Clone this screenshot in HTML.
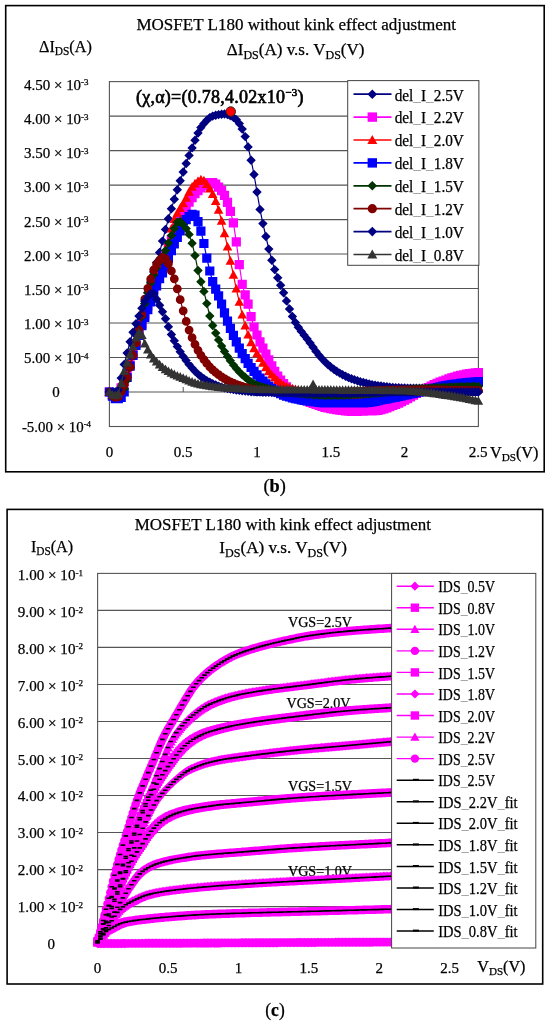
<!DOCTYPE html>
<html><head><meta charset="utf-8"><title>MOSFET L180 kink effect</title>
<style>html,body{margin:0;padding:0;background:#fff;}svg{display:block;}text{font-family:"Liberation Serif", "DejaVu Serif", serif;stroke:#000;stroke-width:0.25px;}</style>
</head><body>
<svg width="550" height="1025" viewBox="0 0 550 1025">
<rect width="550" height="1025" fill="#fff"/>
<rect x="5.7" y="5.6" width="538.5" height="466.2" fill="none" stroke="#000" stroke-width="1.6"/>
<line x1="109.4" x2="478.4" y1="392" y2="392" stroke="#555" stroke-width="1.1"/>
<line x1="109.4" x2="478.4" y1="357.5" y2="357.5" stroke="#555" stroke-width="1.1"/>
<line x1="109.4" x2="478.4" y1="323" y2="323" stroke="#555" stroke-width="1.1"/>
<line x1="109.4" x2="478.4" y1="288.5" y2="288.5" stroke="#555" stroke-width="1.1"/>
<line x1="109.4" x2="478.4" y1="254" y2="254" stroke="#555" stroke-width="1.1"/>
<line x1="109.4" x2="478.4" y1="219.6" y2="219.6" stroke="#555" stroke-width="1.1"/>
<line x1="109.4" x2="478.4" y1="185.1" y2="185.1" stroke="#555" stroke-width="1.1"/>
<line x1="109.4" x2="478.4" y1="150.6" y2="150.6" stroke="#555" stroke-width="1.1"/>
<line x1="109.4" x2="478.4" y1="116.1" y2="116.1" stroke="#555" stroke-width="1.1"/>
<line x1="183.2" x2="183.2" y1="387" y2="392" stroke="#555" stroke-width="1"/>
<line x1="257" x2="257" y1="387" y2="392" stroke="#555" stroke-width="1"/>
<line x1="330.8" x2="330.8" y1="387" y2="392" stroke="#555" stroke-width="1"/>
<line x1="404.6" x2="404.6" y1="387" y2="392" stroke="#555" stroke-width="1"/>
<line x1="478.4" x2="478.4" y1="387" y2="392" stroke="#555" stroke-width="1"/>
<rect x="109.4" y="81.6" width="369" height="344.9" fill="none" stroke="#555" stroke-width="1.1"/>
<g>
<polyline points="109.4,392 112.4,395 115.3,395.4 118.3,391.9 121.2,385.1 124.2,377 127.1,366.7 130.1,355.8 133,345.5 136,335.1 138.9,324.6 141.9,314 144.8,303.4 147.8,292.6 150.7,281.9 153.7,271.9 156.6,262.5 159.6,252.5 162.5,241.1 165.5,229.4 168.4,218.8 171.4,208.8 174.3,199.2 177.3,189.8 180.2,180.7 183.2,172 186.2,163.5 189.1,155.4 192.1,147.9 195,140.2 198,133.1 200.9,127.5 203.9,123.6 206.8,120.2 209.8,117.6 212.7,116.1 215.7,115.3 218.6,114.6 221.6,114.2 224.5,114 227.5,114.5 230.4,115.7 233.4,117.4 236.3,119.6 239.3,123.6 242.2,129.1 245.2,136.6 248.1,146.9 251.1,160.2 254,174.5 257,192 260,209.4 262.9,223.6 265.9,236.5 268.8,249.1 271.8,260.3 274.7,269.6 277.7,277.7 280.6,285.2 283.6,292.8 286.5,300.9 289.5,309 292.4,316.4 295.4,322.4 298.3,327.2 301.3,331.4 304.2,335.2 307.2,339 310.1,343 313.1,347.3 316,351.4 319,355.3 321.9,358.6 324.9,361.7 327.8,364.5 330.8,367 333.8,369.2 336.7,371.2 339.7,373.1 342.6,374.8 345.6,376.3 348.5,377.6 351.5,378.8 354.4,379.8 357.4,380.8 360.3,381.7 363.3,382.5 366.2,383.3 369.2,384 372.1,384.6 375.1,385.1 378,385.6 381,386 383.9,386.4 386.9,386.8 389.8,387.1 392.8,387.4 395.7,387.6 398.7,387.8 401.6,387.9 404.6,388 407.6,388.1 410.5,388.1 413.5,388.2 416.4,388.2 419.4,388.3 422.3,388.3 425.3,388.4 428.2,388.4 431.2,388.5 434.1,388.6 437.1,388.6 440,388.7 443,388.8 445.9,388.9 448.9,389.1 451.8,389.2 454.8,389.3 457.7,389.5 460.7,389.6 463.6,389.8 466.6,389.9 469.5,390.1 472.5,390.3 475.4,390.4 478.4,390.6" fill="none" stroke="#000080" stroke-width="1.2"/>
<path d="M109.4 387.3l4.7 4.7l-4.7 4.7l-4.7 -4.7zM112.4 390.3l4.7 4.7l-4.7 4.7l-4.7 -4.7zM115.3 390.7l4.7 4.7l-4.7 4.7l-4.7 -4.7zM118.3 387.2l4.7 4.7l-4.7 4.7l-4.7 -4.7zM121.2 380.4l4.7 4.7l-4.7 4.7l-4.7 -4.7zM124.2 372.3l4.7 4.7l-4.7 4.7l-4.7 -4.7zM127.1 362l4.7 4.7l-4.7 4.7l-4.7 -4.7zM130.1 351.1l4.7 4.7l-4.7 4.7l-4.7 -4.7zM133 340.8l4.7 4.7l-4.7 4.7l-4.7 -4.7zM136 330.4l4.7 4.7l-4.7 4.7l-4.7 -4.7zM138.9 319.9l4.7 4.7l-4.7 4.7l-4.7 -4.7zM141.9 309.3l4.7 4.7l-4.7 4.7l-4.7 -4.7zM144.8 298.7l4.7 4.7l-4.7 4.7l-4.7 -4.7zM147.8 287.9l4.7 4.7l-4.7 4.7l-4.7 -4.7zM150.7 277.2l4.7 4.7l-4.7 4.7l-4.7 -4.7zM153.7 267.2l4.7 4.7l-4.7 4.7l-4.7 -4.7zM156.6 257.8l4.7 4.7l-4.7 4.7l-4.7 -4.7zM159.6 247.8l4.7 4.7l-4.7 4.7l-4.7 -4.7zM162.5 236.4l4.7 4.7l-4.7 4.7l-4.7 -4.7zM165.5 224.7l4.7 4.7l-4.7 4.7l-4.7 -4.7zM168.4 214.1l4.7 4.7l-4.7 4.7l-4.7 -4.7zM171.4 204.1l4.7 4.7l-4.7 4.7l-4.7 -4.7zM174.3 194.5l4.7 4.7l-4.7 4.7l-4.7 -4.7zM177.3 185.1l4.7 4.7l-4.7 4.7l-4.7 -4.7zM180.2 176l4.7 4.7l-4.7 4.7l-4.7 -4.7zM183.2 167.3l4.7 4.7l-4.7 4.7l-4.7 -4.7zM186.2 158.8l4.7 4.7l-4.7 4.7l-4.7 -4.7zM189.1 150.7l4.7 4.7l-4.7 4.7l-4.7 -4.7zM192.1 143.2l4.7 4.7l-4.7 4.7l-4.7 -4.7zM195 135.5l4.7 4.7l-4.7 4.7l-4.7 -4.7zM198 128.4l4.7 4.7l-4.7 4.7l-4.7 -4.7zM200.9 122.8l4.7 4.7l-4.7 4.7l-4.7 -4.7zM203.9 118.9l4.7 4.7l-4.7 4.7l-4.7 -4.7zM206.8 115.5l4.7 4.7l-4.7 4.7l-4.7 -4.7zM209.8 112.9l4.7 4.7l-4.7 4.7l-4.7 -4.7zM212.7 111.4l4.7 4.7l-4.7 4.7l-4.7 -4.7zM215.7 110.6l4.7 4.7l-4.7 4.7l-4.7 -4.7zM218.6 109.9l4.7 4.7l-4.7 4.7l-4.7 -4.7zM221.6 109.5l4.7 4.7l-4.7 4.7l-4.7 -4.7zM224.5 109.3l4.7 4.7l-4.7 4.7l-4.7 -4.7zM227.5 109.8l4.7 4.7l-4.7 4.7l-4.7 -4.7zM230.4 111l4.7 4.7l-4.7 4.7l-4.7 -4.7zM233.4 112.7l4.7 4.7l-4.7 4.7l-4.7 -4.7zM236.3 114.9l4.7 4.7l-4.7 4.7l-4.7 -4.7zM239.3 118.9l4.7 4.7l-4.7 4.7l-4.7 -4.7zM242.2 124.4l4.7 4.7l-4.7 4.7l-4.7 -4.7zM245.2 131.9l4.7 4.7l-4.7 4.7l-4.7 -4.7zM248.1 142.2l4.7 4.7l-4.7 4.7l-4.7 -4.7zM251.1 155.5l4.7 4.7l-4.7 4.7l-4.7 -4.7zM254 169.8l4.7 4.7l-4.7 4.7l-4.7 -4.7zM257 187.3l4.7 4.7l-4.7 4.7l-4.7 -4.7zM260 204.7l4.7 4.7l-4.7 4.7l-4.7 -4.7zM262.9 218.9l4.7 4.7l-4.7 4.7l-4.7 -4.7zM265.9 231.8l4.7 4.7l-4.7 4.7l-4.7 -4.7zM268.8 244.4l4.7 4.7l-4.7 4.7l-4.7 -4.7zM271.8 255.6l4.7 4.7l-4.7 4.7l-4.7 -4.7zM274.7 264.9l4.7 4.7l-4.7 4.7l-4.7 -4.7zM277.7 273l4.7 4.7l-4.7 4.7l-4.7 -4.7zM280.6 280.5l4.7 4.7l-4.7 4.7l-4.7 -4.7zM283.6 288.1l4.7 4.7l-4.7 4.7l-4.7 -4.7zM286.5 296.2l4.7 4.7l-4.7 4.7l-4.7 -4.7zM289.5 304.3l4.7 4.7l-4.7 4.7l-4.7 -4.7zM292.4 311.7l4.7 4.7l-4.7 4.7l-4.7 -4.7zM295.4 317.7l4.7 4.7l-4.7 4.7l-4.7 -4.7zM298.3 322.5l4.7 4.7l-4.7 4.7l-4.7 -4.7zM301.3 326.7l4.7 4.7l-4.7 4.7l-4.7 -4.7zM304.2 330.5l4.7 4.7l-4.7 4.7l-4.7 -4.7zM307.2 334.3l4.7 4.7l-4.7 4.7l-4.7 -4.7zM310.1 338.3l4.7 4.7l-4.7 4.7l-4.7 -4.7zM313.1 342.6l4.7 4.7l-4.7 4.7l-4.7 -4.7zM316 346.7l4.7 4.7l-4.7 4.7l-4.7 -4.7zM319 350.6l4.7 4.7l-4.7 4.7l-4.7 -4.7zM321.9 353.9l4.7 4.7l-4.7 4.7l-4.7 -4.7zM324.9 357l4.7 4.7l-4.7 4.7l-4.7 -4.7zM327.8 359.8l4.7 4.7l-4.7 4.7l-4.7 -4.7zM330.8 362.3l4.7 4.7l-4.7 4.7l-4.7 -4.7zM333.8 364.5l4.7 4.7l-4.7 4.7l-4.7 -4.7zM336.7 366.5l4.7 4.7l-4.7 4.7l-4.7 -4.7zM339.7 368.4l4.7 4.7l-4.7 4.7l-4.7 -4.7zM342.6 370.1l4.7 4.7l-4.7 4.7l-4.7 -4.7zM345.6 371.6l4.7 4.7l-4.7 4.7l-4.7 -4.7zM348.5 372.9l4.7 4.7l-4.7 4.7l-4.7 -4.7zM351.5 374.1l4.7 4.7l-4.7 4.7l-4.7 -4.7zM354.4 375.1l4.7 4.7l-4.7 4.7l-4.7 -4.7zM357.4 376.1l4.7 4.7l-4.7 4.7l-4.7 -4.7zM360.3 377l4.7 4.7l-4.7 4.7l-4.7 -4.7zM363.3 377.8l4.7 4.7l-4.7 4.7l-4.7 -4.7zM366.2 378.6l4.7 4.7l-4.7 4.7l-4.7 -4.7zM369.2 379.3l4.7 4.7l-4.7 4.7l-4.7 -4.7zM372.1 379.9l4.7 4.7l-4.7 4.7l-4.7 -4.7zM375.1 380.4l4.7 4.7l-4.7 4.7l-4.7 -4.7zM378 380.9l4.7 4.7l-4.7 4.7l-4.7 -4.7zM381 381.3l4.7 4.7l-4.7 4.7l-4.7 -4.7zM383.9 381.7l4.7 4.7l-4.7 4.7l-4.7 -4.7zM386.9 382.1l4.7 4.7l-4.7 4.7l-4.7 -4.7zM389.8 382.4l4.7 4.7l-4.7 4.7l-4.7 -4.7zM392.8 382.7l4.7 4.7l-4.7 4.7l-4.7 -4.7zM395.7 382.9l4.7 4.7l-4.7 4.7l-4.7 -4.7zM398.7 383.1l4.7 4.7l-4.7 4.7l-4.7 -4.7zM401.6 383.2l4.7 4.7l-4.7 4.7l-4.7 -4.7zM404.6 383.3l4.7 4.7l-4.7 4.7l-4.7 -4.7zM407.6 383.4l4.7 4.7l-4.7 4.7l-4.7 -4.7zM410.5 383.4l4.7 4.7l-4.7 4.7l-4.7 -4.7zM413.5 383.5l4.7 4.7l-4.7 4.7l-4.7 -4.7zM416.4 383.5l4.7 4.7l-4.7 4.7l-4.7 -4.7zM419.4 383.6l4.7 4.7l-4.7 4.7l-4.7 -4.7zM422.3 383.6l4.7 4.7l-4.7 4.7l-4.7 -4.7zM425.3 383.7l4.7 4.7l-4.7 4.7l-4.7 -4.7zM428.2 383.7l4.7 4.7l-4.7 4.7l-4.7 -4.7zM431.2 383.8l4.7 4.7l-4.7 4.7l-4.7 -4.7zM434.1 383.9l4.7 4.7l-4.7 4.7l-4.7 -4.7zM437.1 383.9l4.7 4.7l-4.7 4.7l-4.7 -4.7zM440 384l4.7 4.7l-4.7 4.7l-4.7 -4.7zM443 384.1l4.7 4.7l-4.7 4.7l-4.7 -4.7zM445.9 384.2l4.7 4.7l-4.7 4.7l-4.7 -4.7zM448.9 384.4l4.7 4.7l-4.7 4.7l-4.7 -4.7zM451.8 384.5l4.7 4.7l-4.7 4.7l-4.7 -4.7zM454.8 384.6l4.7 4.7l-4.7 4.7l-4.7 -4.7zM457.7 384.8l4.7 4.7l-4.7 4.7l-4.7 -4.7zM460.7 384.9l4.7 4.7l-4.7 4.7l-4.7 -4.7zM463.6 385.1l4.7 4.7l-4.7 4.7l-4.7 -4.7zM466.6 385.2l4.7 4.7l-4.7 4.7l-4.7 -4.7zM469.5 385.4l4.7 4.7l-4.7 4.7l-4.7 -4.7zM472.5 385.6l4.7 4.7l-4.7 4.7l-4.7 -4.7zM475.4 385.7l4.7 4.7l-4.7 4.7l-4.7 -4.7zM478.4 385.9l4.7 4.7l-4.7 4.7l-4.7 -4.7z" fill="#000080"/>
<polyline points="109.4,392 112.4,394.8 115.3,395.4 118.3,393.2 121.2,387.9 124.2,381.7 127.1,374.2 130.1,364.8 133,354.2 136,343.4 138.9,333.4 141.9,324.1 144.8,315 147.8,306 150.7,297.2 153.7,288.5 156.6,279.9 159.6,271.4 162.5,263 165.5,254.9 168.4,247.1 171.4,239.6 174.3,232.2 177.3,225.1 180.2,218.5 183.2,212.7 186.2,207.3 189.1,202.2 192.1,197.6 195,193.7 198,190.6 200.9,188 203.9,185.5 206.8,183.6 209.8,182.5 212.7,182.5 215.7,184.2 218.6,187.1 221.6,190.6 224.5,195.3 227.5,202.3 230.4,211.3 233.4,222.9 236.3,241.8 239.3,264.7 242.2,284.4 245.2,294.8 248.1,304.1 251.1,316.7 254,327 257,335 260,341.9 262.9,348.1 265.9,354 268.8,359.9 271.8,365.8 274.7,371.3 277.7,376.1 280.6,380.1 283.6,383.7 286.5,386.9 289.5,389.8 292.4,392.3 295.4,394.4 298.3,396.4 301.3,398.1 304.2,399.7 307.2,401 310.1,402.3 313.1,403.4 316,404.5 319,405.5 321.9,406.4 324.9,407.3 327.8,408 330.8,408.6 333.8,409.1 336.7,409.6 339.7,410.1 342.6,410.5 345.6,410.9 348.5,411.2 351.5,411.3 354.4,411.3 357.4,411.3 360.3,411.2 363.3,411.1 366.2,411 369.2,410.9 372.1,410.8 375.1,410.6 378,410.3 381,409.7 383.9,408.8 386.9,407.8 389.8,406.7 392.8,405.5 395.7,404.3 398.7,403.1 401.6,401.7 404.6,400.2 407.6,398.6 410.5,396.9 413.5,395.2 416.4,393.5 419.4,392 422.3,390.5 425.3,389 428.2,387.6 431.2,386.1 434.1,384.7 437.1,383.4 440,382.2 443,381.1 445.9,380 448.9,378.9 451.8,377.9 454.8,377 457.7,376.1 460.7,375.4 463.6,374.8 466.6,374.2 469.5,373.7 472.5,373.3 475.4,372.9 478.4,372.7" fill="none" stroke="#FF00FF" stroke-width="1.2"/>
<path d="M104.8 387.4h9.2v9.2h-9.2zM107.8 390.2h9.2v9.2h-9.2zM110.7 390.8h9.2v9.2h-9.2zM113.7 388.6h9.2v9.2h-9.2zM116.6 383.3h9.2v9.2h-9.2zM119.6 377.1h9.2v9.2h-9.2zM122.5 369.6h9.2v9.2h-9.2zM125.5 360.2h9.2v9.2h-9.2zM128.4 349.6h9.2v9.2h-9.2zM131.4 338.8h9.2v9.2h-9.2zM134.3 328.8h9.2v9.2h-9.2zM137.3 319.5h9.2v9.2h-9.2zM140.2 310.4h9.2v9.2h-9.2zM143.2 301.4h9.2v9.2h-9.2zM146.1 292.6h9.2v9.2h-9.2zM149.1 283.9h9.2v9.2h-9.2zM152 275.3h9.2v9.2h-9.2zM155 266.8h9.2v9.2h-9.2zM157.9 258.4h9.2v9.2h-9.2zM160.9 250.3h9.2v9.2h-9.2zM163.8 242.5h9.2v9.2h-9.2zM166.8 235h9.2v9.2h-9.2zM169.7 227.6h9.2v9.2h-9.2zM172.7 220.5h9.2v9.2h-9.2zM175.6 213.9h9.2v9.2h-9.2zM178.6 208.1h9.2v9.2h-9.2zM181.6 202.7h9.2v9.2h-9.2zM184.5 197.6h9.2v9.2h-9.2zM187.5 193h9.2v9.2h-9.2zM190.4 189.1h9.2v9.2h-9.2zM193.4 186h9.2v9.2h-9.2zM196.3 183.4h9.2v9.2h-9.2zM199.3 180.9h9.2v9.2h-9.2zM202.2 179h9.2v9.2h-9.2zM205.2 177.9h9.2v9.2h-9.2zM208.1 177.9h9.2v9.2h-9.2zM211.1 179.6h9.2v9.2h-9.2zM214 182.5h9.2v9.2h-9.2zM217 186h9.2v9.2h-9.2zM219.9 190.7h9.2v9.2h-9.2zM222.9 197.7h9.2v9.2h-9.2zM225.8 206.7h9.2v9.2h-9.2zM228.8 218.3h9.2v9.2h-9.2zM231.7 237.2h9.2v9.2h-9.2zM234.7 260.1h9.2v9.2h-9.2zM237.6 279.8h9.2v9.2h-9.2zM240.6 290.2h9.2v9.2h-9.2zM243.5 299.5h9.2v9.2h-9.2zM246.5 312.1h9.2v9.2h-9.2zM249.4 322.4h9.2v9.2h-9.2zM252.4 330.4h9.2v9.2h-9.2zM255.4 337.3h9.2v9.2h-9.2zM258.3 343.5h9.2v9.2h-9.2zM261.3 349.4h9.2v9.2h-9.2zM264.2 355.3h9.2v9.2h-9.2zM267.2 361.2h9.2v9.2h-9.2zM270.1 366.7h9.2v9.2h-9.2zM273.1 371.5h9.2v9.2h-9.2zM276 375.5h9.2v9.2h-9.2zM279 379.1h9.2v9.2h-9.2zM281.9 382.3h9.2v9.2h-9.2zM284.9 385.2h9.2v9.2h-9.2zM287.8 387.7h9.2v9.2h-9.2zM290.8 389.8h9.2v9.2h-9.2zM293.7 391.8h9.2v9.2h-9.2zM296.7 393.5h9.2v9.2h-9.2zM299.6 395.1h9.2v9.2h-9.2zM302.6 396.4h9.2v9.2h-9.2zM305.5 397.7h9.2v9.2h-9.2zM308.5 398.8h9.2v9.2h-9.2zM311.4 399.9h9.2v9.2h-9.2zM314.4 400.9h9.2v9.2h-9.2zM317.3 401.8h9.2v9.2h-9.2zM320.3 402.7h9.2v9.2h-9.2zM323.2 403.4h9.2v9.2h-9.2zM326.2 404h9.2v9.2h-9.2zM329.2 404.5h9.2v9.2h-9.2zM332.1 405h9.2v9.2h-9.2zM335.1 405.5h9.2v9.2h-9.2zM338 405.9h9.2v9.2h-9.2zM341 406.3h9.2v9.2h-9.2zM343.9 406.6h9.2v9.2h-9.2zM346.9 406.7h9.2v9.2h-9.2zM349.8 406.7h9.2v9.2h-9.2zM352.8 406.7h9.2v9.2h-9.2zM355.7 406.6h9.2v9.2h-9.2zM358.7 406.5h9.2v9.2h-9.2zM361.6 406.4h9.2v9.2h-9.2zM364.6 406.3h9.2v9.2h-9.2zM367.5 406.2h9.2v9.2h-9.2zM370.5 406h9.2v9.2h-9.2zM373.4 405.7h9.2v9.2h-9.2zM376.4 405.1h9.2v9.2h-9.2zM379.3 404.2h9.2v9.2h-9.2zM382.3 403.2h9.2v9.2h-9.2zM385.2 402.1h9.2v9.2h-9.2zM388.2 400.9h9.2v9.2h-9.2zM391.1 399.7h9.2v9.2h-9.2zM394.1 398.5h9.2v9.2h-9.2zM397 397.1h9.2v9.2h-9.2zM400 395.6h9.2v9.2h-9.2zM403 394h9.2v9.2h-9.2zM405.9 392.3h9.2v9.2h-9.2zM408.9 390.6h9.2v9.2h-9.2zM411.8 388.9h9.2v9.2h-9.2zM414.8 387.4h9.2v9.2h-9.2zM417.7 385.9h9.2v9.2h-9.2zM420.7 384.4h9.2v9.2h-9.2zM423.6 383h9.2v9.2h-9.2zM426.6 381.5h9.2v9.2h-9.2zM429.5 380.1h9.2v9.2h-9.2zM432.5 378.8h9.2v9.2h-9.2zM435.4 377.6h9.2v9.2h-9.2zM438.4 376.5h9.2v9.2h-9.2zM441.3 375.4h9.2v9.2h-9.2zM444.3 374.3h9.2v9.2h-9.2zM447.2 373.3h9.2v9.2h-9.2zM450.2 372.4h9.2v9.2h-9.2zM453.1 371.5h9.2v9.2h-9.2zM456.1 370.8h9.2v9.2h-9.2zM459 370.2h9.2v9.2h-9.2zM462 369.6h9.2v9.2h-9.2zM464.9 369.1h9.2v9.2h-9.2zM467.9 368.7h9.2v9.2h-9.2zM470.8 368.3h9.2v9.2h-9.2zM473.8 368.1h9.2v9.2h-9.2z" fill="#FF00FF"/>
<polyline points="109.4,392 112.4,394.8 115.3,395.4 118.3,393.2 121.2,388 124.2,381.7 127.1,373.9 130.1,363.8 133,352.4 136,340.7 138.9,329.9 141.9,319.8 144.8,309.7 147.8,299.8 150.7,290.3 153.7,281.6 156.6,274.2 159.6,267.7 162.5,261.1 165.5,253.5 168.4,242.8 171.4,228.6 174.3,219 177.3,213 180.2,208.1 183.2,203.4 186.2,197.9 189.1,191.9 192.1,186.8 195,183.6 198,181 200.9,179.6 203.9,180.5 206.8,184 209.8,188.5 212.7,194 215.7,201.3 218.6,209.9 221.6,220.9 224.5,233.4 227.5,246.7 230.4,260.8 233.4,274.8 236.3,288.8 239.3,302 242.2,314.7 245.2,325.5 248.1,334.7 251.1,342.3 254,348.4 257,353.5 260,358.2 262.9,362.9 265.9,367.3 268.8,371.4 271.8,374.8 274.7,377.7 277.7,380.5 280.6,383 283.6,385 286.5,386.5 289.5,387.6 292.4,388.5 295.4,389.4 298.3,390.1 301.3,390.8 304.2,391.3 307.2,391.8 310.1,392.2 313.1,392.6 316,393 319,393.4 321.9,393.8 324.9,394.1 327.8,394.5 330.8,394.7 333.8,395 336.7,395.2 339.7,395.3 342.6,395.4 345.6,395.4 348.5,395.4 351.5,395.4 354.4,395.4 357.4,395.3 360.3,395.2 363.3,395.2 366.2,395.1 369.2,395 372.1,394.9 375.1,394.7 378,394.6 381,394.5 383.9,394.3 386.9,394.2 389.8,394.1 392.8,393.9 395.7,393.7 398.7,393.4 401.6,393.2 404.6,392.8 407.6,392.5 410.5,392.2 413.5,391.8 416.4,391.5 419.4,391.2 422.3,390.8 425.3,390.6 428.2,390.3 431.2,390.1 434.1,389.9 437.1,389.8 440,389.7 443,389.5 445.9,389.4 448.9,389.3 451.8,389.1 454.8,389 457.7,388.9 460.7,388.8 463.6,388.8 466.6,388.7 469.5,388.6 472.5,388.6 475.4,388.6 478.4,388.6" fill="none" stroke="#FF0000" stroke-width="1.2"/>
<path d="M109.4 387.2L114.2 395.8H104.6zM112.4 390L117.2 398.6H107.6zM115.3 390.6L120.1 399.3H110.5zM118.3 388.4L123.1 397.1H113.5zM121.2 383.2L126 391.8H116.4zM124.2 376.9L129 385.5H119.4zM127.1 369.1L131.9 377.8H122.3zM130.1 359L134.9 367.6H125.3zM133 347.6L137.8 356.2H128.2zM136 335.9L140.8 344.5H131.2zM138.9 325.1L143.7 333.8H134.1zM141.9 315L146.7 323.7H137.1zM144.8 304.9L149.6 313.5H140zM147.8 295L152.6 303.6H143zM150.7 285.5L155.5 294.2H145.9zM153.7 276.8L158.5 285.5H148.9zM156.6 269.4L161.4 278H151.8zM159.6 262.9L164.4 271.6H154.8zM162.5 256.3L167.3 265H157.7zM165.5 248.7L170.3 257.3H160.7zM168.4 238L173.2 246.7H163.6zM171.4 223.8L176.2 232.5H166.6zM174.3 214.2L179.1 222.9H169.5zM177.3 208.2L182.1 216.8H172.5zM180.2 203.3L185 212H175.4zM183.2 198.6L188 207.3H178.4zM186.2 193.1L191 201.8H181.4zM189.1 187.1L193.9 195.8H184.3zM192.1 182L196.9 190.7H187.3zM195 178.8L199.8 187.5H190.2zM198 176.2L202.8 184.9H193.2zM200.9 174.8L205.7 183.5H196.1zM203.9 175.7L208.7 184.4H199.1zM206.8 179.2L211.6 187.9H202zM209.8 183.7L214.6 192.4H205zM212.7 189.2L217.5 197.9H207.9zM215.7 196.5L220.5 205.1H210.9zM218.6 205.1L223.4 213.7H213.8zM221.6 216.1L226.4 224.8H216.8zM224.5 228.6L229.3 237.2H219.7zM227.5 241.9L232.3 250.5H222.7zM230.4 256L235.2 264.7H225.6zM233.4 270L238.2 278.7H228.6zM236.3 284L241.1 292.6H231.5zM239.3 297.2L244.1 305.8H234.5zM242.2 309.9L247 318.5H237.4zM245.2 320.7L250 329.4H240.4zM248.1 329.9L252.9 338.6H243.3zM251.1 337.5L255.9 346.2H246.3zM254 343.6L258.8 352.2H249.2zM257 348.7L261.8 357.3H252.2zM260 353.4L264.8 362.1H255.2zM262.9 358.1L267.7 366.7H258.1zM265.9 362.5L270.7 371.2H261.1zM268.8 366.6L273.6 375.2H264zM271.8 370L276.6 378.6H267zM274.7 372.9L279.5 381.6H269.9zM277.7 375.7L282.5 384.3H272.9zM280.6 378.2L285.4 386.8H275.8zM283.6 380.2L288.4 388.8H278.8zM286.5 381.7L291.3 390.3H281.7zM289.5 382.8L294.3 391.4H284.7zM292.4 383.7L297.2 392.4H287.6zM295.4 384.6L300.2 393.2H290.6zM298.3 385.3L303.1 394H293.5zM301.3 386L306.1 394.6H296.5zM304.2 386.5L309 395.1H299.4zM307.2 387L312 395.6H302.4zM310.1 387.4L314.9 396H305.3zM313.1 387.8L317.9 396.5H308.3zM316 388.2L320.8 396.9H311.2zM319 388.6L323.8 397.3H314.2zM321.9 389L326.7 397.6H317.1zM324.9 389.3L329.7 398H320.1zM327.8 389.7L332.6 398.3H323zM330.8 389.9L335.6 398.6H326zM333.8 390.2L338.6 398.8H329zM336.7 390.4L341.5 399H331.9zM339.7 390.5L344.5 399.2H334.9zM342.6 390.6L347.4 399.3H337.8zM345.6 390.6L350.4 399.3H340.8zM348.5 390.6L353.3 399.3H343.7zM351.5 390.6L356.3 399.3H346.7zM354.4 390.6L359.2 399.2H349.6zM357.4 390.5L362.2 399.2H352.6zM360.3 390.4L365.1 399.1H355.5zM363.3 390.4L368.1 399H358.5zM366.2 390.3L371 398.9H361.4zM369.2 390.2L374 398.8H364.4zM372.1 390.1L376.9 398.7H367.3zM375.1 389.9L379.9 398.6H370.3zM378 389.8L382.8 398.4H373.2zM381 389.7L385.8 398.3H376.2zM383.9 389.5L388.7 398.2H379.1zM386.9 389.4L391.7 398H382.1zM389.8 389.3L394.6 397.9H385zM392.8 389.1L397.6 397.7H388zM395.7 388.9L400.5 397.5H390.9zM398.7 388.6L403.5 397.3H393.9zM401.6 388.4L406.4 397H396.8zM404.6 388L409.4 396.7H399.8zM407.6 387.7L412.4 396.4H402.8zM410.5 387.4L415.3 396H405.7zM413.5 387L418.3 395.7H408.7zM416.4 386.7L421.2 395.3H411.6zM419.4 386.4L424.2 395H414.6zM422.3 386L427.1 394.7H417.5zM425.3 385.8L430.1 394.4H420.5zM428.2 385.5L433 394.1H423.4zM431.2 385.3L436 393.9H426.4zM434.1 385.1L438.9 393.8H429.3zM437.1 385L441.9 393.6H432.3zM440 384.9L444.8 393.5H435.2zM443 384.7L447.8 393.4H438.2zM445.9 384.6L450.7 393.2H441.1zM448.9 384.5L453.7 393.1H444.1zM451.8 384.3L456.6 393H447zM454.8 384.2L459.6 392.9H450zM457.7 384.1L462.5 392.8H452.9zM460.7 384L465.5 392.7H455.9zM463.6 384L468.4 392.6H458.8zM466.6 383.9L471.4 392.5H461.8zM469.5 383.8L474.3 392.5H464.7zM472.5 383.8L477.3 392.4H467.7zM475.4 383.8L480.2 392.4H470.6zM478.4 383.8L483.2 392.4H473.6z" fill="#FF0000"/>
<polyline points="109.4,392 112.4,396.2 115.3,398.6 118.3,398.7 121.2,397.3 124.2,392 127.1,377.5 130.1,366.1 133,355.4 136,345.4 138.9,335.5 141.9,325.7 144.8,317.3 147.8,309.7 150.7,301.9 153.7,294.1 156.6,286 159.6,278.6 162.5,272.8 165.5,266.4 168.4,258.4 171.4,250.6 174.3,243.8 177.3,237.4 180.2,230.8 183.2,224.2 186.2,219.6 189.1,216.5 192.1,214.4 195,215 198,221.7 200.9,231.2 203.9,243.5 206.8,258.2 209.8,271 212.7,281.6 215.7,289.1 218.6,295.9 221.6,304 224.5,312.8 227.5,321.1 230.4,328.4 233.4,335.4 236.3,341.9 239.3,348.1 242.2,353.7 245.2,358.7 248.1,363.3 251.1,367.5 254,371.3 257,374.8 260,378 262.9,381 265.9,383.9 268.8,386.4 271.8,388.6 274.7,390.4 277.7,392.2 280.6,393.7 283.6,395.1 286.5,396.1 289.5,397 292.4,397.8 295.4,398.6 298.3,399.2 301.3,399.8 304.2,400.3 307.2,400.8 310.1,401.2 313.1,401.6 316,401.9 319,402.3 321.9,402.6 324.9,402.8 327.8,403 330.8,403 333.8,403 336.7,403 339.7,403 342.6,403 345.6,403 348.5,403 351.5,403 354.4,403 357.4,403 360.3,403 363.3,403 366.2,402.7 369.2,402.3 372.1,401.9 375.1,401.3 378,400.7 381,400 383.9,399.4 386.9,398.8 389.8,398.2 392.8,397.7 395.7,397.1 398.7,396.5 401.6,395.9 404.6,395.2 407.6,394.6 410.5,394 413.5,393.3 416.4,392.7 419.4,392 422.3,391.3 425.3,390.6 428.2,389.8 431.2,389.1 434.1,388.3 437.1,387.6 440,386.9 443,386.2 445.9,385.6 448.9,385.1 451.8,384.6 454.8,384.2 457.7,383.8 460.7,383.4 463.6,383 466.6,382.7 469.5,382.4 472.5,382.1 475.4,381.8 478.4,381.7" fill="none" stroke="#0000FF" stroke-width="1.2"/>
<path d="M104.8 387.4h9.2v9.2h-9.2zM107.8 391.6h9.2v9.2h-9.2zM110.7 394h9.2v9.2h-9.2zM113.7 394.1h9.2v9.2h-9.2zM116.6 392.7h9.2v9.2h-9.2zM119.6 387.4h9.2v9.2h-9.2zM122.5 372.9h9.2v9.2h-9.2zM125.5 361.5h9.2v9.2h-9.2zM128.4 350.8h9.2v9.2h-9.2zM131.4 340.8h9.2v9.2h-9.2zM134.3 330.9h9.2v9.2h-9.2zM137.3 321.1h9.2v9.2h-9.2zM140.2 312.7h9.2v9.2h-9.2zM143.2 305.1h9.2v9.2h-9.2zM146.1 297.3h9.2v9.2h-9.2zM149.1 289.5h9.2v9.2h-9.2zM152 281.4h9.2v9.2h-9.2zM155 274h9.2v9.2h-9.2zM157.9 268.2h9.2v9.2h-9.2zM160.9 261.8h9.2v9.2h-9.2zM163.8 253.8h9.2v9.2h-9.2zM166.8 246h9.2v9.2h-9.2zM169.7 239.2h9.2v9.2h-9.2zM172.7 232.8h9.2v9.2h-9.2zM175.6 226.2h9.2v9.2h-9.2zM178.6 219.6h9.2v9.2h-9.2zM181.6 215h9.2v9.2h-9.2zM184.5 211.9h9.2v9.2h-9.2zM187.5 209.8h9.2v9.2h-9.2zM190.4 210.4h9.2v9.2h-9.2zM193.4 217.1h9.2v9.2h-9.2zM196.3 226.6h9.2v9.2h-9.2zM199.3 238.9h9.2v9.2h-9.2zM202.2 253.6h9.2v9.2h-9.2zM205.2 266.4h9.2v9.2h-9.2zM208.1 277h9.2v9.2h-9.2zM211.1 284.5h9.2v9.2h-9.2zM214 291.3h9.2v9.2h-9.2zM217 299.4h9.2v9.2h-9.2zM219.9 308.2h9.2v9.2h-9.2zM222.9 316.5h9.2v9.2h-9.2zM225.8 323.8h9.2v9.2h-9.2zM228.8 330.8h9.2v9.2h-9.2zM231.7 337.3h9.2v9.2h-9.2zM234.7 343.5h9.2v9.2h-9.2zM237.6 349.1h9.2v9.2h-9.2zM240.6 354.1h9.2v9.2h-9.2zM243.5 358.7h9.2v9.2h-9.2zM246.5 362.9h9.2v9.2h-9.2zM249.4 366.7h9.2v9.2h-9.2zM252.4 370.2h9.2v9.2h-9.2zM255.4 373.4h9.2v9.2h-9.2zM258.3 376.4h9.2v9.2h-9.2zM261.3 379.3h9.2v9.2h-9.2zM264.2 381.8h9.2v9.2h-9.2zM267.2 384h9.2v9.2h-9.2zM270.1 385.8h9.2v9.2h-9.2zM273.1 387.6h9.2v9.2h-9.2zM276 389.1h9.2v9.2h-9.2zM279 390.5h9.2v9.2h-9.2zM281.9 391.5h9.2v9.2h-9.2zM284.9 392.4h9.2v9.2h-9.2zM287.8 393.2h9.2v9.2h-9.2zM290.8 394h9.2v9.2h-9.2zM293.7 394.6h9.2v9.2h-9.2zM296.7 395.2h9.2v9.2h-9.2zM299.6 395.7h9.2v9.2h-9.2zM302.6 396.2h9.2v9.2h-9.2zM305.5 396.6h9.2v9.2h-9.2zM308.5 397h9.2v9.2h-9.2zM311.4 397.3h9.2v9.2h-9.2zM314.4 397.7h9.2v9.2h-9.2zM317.3 398h9.2v9.2h-9.2zM320.3 398.2h9.2v9.2h-9.2zM323.2 398.4h9.2v9.2h-9.2zM326.2 398.4h9.2v9.2h-9.2zM329.2 398.4h9.2v9.2h-9.2zM332.1 398.4h9.2v9.2h-9.2zM335.1 398.4h9.2v9.2h-9.2zM338 398.4h9.2v9.2h-9.2zM341 398.4h9.2v9.2h-9.2zM343.9 398.4h9.2v9.2h-9.2zM346.9 398.4h9.2v9.2h-9.2zM349.8 398.4h9.2v9.2h-9.2zM352.8 398.4h9.2v9.2h-9.2zM355.7 398.4h9.2v9.2h-9.2zM358.7 398.4h9.2v9.2h-9.2zM361.6 398.1h9.2v9.2h-9.2zM364.6 397.7h9.2v9.2h-9.2zM367.5 397.3h9.2v9.2h-9.2zM370.5 396.7h9.2v9.2h-9.2zM373.4 396.1h9.2v9.2h-9.2zM376.4 395.4h9.2v9.2h-9.2zM379.3 394.8h9.2v9.2h-9.2zM382.3 394.2h9.2v9.2h-9.2zM385.2 393.6h9.2v9.2h-9.2zM388.2 393.1h9.2v9.2h-9.2zM391.1 392.5h9.2v9.2h-9.2zM394.1 391.9h9.2v9.2h-9.2zM397 391.3h9.2v9.2h-9.2zM400 390.6h9.2v9.2h-9.2zM403 390h9.2v9.2h-9.2zM405.9 389.4h9.2v9.2h-9.2zM408.9 388.7h9.2v9.2h-9.2zM411.8 388.1h9.2v9.2h-9.2zM414.8 387.4h9.2v9.2h-9.2zM417.7 386.7h9.2v9.2h-9.2zM420.7 386h9.2v9.2h-9.2zM423.6 385.2h9.2v9.2h-9.2zM426.6 384.5h9.2v9.2h-9.2zM429.5 383.7h9.2v9.2h-9.2zM432.5 383h9.2v9.2h-9.2zM435.4 382.3h9.2v9.2h-9.2zM438.4 381.6h9.2v9.2h-9.2zM441.3 381h9.2v9.2h-9.2zM444.3 380.5h9.2v9.2h-9.2zM447.2 380h9.2v9.2h-9.2zM450.2 379.6h9.2v9.2h-9.2zM453.1 379.2h9.2v9.2h-9.2zM456.1 378.8h9.2v9.2h-9.2zM459 378.4h9.2v9.2h-9.2zM462 378.1h9.2v9.2h-9.2zM464.9 377.8h9.2v9.2h-9.2zM467.9 377.5h9.2v9.2h-9.2zM470.8 377.2h9.2v9.2h-9.2zM473.8 377.1h9.2v9.2h-9.2z" fill="#0000FF"/>
<polyline points="109.4,392 112.4,394.5 115.3,395.4 118.3,395.1 121.2,392.6 124.2,388.6 127.1,380.1 130.1,367.2 133,355 136,342.6 138.9,329.9 141.9,316.7 144.8,303.8 147.8,292.9 150.7,283.1 153.7,274.7 156.6,268 159.6,262.3 162.5,256.7 165.5,250.6 168.4,243.1 171.4,235.4 174.3,228.5 177.3,222.1 180.2,221.5 183.2,224.6 186.2,228.6 189.1,234.4 192.1,243.2 195,255.6 198,270.5 200.9,281.8 203.9,291.4 206.8,303.6 209.8,316 212.7,325.5 215.7,333.1 218.6,339.9 221.6,346 224.5,351.5 227.5,356.4 230.4,360.8 233.4,364.9 236.3,368.6 239.3,371.9 242.2,374.8 245.2,377.3 248.1,379.8 251.1,381.9 254,383.7 257,385.1 260,386.2 262.9,387.1 265.9,388 268.8,388.8 271.8,389.5 274.7,390.1 277.7,390.7 280.6,391.2 283.6,391.6 286.5,392 289.5,392.4 292.4,392.7 295.4,393 298.3,393.4 301.3,393.7 304.2,394 307.2,394.3 310.1,394.5 313.1,394.7 316,395 319,395.1 321.9,395.3 324.9,395.4 327.8,395.4 330.8,395.4 333.8,395.4 336.7,395.4 339.7,395.3 342.6,395.2 345.6,395.1 348.5,395 351.5,394.9 354.4,394.7 357.4,394.5 360.3,394.3 363.3,394.2 366.2,394 369.2,393.8 372.1,393.6 375.1,393.4 378,393.2 381,392.9 383.9,392.6 386.9,392.2 389.8,391.9 392.8,391.5 395.7,391.1 398.7,390.7 401.6,390.3 404.6,389.9 407.6,389.6 410.5,389.3 413.5,389 416.4,388.7 419.4,388.6 422.3,388.4 425.3,388.2 428.2,388.1 431.2,387.9 434.1,387.8 437.1,387.6 440,387.5 443,387.4 445.9,387.2 448.9,387.1 451.8,387 454.8,386.9 457.7,386.8 460.7,386.7 463.6,386.7 466.6,386.6 469.5,386.5 472.5,386.5 475.4,386.5 478.4,386.5" fill="none" stroke="#003300" stroke-width="1.2"/>
<path d="M109.4 387.3l4.7 4.7l-4.7 4.7l-4.7 -4.7zM112.4 389.8l4.7 4.7l-4.7 4.7l-4.7 -4.7zM115.3 390.7l4.7 4.7l-4.7 4.7l-4.7 -4.7zM118.3 390.4l4.7 4.7l-4.7 4.7l-4.7 -4.7zM121.2 387.9l4.7 4.7l-4.7 4.7l-4.7 -4.7zM124.2 383.9l4.7 4.7l-4.7 4.7l-4.7 -4.7zM127.1 375.4l4.7 4.7l-4.7 4.7l-4.7 -4.7zM130.1 362.5l4.7 4.7l-4.7 4.7l-4.7 -4.7zM133 350.3l4.7 4.7l-4.7 4.7l-4.7 -4.7zM136 337.9l4.7 4.7l-4.7 4.7l-4.7 -4.7zM138.9 325.2l4.7 4.7l-4.7 4.7l-4.7 -4.7zM141.9 312l4.7 4.7l-4.7 4.7l-4.7 -4.7zM144.8 299.1l4.7 4.7l-4.7 4.7l-4.7 -4.7zM147.8 288.2l4.7 4.7l-4.7 4.7l-4.7 -4.7zM150.7 278.4l4.7 4.7l-4.7 4.7l-4.7 -4.7zM153.7 270l4.7 4.7l-4.7 4.7l-4.7 -4.7zM156.6 263.3l4.7 4.7l-4.7 4.7l-4.7 -4.7zM159.6 257.6l4.7 4.7l-4.7 4.7l-4.7 -4.7zM162.5 252l4.7 4.7l-4.7 4.7l-4.7 -4.7zM165.5 245.9l4.7 4.7l-4.7 4.7l-4.7 -4.7zM168.4 238.4l4.7 4.7l-4.7 4.7l-4.7 -4.7zM171.4 230.7l4.7 4.7l-4.7 4.7l-4.7 -4.7zM174.3 223.8l4.7 4.7l-4.7 4.7l-4.7 -4.7zM177.3 217.4l4.7 4.7l-4.7 4.7l-4.7 -4.7zM180.2 216.8l4.7 4.7l-4.7 4.7l-4.7 -4.7zM183.2 219.9l4.7 4.7l-4.7 4.7l-4.7 -4.7zM186.2 223.9l4.7 4.7l-4.7 4.7l-4.7 -4.7zM189.1 229.7l4.7 4.7l-4.7 4.7l-4.7 -4.7zM192.1 238.5l4.7 4.7l-4.7 4.7l-4.7 -4.7zM195 250.9l4.7 4.7l-4.7 4.7l-4.7 -4.7zM198 265.8l4.7 4.7l-4.7 4.7l-4.7 -4.7zM200.9 277.1l4.7 4.7l-4.7 4.7l-4.7 -4.7zM203.9 286.7l4.7 4.7l-4.7 4.7l-4.7 -4.7zM206.8 298.9l4.7 4.7l-4.7 4.7l-4.7 -4.7zM209.8 311.3l4.7 4.7l-4.7 4.7l-4.7 -4.7zM212.7 320.8l4.7 4.7l-4.7 4.7l-4.7 -4.7zM215.7 328.4l4.7 4.7l-4.7 4.7l-4.7 -4.7zM218.6 335.2l4.7 4.7l-4.7 4.7l-4.7 -4.7zM221.6 341.3l4.7 4.7l-4.7 4.7l-4.7 -4.7zM224.5 346.8l4.7 4.7l-4.7 4.7l-4.7 -4.7zM227.5 351.7l4.7 4.7l-4.7 4.7l-4.7 -4.7zM230.4 356.1l4.7 4.7l-4.7 4.7l-4.7 -4.7zM233.4 360.2l4.7 4.7l-4.7 4.7l-4.7 -4.7zM236.3 363.9l4.7 4.7l-4.7 4.7l-4.7 -4.7zM239.3 367.2l4.7 4.7l-4.7 4.7l-4.7 -4.7zM242.2 370.1l4.7 4.7l-4.7 4.7l-4.7 -4.7zM245.2 372.6l4.7 4.7l-4.7 4.7l-4.7 -4.7zM248.1 375.1l4.7 4.7l-4.7 4.7l-4.7 -4.7zM251.1 377.2l4.7 4.7l-4.7 4.7l-4.7 -4.7zM254 379l4.7 4.7l-4.7 4.7l-4.7 -4.7zM257 380.4l4.7 4.7l-4.7 4.7l-4.7 -4.7zM260 381.5l4.7 4.7l-4.7 4.7l-4.7 -4.7zM262.9 382.4l4.7 4.7l-4.7 4.7l-4.7 -4.7zM265.9 383.3l4.7 4.7l-4.7 4.7l-4.7 -4.7zM268.8 384.1l4.7 4.7l-4.7 4.7l-4.7 -4.7zM271.8 384.8l4.7 4.7l-4.7 4.7l-4.7 -4.7zM274.7 385.4l4.7 4.7l-4.7 4.7l-4.7 -4.7zM277.7 386l4.7 4.7l-4.7 4.7l-4.7 -4.7zM280.6 386.5l4.7 4.7l-4.7 4.7l-4.7 -4.7zM283.6 386.9l4.7 4.7l-4.7 4.7l-4.7 -4.7zM286.5 387.3l4.7 4.7l-4.7 4.7l-4.7 -4.7zM289.5 387.7l4.7 4.7l-4.7 4.7l-4.7 -4.7zM292.4 388l4.7 4.7l-4.7 4.7l-4.7 -4.7zM295.4 388.3l4.7 4.7l-4.7 4.7l-4.7 -4.7zM298.3 388.7l4.7 4.7l-4.7 4.7l-4.7 -4.7zM301.3 389l4.7 4.7l-4.7 4.7l-4.7 -4.7zM304.2 389.3l4.7 4.7l-4.7 4.7l-4.7 -4.7zM307.2 389.6l4.7 4.7l-4.7 4.7l-4.7 -4.7zM310.1 389.8l4.7 4.7l-4.7 4.7l-4.7 -4.7zM313.1 390l4.7 4.7l-4.7 4.7l-4.7 -4.7zM316 390.3l4.7 4.7l-4.7 4.7l-4.7 -4.7zM319 390.4l4.7 4.7l-4.7 4.7l-4.7 -4.7zM321.9 390.6l4.7 4.7l-4.7 4.7l-4.7 -4.7zM324.9 390.7l4.7 4.7l-4.7 4.7l-4.7 -4.7zM327.8 390.7l4.7 4.7l-4.7 4.7l-4.7 -4.7zM330.8 390.7l4.7 4.7l-4.7 4.7l-4.7 -4.7zM333.8 390.7l4.7 4.7l-4.7 4.7l-4.7 -4.7zM336.7 390.7l4.7 4.7l-4.7 4.7l-4.7 -4.7zM339.7 390.6l4.7 4.7l-4.7 4.7l-4.7 -4.7zM342.6 390.5l4.7 4.7l-4.7 4.7l-4.7 -4.7zM345.6 390.4l4.7 4.7l-4.7 4.7l-4.7 -4.7zM348.5 390.3l4.7 4.7l-4.7 4.7l-4.7 -4.7zM351.5 390.2l4.7 4.7l-4.7 4.7l-4.7 -4.7zM354.4 390l4.7 4.7l-4.7 4.7l-4.7 -4.7zM357.4 389.8l4.7 4.7l-4.7 4.7l-4.7 -4.7zM360.3 389.6l4.7 4.7l-4.7 4.7l-4.7 -4.7zM363.3 389.5l4.7 4.7l-4.7 4.7l-4.7 -4.7zM366.2 389.3l4.7 4.7l-4.7 4.7l-4.7 -4.7zM369.2 389.1l4.7 4.7l-4.7 4.7l-4.7 -4.7zM372.1 388.9l4.7 4.7l-4.7 4.7l-4.7 -4.7zM375.1 388.7l4.7 4.7l-4.7 4.7l-4.7 -4.7zM378 388.5l4.7 4.7l-4.7 4.7l-4.7 -4.7zM381 388.2l4.7 4.7l-4.7 4.7l-4.7 -4.7zM383.9 387.9l4.7 4.7l-4.7 4.7l-4.7 -4.7zM386.9 387.5l4.7 4.7l-4.7 4.7l-4.7 -4.7zM389.8 387.2l4.7 4.7l-4.7 4.7l-4.7 -4.7zM392.8 386.8l4.7 4.7l-4.7 4.7l-4.7 -4.7zM395.7 386.4l4.7 4.7l-4.7 4.7l-4.7 -4.7zM398.7 386l4.7 4.7l-4.7 4.7l-4.7 -4.7zM401.6 385.6l4.7 4.7l-4.7 4.7l-4.7 -4.7zM404.6 385.2l4.7 4.7l-4.7 4.7l-4.7 -4.7zM407.6 384.9l4.7 4.7l-4.7 4.7l-4.7 -4.7zM410.5 384.6l4.7 4.7l-4.7 4.7l-4.7 -4.7zM413.5 384.3l4.7 4.7l-4.7 4.7l-4.7 -4.7zM416.4 384l4.7 4.7l-4.7 4.7l-4.7 -4.7zM419.4 383.9l4.7 4.7l-4.7 4.7l-4.7 -4.7zM422.3 383.7l4.7 4.7l-4.7 4.7l-4.7 -4.7zM425.3 383.5l4.7 4.7l-4.7 4.7l-4.7 -4.7zM428.2 383.4l4.7 4.7l-4.7 4.7l-4.7 -4.7zM431.2 383.2l4.7 4.7l-4.7 4.7l-4.7 -4.7zM434.1 383.1l4.7 4.7l-4.7 4.7l-4.7 -4.7zM437.1 382.9l4.7 4.7l-4.7 4.7l-4.7 -4.7zM440 382.8l4.7 4.7l-4.7 4.7l-4.7 -4.7zM443 382.7l4.7 4.7l-4.7 4.7l-4.7 -4.7zM445.9 382.5l4.7 4.7l-4.7 4.7l-4.7 -4.7zM448.9 382.4l4.7 4.7l-4.7 4.7l-4.7 -4.7zM451.8 382.3l4.7 4.7l-4.7 4.7l-4.7 -4.7zM454.8 382.2l4.7 4.7l-4.7 4.7l-4.7 -4.7zM457.7 382.1l4.7 4.7l-4.7 4.7l-4.7 -4.7zM460.7 382l4.7 4.7l-4.7 4.7l-4.7 -4.7zM463.6 382l4.7 4.7l-4.7 4.7l-4.7 -4.7zM466.6 381.9l4.7 4.7l-4.7 4.7l-4.7 -4.7zM469.5 381.8l4.7 4.7l-4.7 4.7l-4.7 -4.7zM472.5 381.8l4.7 4.7l-4.7 4.7l-4.7 -4.7zM475.4 381.8l4.7 4.7l-4.7 4.7l-4.7 -4.7zM478.4 381.8l4.7 4.7l-4.7 4.7l-4.7 -4.7z" fill="#003300"/>
<polyline points="109.4,392 112.4,396 115.3,397.4 118.3,396.8 121.2,391.8 124.2,385.1 127.1,377.2 130.1,367.2 133,355.5 136,342.9 138.9,329.9 141.9,314.7 144.8,299.2 147.8,288.4 150.7,279.2 153.7,269.8 156.6,264.3 159.6,260.1 162.5,257.7 165.5,258.6 168.4,263.7 171.4,271 174.3,278.8 177.3,288.8 180.2,299.7 183.2,310.8 186.2,321.4 189.1,330.1 192.1,337.7 195,344.4 198,350.3 200.9,355.3 203.9,359.6 206.8,363.5 209.8,367 212.7,369.9 215.7,372.5 218.6,374.7 221.6,376.8 224.5,378.6 227.5,380.3 230.4,381.8 233.4,383.2 236.3,384.4 239.3,385.5 242.2,386.5 245.2,387.4 248.1,388.2 251.1,388.9 254,389.5 257,389.9 260,390.3 262.9,390.6 265.9,390.9 268.8,391.1 271.8,391.4 274.7,391.6 277.7,391.8 280.6,391.9 283.6,392 286.5,392 289.5,392 292.4,392 295.4,392 298.3,392 301.3,392 304.2,392 307.2,392 310.1,392 313.1,392 316,392 319,392 321.9,392 324.9,392 327.8,392 330.8,392 333.8,392 336.7,392 339.7,391.9 342.6,391.9 345.6,391.8 348.5,391.7 351.5,391.6 354.4,391.5 357.4,391.4 360.3,391.3 363.3,391.2 366.2,391 369.2,390.9 372.1,390.8 375.1,390.7 378,390.5 381,390.4 383.9,390.3 386.9,390.2 389.8,390.1 392.8,390.1 395.7,390 398.7,390 401.6,389.9 404.6,389.9 407.6,389.9 410.5,389.9 413.5,389.9 416.4,389.9 419.4,389.9 422.3,389.9 425.3,389.9 428.2,390 431.2,390 434.1,390 437.1,390 440,390 443,390 445.9,390.1 448.9,390.1 451.8,390.1 454.8,390.1 457.7,390.2 460.7,390.2 463.6,390.3 466.6,390.3 469.5,390.4 472.5,390.5 475.4,390.5 478.4,390.6" fill="none" stroke="#800000" stroke-width="1.2"/>
<path d="M105 392a4.4 4.4 0 1 0 8.8 0a4.4 4.4 0 1 0 -8.8 0M108 396a4.4 4.4 0 1 0 8.8 0a4.4 4.4 0 1 0 -8.8 0M110.9 397.4a4.4 4.4 0 1 0 8.8 0a4.4 4.4 0 1 0 -8.8 0M113.9 396.8a4.4 4.4 0 1 0 8.8 0a4.4 4.4 0 1 0 -8.8 0M116.8 391.8a4.4 4.4 0 1 0 8.8 0a4.4 4.4 0 1 0 -8.8 0M119.8 385.1a4.4 4.4 0 1 0 8.8 0a4.4 4.4 0 1 0 -8.8 0M122.7 377.2a4.4 4.4 0 1 0 8.8 0a4.4 4.4 0 1 0 -8.8 0M125.7 367.2a4.4 4.4 0 1 0 8.8 0a4.4 4.4 0 1 0 -8.8 0M128.6 355.5a4.4 4.4 0 1 0 8.8 0a4.4 4.4 0 1 0 -8.8 0M131.6 342.9a4.4 4.4 0 1 0 8.8 0a4.4 4.4 0 1 0 -8.8 0M134.5 329.9a4.4 4.4 0 1 0 8.8 0a4.4 4.4 0 1 0 -8.8 0M137.5 314.7a4.4 4.4 0 1 0 8.8 0a4.4 4.4 0 1 0 -8.8 0M140.4 299.2a4.4 4.4 0 1 0 8.8 0a4.4 4.4 0 1 0 -8.8 0M143.4 288.4a4.4 4.4 0 1 0 8.8 0a4.4 4.4 0 1 0 -8.8 0M146.3 279.2a4.4 4.4 0 1 0 8.8 0a4.4 4.4 0 1 0 -8.8 0M149.3 269.8a4.4 4.4 0 1 0 8.8 0a4.4 4.4 0 1 0 -8.8 0M152.2 264.3a4.4 4.4 0 1 0 8.8 0a4.4 4.4 0 1 0 -8.8 0M155.2 260.1a4.4 4.4 0 1 0 8.8 0a4.4 4.4 0 1 0 -8.8 0M158.1 257.7a4.4 4.4 0 1 0 8.8 0a4.4 4.4 0 1 0 -8.8 0M161.1 258.6a4.4 4.4 0 1 0 8.8 0a4.4 4.4 0 1 0 -8.8 0M164 263.7a4.4 4.4 0 1 0 8.8 0a4.4 4.4 0 1 0 -8.8 0M167 271a4.4 4.4 0 1 0 8.8 0a4.4 4.4 0 1 0 -8.8 0M169.9 278.8a4.4 4.4 0 1 0 8.8 0a4.4 4.4 0 1 0 -8.8 0M172.9 288.8a4.4 4.4 0 1 0 8.8 0a4.4 4.4 0 1 0 -8.8 0M175.8 299.7a4.4 4.4 0 1 0 8.8 0a4.4 4.4 0 1 0 -8.8 0M178.8 310.8a4.4 4.4 0 1 0 8.8 0a4.4 4.4 0 1 0 -8.8 0M181.8 321.4a4.4 4.4 0 1 0 8.8 0a4.4 4.4 0 1 0 -8.8 0M184.7 330.1a4.4 4.4 0 1 0 8.8 0a4.4 4.4 0 1 0 -8.8 0M187.7 337.7a4.4 4.4 0 1 0 8.8 0a4.4 4.4 0 1 0 -8.8 0M190.6 344.4a4.4 4.4 0 1 0 8.8 0a4.4 4.4 0 1 0 -8.8 0M193.6 350.3a4.4 4.4 0 1 0 8.8 0a4.4 4.4 0 1 0 -8.8 0M196.5 355.3a4.4 4.4 0 1 0 8.8 0a4.4 4.4 0 1 0 -8.8 0M199.5 359.6a4.4 4.4 0 1 0 8.8 0a4.4 4.4 0 1 0 -8.8 0M202.4 363.5a4.4 4.4 0 1 0 8.8 0a4.4 4.4 0 1 0 -8.8 0M205.4 367a4.4 4.4 0 1 0 8.8 0a4.4 4.4 0 1 0 -8.8 0M208.3 369.9a4.4 4.4 0 1 0 8.8 0a4.4 4.4 0 1 0 -8.8 0M211.3 372.5a4.4 4.4 0 1 0 8.8 0a4.4 4.4 0 1 0 -8.8 0M214.2 374.7a4.4 4.4 0 1 0 8.8 0a4.4 4.4 0 1 0 -8.8 0M217.2 376.8a4.4 4.4 0 1 0 8.8 0a4.4 4.4 0 1 0 -8.8 0M220.1 378.6a4.4 4.4 0 1 0 8.8 0a4.4 4.4 0 1 0 -8.8 0M223.1 380.3a4.4 4.4 0 1 0 8.8 0a4.4 4.4 0 1 0 -8.8 0M226 381.8a4.4 4.4 0 1 0 8.8 0a4.4 4.4 0 1 0 -8.8 0M229 383.2a4.4 4.4 0 1 0 8.8 0a4.4 4.4 0 1 0 -8.8 0M231.9 384.4a4.4 4.4 0 1 0 8.8 0a4.4 4.4 0 1 0 -8.8 0M234.9 385.5a4.4 4.4 0 1 0 8.8 0a4.4 4.4 0 1 0 -8.8 0M237.8 386.5a4.4 4.4 0 1 0 8.8 0a4.4 4.4 0 1 0 -8.8 0M240.8 387.4a4.4 4.4 0 1 0 8.8 0a4.4 4.4 0 1 0 -8.8 0M243.7 388.2a4.4 4.4 0 1 0 8.8 0a4.4 4.4 0 1 0 -8.8 0M246.7 388.9a4.4 4.4 0 1 0 8.8 0a4.4 4.4 0 1 0 -8.8 0M249.6 389.5a4.4 4.4 0 1 0 8.8 0a4.4 4.4 0 1 0 -8.8 0M252.6 389.9a4.4 4.4 0 1 0 8.8 0a4.4 4.4 0 1 0 -8.8 0M255.6 390.3a4.4 4.4 0 1 0 8.8 0a4.4 4.4 0 1 0 -8.8 0M258.5 390.6a4.4 4.4 0 1 0 8.8 0a4.4 4.4 0 1 0 -8.8 0M261.5 390.9a4.4 4.4 0 1 0 8.8 0a4.4 4.4 0 1 0 -8.8 0M264.4 391.1a4.4 4.4 0 1 0 8.8 0a4.4 4.4 0 1 0 -8.8 0M267.4 391.4a4.4 4.4 0 1 0 8.8 0a4.4 4.4 0 1 0 -8.8 0M270.3 391.6a4.4 4.4 0 1 0 8.8 0a4.4 4.4 0 1 0 -8.8 0M273.3 391.8a4.4 4.4 0 1 0 8.8 0a4.4 4.4 0 1 0 -8.8 0M276.2 391.9a4.4 4.4 0 1 0 8.8 0a4.4 4.4 0 1 0 -8.8 0M279.2 392a4.4 4.4 0 1 0 8.8 0a4.4 4.4 0 1 0 -8.8 0M282.1 392a4.4 4.4 0 1 0 8.8 0a4.4 4.4 0 1 0 -8.8 0M285.1 392a4.4 4.4 0 1 0 8.8 0a4.4 4.4 0 1 0 -8.8 0M288 392a4.4 4.4 0 1 0 8.8 0a4.4 4.4 0 1 0 -8.8 0M291 392a4.4 4.4 0 1 0 8.8 0a4.4 4.4 0 1 0 -8.8 0M293.9 392a4.4 4.4 0 1 0 8.8 0a4.4 4.4 0 1 0 -8.8 0M296.9 392a4.4 4.4 0 1 0 8.8 0a4.4 4.4 0 1 0 -8.8 0M299.8 392a4.4 4.4 0 1 0 8.8 0a4.4 4.4 0 1 0 -8.8 0M302.8 392a4.4 4.4 0 1 0 8.8 0a4.4 4.4 0 1 0 -8.8 0M305.7 392a4.4 4.4 0 1 0 8.8 0a4.4 4.4 0 1 0 -8.8 0M308.7 392a4.4 4.4 0 1 0 8.8 0a4.4 4.4 0 1 0 -8.8 0M311.6 392a4.4 4.4 0 1 0 8.8 0a4.4 4.4 0 1 0 -8.8 0M314.6 392a4.4 4.4 0 1 0 8.8 0a4.4 4.4 0 1 0 -8.8 0M317.5 392a4.4 4.4 0 1 0 8.8 0a4.4 4.4 0 1 0 -8.8 0M320.5 392a4.4 4.4 0 1 0 8.8 0a4.4 4.4 0 1 0 -8.8 0M323.4 392a4.4 4.4 0 1 0 8.8 0a4.4 4.4 0 1 0 -8.8 0M326.4 392a4.4 4.4 0 1 0 8.8 0a4.4 4.4 0 1 0 -8.8 0M329.4 392a4.4 4.4 0 1 0 8.8 0a4.4 4.4 0 1 0 -8.8 0M332.3 392a4.4 4.4 0 1 0 8.8 0a4.4 4.4 0 1 0 -8.8 0M335.3 391.9a4.4 4.4 0 1 0 8.8 0a4.4 4.4 0 1 0 -8.8 0M338.2 391.9a4.4 4.4 0 1 0 8.8 0a4.4 4.4 0 1 0 -8.8 0M341.2 391.8a4.4 4.4 0 1 0 8.8 0a4.4 4.4 0 1 0 -8.8 0M344.1 391.7a4.4 4.4 0 1 0 8.8 0a4.4 4.4 0 1 0 -8.8 0M347.1 391.6a4.4 4.4 0 1 0 8.8 0a4.4 4.4 0 1 0 -8.8 0M350 391.5a4.4 4.4 0 1 0 8.8 0a4.4 4.4 0 1 0 -8.8 0M353 391.4a4.4 4.4 0 1 0 8.8 0a4.4 4.4 0 1 0 -8.8 0M355.9 391.3a4.4 4.4 0 1 0 8.8 0a4.4 4.4 0 1 0 -8.8 0M358.9 391.2a4.4 4.4 0 1 0 8.8 0a4.4 4.4 0 1 0 -8.8 0M361.8 391a4.4 4.4 0 1 0 8.8 0a4.4 4.4 0 1 0 -8.8 0M364.8 390.9a4.4 4.4 0 1 0 8.8 0a4.4 4.4 0 1 0 -8.8 0M367.7 390.8a4.4 4.4 0 1 0 8.8 0a4.4 4.4 0 1 0 -8.8 0M370.7 390.7a4.4 4.4 0 1 0 8.8 0a4.4 4.4 0 1 0 -8.8 0M373.6 390.5a4.4 4.4 0 1 0 8.8 0a4.4 4.4 0 1 0 -8.8 0M376.6 390.4a4.4 4.4 0 1 0 8.8 0a4.4 4.4 0 1 0 -8.8 0M379.5 390.3a4.4 4.4 0 1 0 8.8 0a4.4 4.4 0 1 0 -8.8 0M382.5 390.2a4.4 4.4 0 1 0 8.8 0a4.4 4.4 0 1 0 -8.8 0M385.4 390.1a4.4 4.4 0 1 0 8.8 0a4.4 4.4 0 1 0 -8.8 0M388.4 390.1a4.4 4.4 0 1 0 8.8 0a4.4 4.4 0 1 0 -8.8 0M391.3 390a4.4 4.4 0 1 0 8.8 0a4.4 4.4 0 1 0 -8.8 0M394.3 390a4.4 4.4 0 1 0 8.8 0a4.4 4.4 0 1 0 -8.8 0M397.2 389.9a4.4 4.4 0 1 0 8.8 0a4.4 4.4 0 1 0 -8.8 0M400.2 389.9a4.4 4.4 0 1 0 8.8 0a4.4 4.4 0 1 0 -8.8 0M403.2 389.9a4.4 4.4 0 1 0 8.8 0a4.4 4.4 0 1 0 -8.8 0M406.1 389.9a4.4 4.4 0 1 0 8.8 0a4.4 4.4 0 1 0 -8.8 0M409.1 389.9a4.4 4.4 0 1 0 8.8 0a4.4 4.4 0 1 0 -8.8 0M412 389.9a4.4 4.4 0 1 0 8.8 0a4.4 4.4 0 1 0 -8.8 0M415 389.9a4.4 4.4 0 1 0 8.8 0a4.4 4.4 0 1 0 -8.8 0M417.9 389.9a4.4 4.4 0 1 0 8.8 0a4.4 4.4 0 1 0 -8.8 0M420.9 389.9a4.4 4.4 0 1 0 8.8 0a4.4 4.4 0 1 0 -8.8 0M423.8 390a4.4 4.4 0 1 0 8.8 0a4.4 4.4 0 1 0 -8.8 0M426.8 390a4.4 4.4 0 1 0 8.8 0a4.4 4.4 0 1 0 -8.8 0M429.7 390a4.4 4.4 0 1 0 8.8 0a4.4 4.4 0 1 0 -8.8 0M432.7 390a4.4 4.4 0 1 0 8.8 0a4.4 4.4 0 1 0 -8.8 0M435.6 390a4.4 4.4 0 1 0 8.8 0a4.4 4.4 0 1 0 -8.8 0M438.6 390a4.4 4.4 0 1 0 8.8 0a4.4 4.4 0 1 0 -8.8 0M441.5 390.1a4.4 4.4 0 1 0 8.8 0a4.4 4.4 0 1 0 -8.8 0M444.5 390.1a4.4 4.4 0 1 0 8.8 0a4.4 4.4 0 1 0 -8.8 0M447.4 390.1a4.4 4.4 0 1 0 8.8 0a4.4 4.4 0 1 0 -8.8 0M450.4 390.1a4.4 4.4 0 1 0 8.8 0a4.4 4.4 0 1 0 -8.8 0M453.3 390.2a4.4 4.4 0 1 0 8.8 0a4.4 4.4 0 1 0 -8.8 0M456.3 390.2a4.4 4.4 0 1 0 8.8 0a4.4 4.4 0 1 0 -8.8 0M459.2 390.3a4.4 4.4 0 1 0 8.8 0a4.4 4.4 0 1 0 -8.8 0M462.2 390.3a4.4 4.4 0 1 0 8.8 0a4.4 4.4 0 1 0 -8.8 0M465.1 390.4a4.4 4.4 0 1 0 8.8 0a4.4 4.4 0 1 0 -8.8 0M468.1 390.5a4.4 4.4 0 1 0 8.8 0a4.4 4.4 0 1 0 -8.8 0M471 390.5a4.4 4.4 0 1 0 8.8 0a4.4 4.4 0 1 0 -8.8 0M474 390.6a4.4 4.4 0 1 0 8.8 0a4.4 4.4 0 1 0 -8.8 0" fill="#800000"/>
<polyline points="109.4,392 112.4,392 115.3,392 118.3,390 121.2,378.1 124.2,364.4 127.1,353 130.1,341.8 133,332.2 136,323.8 138.9,316.1 141.9,308.3 144.8,301.3 147.8,296.9 150.7,293.8 153.7,293.6 156.6,299.2 159.6,305.3 162.5,311.7 165.5,318.8 168.4,326.8 171.4,334.5 174.3,340.8 177.3,346.5 180.2,351.7 183.2,356.4 186.2,360.6 189.1,364.5 192.1,368.1 195,371.3 198,374.1 200.9,376.5 203.9,378.6 206.8,380.6 209.8,382.3 212.7,383.7 215.7,385 218.6,386.1 221.6,387.1 224.5,387.9 227.5,388.6 230.4,389.1 233.4,389.6 236.3,390 239.3,390.4 242.2,390.8 245.2,391.1 248.1,391.4 251.1,391.7 254,391.9 257,392 260,392.1 262.9,392.2 265.9,392.3 268.8,392.4 271.8,392.5 274.7,392.6 277.7,392.6 280.6,392.7 283.6,392.8 286.5,392.9 289.5,392.9 292.4,393 295.4,393 298.3,393.1 301.3,393.1 304.2,393.2 307.2,393.2 310.1,393.3 313.1,393.3 316,393.3 319,393.3 321.9,393.4 324.9,393.4 327.8,393.4 330.8,393.4 333.8,393.4 336.7,393.4 339.7,393.3 342.6,393.3 345.6,393.2 348.5,393.2 351.5,393.1 354.4,393 357.4,393 360.3,392.9 363.3,392.8 366.2,392.7 369.2,392.6 372.1,392.6 375.1,392.5 378,392.4 381,392.3 383.9,392.3 386.9,392.2 389.8,392.1 392.8,392.1 395.7,392.1 398.7,392 401.6,392 404.6,392 407.6,392 410.5,392 413.5,392 416.4,392 419.4,392 422.3,392 425.3,392 428.2,392 431.2,392 434.1,392 437.1,392 440,392 443,392 445.9,392 448.9,392 451.8,392 454.8,392 457.7,392 460.7,392 463.6,392 466.6,392 469.5,392 472.5,392 475.4,392 478.4,392" fill="none" stroke="#000080" stroke-width="1.2"/>
<path d="M109.4 387.3l4.7 4.7l-4.7 4.7l-4.7 -4.7zM112.4 387.3l4.7 4.7l-4.7 4.7l-4.7 -4.7zM115.3 387.3l4.7 4.7l-4.7 4.7l-4.7 -4.7zM118.3 385.3l4.7 4.7l-4.7 4.7l-4.7 -4.7zM121.2 373.4l4.7 4.7l-4.7 4.7l-4.7 -4.7zM124.2 359.7l4.7 4.7l-4.7 4.7l-4.7 -4.7zM127.1 348.3l4.7 4.7l-4.7 4.7l-4.7 -4.7zM130.1 337.1l4.7 4.7l-4.7 4.7l-4.7 -4.7zM133 327.5l4.7 4.7l-4.7 4.7l-4.7 -4.7zM136 319.1l4.7 4.7l-4.7 4.7l-4.7 -4.7zM138.9 311.4l4.7 4.7l-4.7 4.7l-4.7 -4.7zM141.9 303.6l4.7 4.7l-4.7 4.7l-4.7 -4.7zM144.8 296.6l4.7 4.7l-4.7 4.7l-4.7 -4.7zM147.8 292.2l4.7 4.7l-4.7 4.7l-4.7 -4.7zM150.7 289.1l4.7 4.7l-4.7 4.7l-4.7 -4.7zM153.7 288.9l4.7 4.7l-4.7 4.7l-4.7 -4.7zM156.6 294.5l4.7 4.7l-4.7 4.7l-4.7 -4.7zM159.6 300.6l4.7 4.7l-4.7 4.7l-4.7 -4.7zM162.5 307l4.7 4.7l-4.7 4.7l-4.7 -4.7zM165.5 314.1l4.7 4.7l-4.7 4.7l-4.7 -4.7zM168.4 322.1l4.7 4.7l-4.7 4.7l-4.7 -4.7zM171.4 329.8l4.7 4.7l-4.7 4.7l-4.7 -4.7zM174.3 336.1l4.7 4.7l-4.7 4.7l-4.7 -4.7zM177.3 341.8l4.7 4.7l-4.7 4.7l-4.7 -4.7zM180.2 347l4.7 4.7l-4.7 4.7l-4.7 -4.7zM183.2 351.7l4.7 4.7l-4.7 4.7l-4.7 -4.7zM186.2 355.9l4.7 4.7l-4.7 4.7l-4.7 -4.7zM189.1 359.8l4.7 4.7l-4.7 4.7l-4.7 -4.7zM192.1 363.4l4.7 4.7l-4.7 4.7l-4.7 -4.7zM195 366.6l4.7 4.7l-4.7 4.7l-4.7 -4.7zM198 369.4l4.7 4.7l-4.7 4.7l-4.7 -4.7zM200.9 371.8l4.7 4.7l-4.7 4.7l-4.7 -4.7zM203.9 373.9l4.7 4.7l-4.7 4.7l-4.7 -4.7zM206.8 375.9l4.7 4.7l-4.7 4.7l-4.7 -4.7zM209.8 377.6l4.7 4.7l-4.7 4.7l-4.7 -4.7zM212.7 379l4.7 4.7l-4.7 4.7l-4.7 -4.7zM215.7 380.3l4.7 4.7l-4.7 4.7l-4.7 -4.7zM218.6 381.4l4.7 4.7l-4.7 4.7l-4.7 -4.7zM221.6 382.4l4.7 4.7l-4.7 4.7l-4.7 -4.7zM224.5 383.2l4.7 4.7l-4.7 4.7l-4.7 -4.7zM227.5 383.9l4.7 4.7l-4.7 4.7l-4.7 -4.7zM230.4 384.4l4.7 4.7l-4.7 4.7l-4.7 -4.7zM233.4 384.9l4.7 4.7l-4.7 4.7l-4.7 -4.7zM236.3 385.3l4.7 4.7l-4.7 4.7l-4.7 -4.7zM239.3 385.7l4.7 4.7l-4.7 4.7l-4.7 -4.7zM242.2 386.1l4.7 4.7l-4.7 4.7l-4.7 -4.7zM245.2 386.4l4.7 4.7l-4.7 4.7l-4.7 -4.7zM248.1 386.7l4.7 4.7l-4.7 4.7l-4.7 -4.7zM251.1 387l4.7 4.7l-4.7 4.7l-4.7 -4.7zM254 387.2l4.7 4.7l-4.7 4.7l-4.7 -4.7zM257 387.3l4.7 4.7l-4.7 4.7l-4.7 -4.7zM260 387.4l4.7 4.7l-4.7 4.7l-4.7 -4.7zM262.9 387.5l4.7 4.7l-4.7 4.7l-4.7 -4.7zM265.9 387.6l4.7 4.7l-4.7 4.7l-4.7 -4.7zM268.8 387.7l4.7 4.7l-4.7 4.7l-4.7 -4.7zM271.8 387.8l4.7 4.7l-4.7 4.7l-4.7 -4.7zM274.7 387.9l4.7 4.7l-4.7 4.7l-4.7 -4.7zM277.7 387.9l4.7 4.7l-4.7 4.7l-4.7 -4.7zM280.6 388l4.7 4.7l-4.7 4.7l-4.7 -4.7zM283.6 388.1l4.7 4.7l-4.7 4.7l-4.7 -4.7zM286.5 388.2l4.7 4.7l-4.7 4.7l-4.7 -4.7zM289.5 388.2l4.7 4.7l-4.7 4.7l-4.7 -4.7zM292.4 388.3l4.7 4.7l-4.7 4.7l-4.7 -4.7zM295.4 388.3l4.7 4.7l-4.7 4.7l-4.7 -4.7zM298.3 388.4l4.7 4.7l-4.7 4.7l-4.7 -4.7zM301.3 388.4l4.7 4.7l-4.7 4.7l-4.7 -4.7zM304.2 388.5l4.7 4.7l-4.7 4.7l-4.7 -4.7zM307.2 388.5l4.7 4.7l-4.7 4.7l-4.7 -4.7zM310.1 388.6l4.7 4.7l-4.7 4.7l-4.7 -4.7zM313.1 388.6l4.7 4.7l-4.7 4.7l-4.7 -4.7zM316 388.6l4.7 4.7l-4.7 4.7l-4.7 -4.7zM319 388.6l4.7 4.7l-4.7 4.7l-4.7 -4.7zM321.9 388.7l4.7 4.7l-4.7 4.7l-4.7 -4.7zM324.9 388.7l4.7 4.7l-4.7 4.7l-4.7 -4.7zM327.8 388.7l4.7 4.7l-4.7 4.7l-4.7 -4.7zM330.8 388.7l4.7 4.7l-4.7 4.7l-4.7 -4.7zM333.8 388.7l4.7 4.7l-4.7 4.7l-4.7 -4.7zM336.7 388.7l4.7 4.7l-4.7 4.7l-4.7 -4.7zM339.7 388.6l4.7 4.7l-4.7 4.7l-4.7 -4.7zM342.6 388.6l4.7 4.7l-4.7 4.7l-4.7 -4.7zM345.6 388.5l4.7 4.7l-4.7 4.7l-4.7 -4.7zM348.5 388.5l4.7 4.7l-4.7 4.7l-4.7 -4.7zM351.5 388.4l4.7 4.7l-4.7 4.7l-4.7 -4.7zM354.4 388.3l4.7 4.7l-4.7 4.7l-4.7 -4.7zM357.4 388.3l4.7 4.7l-4.7 4.7l-4.7 -4.7zM360.3 388.2l4.7 4.7l-4.7 4.7l-4.7 -4.7zM363.3 388.1l4.7 4.7l-4.7 4.7l-4.7 -4.7zM366.2 388l4.7 4.7l-4.7 4.7l-4.7 -4.7zM369.2 387.9l4.7 4.7l-4.7 4.7l-4.7 -4.7zM372.1 387.9l4.7 4.7l-4.7 4.7l-4.7 -4.7zM375.1 387.8l4.7 4.7l-4.7 4.7l-4.7 -4.7zM378 387.7l4.7 4.7l-4.7 4.7l-4.7 -4.7zM381 387.6l4.7 4.7l-4.7 4.7l-4.7 -4.7zM383.9 387.6l4.7 4.7l-4.7 4.7l-4.7 -4.7zM386.9 387.5l4.7 4.7l-4.7 4.7l-4.7 -4.7zM389.8 387.4l4.7 4.7l-4.7 4.7l-4.7 -4.7zM392.8 387.4l4.7 4.7l-4.7 4.7l-4.7 -4.7zM395.7 387.4l4.7 4.7l-4.7 4.7l-4.7 -4.7zM398.7 387.3l4.7 4.7l-4.7 4.7l-4.7 -4.7zM401.6 387.3l4.7 4.7l-4.7 4.7l-4.7 -4.7zM404.6 387.3l4.7 4.7l-4.7 4.7l-4.7 -4.7zM407.6 387.3l4.7 4.7l-4.7 4.7l-4.7 -4.7zM410.5 387.3l4.7 4.7l-4.7 4.7l-4.7 -4.7zM413.5 387.3l4.7 4.7l-4.7 4.7l-4.7 -4.7zM416.4 387.3l4.7 4.7l-4.7 4.7l-4.7 -4.7zM419.4 387.3l4.7 4.7l-4.7 4.7l-4.7 -4.7zM422.3 387.3l4.7 4.7l-4.7 4.7l-4.7 -4.7zM425.3 387.3l4.7 4.7l-4.7 4.7l-4.7 -4.7zM428.2 387.3l4.7 4.7l-4.7 4.7l-4.7 -4.7zM431.2 387.3l4.7 4.7l-4.7 4.7l-4.7 -4.7zM434.1 387.3l4.7 4.7l-4.7 4.7l-4.7 -4.7zM437.1 387.3l4.7 4.7l-4.7 4.7l-4.7 -4.7zM440 387.3l4.7 4.7l-4.7 4.7l-4.7 -4.7zM443 387.3l4.7 4.7l-4.7 4.7l-4.7 -4.7zM445.9 387.3l4.7 4.7l-4.7 4.7l-4.7 -4.7zM448.9 387.3l4.7 4.7l-4.7 4.7l-4.7 -4.7zM451.8 387.3l4.7 4.7l-4.7 4.7l-4.7 -4.7zM454.8 387.3l4.7 4.7l-4.7 4.7l-4.7 -4.7zM457.7 387.3l4.7 4.7l-4.7 4.7l-4.7 -4.7zM460.7 387.3l4.7 4.7l-4.7 4.7l-4.7 -4.7zM463.6 387.3l4.7 4.7l-4.7 4.7l-4.7 -4.7zM466.6 387.3l4.7 4.7l-4.7 4.7l-4.7 -4.7zM469.5 387.3l4.7 4.7l-4.7 4.7l-4.7 -4.7zM472.5 387.3l4.7 4.7l-4.7 4.7l-4.7 -4.7zM475.4 387.3l4.7 4.7l-4.7 4.7l-4.7 -4.7zM478.4 387.3l4.7 4.7l-4.7 4.7l-4.7 -4.7z" fill="#000080"/>
<polyline points="109.4,392 112.4,394.7 115.3,395.4 118.3,393.7 121.2,383 124.2,371.3 127.1,362.6 130.1,354.4 133,346.5 136,337.7 138.9,332.3 141.9,335 144.8,343.6 147.8,349.8 150.7,354.6 153.7,358.6 156.6,361.8 159.6,364.6 162.5,367.2 165.5,369.4 168.4,371.3 171.4,372.9 174.3,374.4 177.3,375.7 180.2,376.9 183.2,378.1 186.2,379.4 189.1,380.7 192.1,381.9 195,382.9 198,383.7 200.9,384.3 203.9,384.9 206.8,385.4 209.8,385.9 212.7,386.3 215.7,386.7 218.6,387.1 221.6,387.4 224.5,387.6 227.5,387.9 230.4,388.1 233.4,388.3 236.3,388.4 239.3,388.6 242.2,388.7 245.2,388.9 248.1,389 251.1,389.1 254,389.2 257,389.2 260,389.3 262.9,389.3 265.9,389.4 268.8,389.4 271.8,389.5 274.7,389.5 277.7,389.5 280.6,389.5 283.6,389.6 286.5,389.6 289.5,389.6 292.4,389.6 295.4,389.7 298.3,389.7 301.3,389.7 304.2,389.7 307.2,389.8 310.1,389.8 313.1,389.8 316,389.8 319,389.8 321.9,389.9 324.9,389.9 327.8,389.9 330.8,389.9 333.8,390 336.7,390 339.7,390 342.6,390 345.6,390 348.5,390.1 351.5,390.1 354.4,390.1 357.4,390.1 360.3,390.1 363.3,390.2 366.2,390.2 369.2,390.2 372.1,390.2 375.1,390.2 378,390.3 381,390.3 383.9,390.3 386.9,390.4 389.8,390.4 392.8,390.4 395.7,390.5 398.7,390.5 401.6,390.6 404.6,390.6 407.6,390.7 410.5,390.8 413.5,391 416.4,391.3 419.4,391.5 422.3,391.8 425.3,392.2 428.2,392.5 431.2,392.9 434.1,393.3 437.1,393.8 440,394.2 443,394.6 445.9,395 448.9,395.4 451.8,395.9 454.8,396.3 457.7,396.8 460.7,397.4 463.6,397.9 466.6,398.5 469.5,399.1 472.5,399.7 475.4,400.3 478.4,401" fill="none" stroke="#333333" stroke-width="1.2"/>
<path d="M109.4 387.2L114.2 395.8H104.6zM112.4 389.9L117.2 398.5H107.6zM115.3 390.6L120.1 399.3H110.5zM118.3 388.9L123.1 397.5H113.5zM121.2 378.2L126 386.9H116.4zM124.2 366.5L129 375.1H119.4zM127.1 357.8L131.9 366.4H122.3zM130.1 349.6L134.9 358.3H125.3zM133 341.7L137.8 350.3H128.2zM136 332.9L140.8 341.6H131.2zM138.9 327.5L143.7 336.1H134.1zM141.9 330.2L146.7 338.9H137.1zM144.8 338.8L149.6 347.5H140zM147.8 345L152.6 353.6H143zM150.7 349.8L155.5 358.4H145.9zM153.7 353.8L158.5 362.4H148.9zM156.6 357L161.4 365.6H151.8zM159.6 359.8L164.4 368.5H154.8zM162.5 362.4L167.3 371H157.7zM165.5 364.6L170.3 373.2H160.7zM168.4 366.5L173.2 375.1H163.6zM171.4 368.1L176.2 376.8H166.6zM174.3 369.6L179.1 378.2H169.5zM177.3 370.9L182.1 379.5H172.5zM180.2 372.1L185 380.7H175.4zM183.2 373.3L188 382H178.4zM186.2 374.6L191 383.3H181.4zM189.1 375.9L193.9 384.6H184.3zM192.1 377.1L196.9 385.8H187.3zM195 378.1L199.8 386.8H190.2zM198 378.9L202.8 387.6H193.2zM200.9 379.5L205.7 388.2H196.1zM203.9 380.1L208.7 388.7H199.1zM206.8 380.6L211.6 389.3H202zM209.8 381.1L214.6 389.7H205zM212.7 381.5L217.5 390.2H207.9zM215.7 381.9L220.5 390.6H210.9zM218.6 382.3L223.4 390.9H213.8zM221.6 382.6L226.4 391.2H216.8zM224.5 382.8L229.3 391.5H219.7zM227.5 383.1L232.3 391.7H222.7zM230.4 383.3L235.2 391.9H225.6zM233.4 383.5L238.2 392.1H228.6zM236.3 383.6L241.1 392.3H231.5zM239.3 383.8L244.1 392.4H234.5zM242.2 383.9L247 392.6H237.4zM245.2 384.1L250 392.7H240.4zM248.1 384.2L252.9 392.8H243.3zM251.1 384.3L255.9 392.9H246.3zM254 384.4L258.8 393H249.2zM257 384.4L261.8 393.1H252.2zM260 384.5L264.8 393.1H255.2zM262.9 384.5L267.7 393.2H258.1zM265.9 384.6L270.7 393.2H261.1zM268.8 384.6L273.6 393.3H264zM271.8 384.7L276.6 393.3H267zM274.7 384.7L279.5 393.3H269.9zM277.7 384.7L282.5 393.4H272.9zM280.6 384.7L285.4 393.4H275.8zM283.6 384.8L288.4 393.4H278.8zM286.5 384.8L291.3 393.4H281.7zM289.5 384.8L294.3 393.5H284.7zM292.4 384.8L297.2 393.5H287.6zM295.4 384.9L300.2 393.5H290.6zM298.3 384.9L303.1 393.5H293.5zM301.3 384.9L306.1 393.6H296.5zM304.2 384.9L309 393.6H299.4zM307.2 385L312 393.6H302.4zM310.1 385L314.9 393.6H305.3zM313.1 385L317.9 393.6H308.3zM316 385L320.8 393.7H311.2zM319 385L323.8 393.7H314.2zM321.9 385.1L326.7 393.7H317.1zM324.9 385.1L329.7 393.7H320.1zM327.8 385.1L332.6 393.7H323zM330.8 385.1L335.6 393.8H326zM333.8 385.2L338.6 393.8H329zM336.7 385.2L341.5 393.8H331.9zM339.7 385.2L344.5 393.8H334.9zM342.6 385.2L347.4 393.9H337.8zM345.6 385.2L350.4 393.9H340.8zM348.5 385.3L353.3 393.9H343.7zM351.5 385.3L356.3 393.9H346.7zM354.4 385.3L359.2 393.9H349.6zM357.4 385.3L362.2 394H352.6zM360.3 385.3L365.1 394H355.5zM363.3 385.4L368.1 394H358.5zM366.2 385.4L371 394H361.4zM369.2 385.4L374 394H364.4zM372.1 385.4L376.9 394.1H367.3zM375.1 385.4L379.9 394.1H370.3zM378 385.5L382.8 394.1H373.2zM381 385.5L385.8 394.1H376.2zM383.9 385.5L388.7 394.2H379.1zM386.9 385.6L391.7 394.2H382.1zM389.8 385.6L394.6 394.2H385zM392.8 385.6L397.6 394.3H388zM395.7 385.7L400.5 394.3H390.9zM398.7 385.7L403.5 394.4H393.9zM401.6 385.8L406.4 394.4H396.8zM404.6 385.8L409.4 394.5H399.8zM407.6 385.9L412.4 394.5H402.8zM410.5 386L415.3 394.7H405.7zM413.5 386.2L418.3 394.9H408.7zM416.4 386.5L421.2 395.1H411.6zM419.4 386.7L424.2 395.4H414.6zM422.3 387L427.1 395.7H417.5zM425.3 387.4L430.1 396H420.5zM428.2 387.7L433 396.4H423.4zM431.2 388.1L436 396.8H426.4zM434.1 388.5L438.9 397.2H429.3zM437.1 389L441.9 397.6H432.3zM440 389.4L444.8 398H435.2zM443 389.8L447.8 398.4H438.2zM445.9 390.2L450.7 398.9H441.1zM448.9 390.6L453.7 399.3H444.1zM451.8 391.1L456.6 399.7H447zM454.8 391.5L459.6 400.2H450zM457.7 392L462.5 400.7H452.9zM460.7 392.6L465.5 401.2H455.9zM463.6 393.1L468.4 401.8H458.8zM466.6 393.7L471.4 402.3H461.8zM469.5 394.3L474.3 402.9H464.7zM472.5 394.9L477.3 403.5H467.7zM475.4 395.5L480.2 404.2H470.6zM478.4 396.2L483.2 404.8H473.6z" fill="#333333"/>
<path d="M313.1 379.6L317.9 388.3H308.3z" fill="#333333"/>
</g>
<circle cx="230.7" cy="111.6" r="4.8" fill="#FF0000" stroke="#222" stroke-width="1"/>
<rect x="347.7" y="80.6" width="131.2" height="184.7" fill="#fff" stroke="#444" stroke-width="1"/>
<line x1="353.5" x2="391.5" y1="94.2" y2="94.2" stroke="#000080" stroke-width="1.7"/>
<path d="M372.3 89.4l4.8 4.8l-4.8 4.8l-4.8 -4.8z" fill="#000080"/>
<text x="394.7" y="100.5" font-size="16" textLength="69.2" lengthAdjust="spacingAndGlyphs" fill="#000">del<tspan fill="#999" stroke="none">_</tspan>I<tspan fill="#999" stroke="none">_</tspan>2.5V</text>
<line x1="353.5" x2="391.5" y1="117.1" y2="117.1" stroke="#FF00FF" stroke-width="1.7"/>
<path d="M367.6 112.4h9.4v9.4h-9.4z" fill="#FF00FF"/>
<text x="394.7" y="123.4" font-size="16" textLength="69.2" lengthAdjust="spacingAndGlyphs" fill="#000">del<tspan fill="#999" stroke="none">_</tspan>I<tspan fill="#999" stroke="none">_</tspan>2.2V</text>
<line x1="353.5" x2="391.5" y1="140" y2="140" stroke="#FF0000" stroke-width="1.7"/>
<path d="M372.3 135L377.3 144H367.3z" fill="#FF0000"/>
<text x="394.7" y="146.3" font-size="16" textLength="69.2" lengthAdjust="spacingAndGlyphs" fill="#000">del<tspan fill="#999" stroke="none">_</tspan>I<tspan fill="#999" stroke="none">_</tspan>2.0V</text>
<line x1="353.5" x2="391.5" y1="162.9" y2="162.9" stroke="#0000FF" stroke-width="1.7"/>
<path d="M367.6 158.2h9.4v9.4h-9.4z" fill="#0000FF"/>
<text x="394.7" y="169.2" font-size="16" textLength="69.2" lengthAdjust="spacingAndGlyphs" fill="#000">del<tspan fill="#999" stroke="none">_</tspan>I<tspan fill="#999" stroke="none">_</tspan>1.8V</text>
<line x1="353.5" x2="391.5" y1="185.8" y2="185.8" stroke="#003300" stroke-width="1.7"/>
<path d="M372.3 181l4.8 4.8l-4.8 4.8l-4.8 -4.8z" fill="#003300"/>
<text x="394.7" y="192.1" font-size="16" textLength="69.2" lengthAdjust="spacingAndGlyphs" fill="#000">del<tspan fill="#999" stroke="none">_</tspan>I<tspan fill="#999" stroke="none">_</tspan>1.5V</text>
<line x1="353.5" x2="391.5" y1="208.7" y2="208.7" stroke="#800000" stroke-width="1.7"/>
<path d="M367.7 208.7a4.6 4.6 0 1 0 9.2 0a4.6 4.6 0 1 0 -9.2 0" fill="#800000"/>
<text x="394.7" y="215" font-size="16" textLength="69.2" lengthAdjust="spacingAndGlyphs" fill="#000">del<tspan fill="#999" stroke="none">_</tspan>I<tspan fill="#999" stroke="none">_</tspan>1.2V</text>
<line x1="353.5" x2="391.5" y1="231.6" y2="231.6" stroke="#000080" stroke-width="1.7"/>
<path d="M372.3 226.8l4.8 4.8l-4.8 4.8l-4.8 -4.8z" fill="#000080"/>
<text x="394.7" y="237.9" font-size="16" textLength="69.2" lengthAdjust="spacingAndGlyphs" fill="#000">del<tspan fill="#999" stroke="none">_</tspan>I<tspan fill="#999" stroke="none">_</tspan>1.0V</text>
<line x1="353.5" x2="391.5" y1="254.5" y2="254.5" stroke="#333333" stroke-width="1.7"/>
<path d="M372.3 249.5L377.3 258.5H367.3z" fill="#333333"/>
<text x="394.7" y="260.8" font-size="16" textLength="69.2" lengthAdjust="spacingAndGlyphs" fill="#000">del<tspan fill="#999" stroke="none">_</tspan>I<tspan fill="#999" stroke="none">_</tspan>0.8V</text>
<rect x="7.1" y="509.4" width="535.6" height="474.6" fill="none" stroke="#000" stroke-width="1.6"/>
<line x1="97.6" x2="449.6" y1="906.6" y2="906.6" stroke="#555" stroke-width="1.1"/>
<line x1="97.6" x2="449.6" y1="869.6" y2="869.6" stroke="#555" stroke-width="1.1"/>
<line x1="97.6" x2="449.6" y1="832.5" y2="832.5" stroke="#555" stroke-width="1.1"/>
<line x1="97.6" x2="449.6" y1="795.5" y2="795.5" stroke="#555" stroke-width="1.1"/>
<line x1="97.6" x2="449.6" y1="758.5" y2="758.5" stroke="#555" stroke-width="1.1"/>
<line x1="97.6" x2="449.6" y1="721.5" y2="721.5" stroke="#555" stroke-width="1.1"/>
<line x1="97.6" x2="449.6" y1="684.5" y2="684.5" stroke="#555" stroke-width="1.1"/>
<line x1="97.6" x2="449.6" y1="647.4" y2="647.4" stroke="#555" stroke-width="1.1"/>
<line x1="97.6" x2="449.6" y1="610.4" y2="610.4" stroke="#555" stroke-width="1.1"/>
<rect x="97.6" y="573.4" width="352" height="370.2" fill="none" stroke="#555" stroke-width="1.1"/>
<text x="288" y="627" font-size="15" textLength="64" lengthAdjust="spacingAndGlyphs" fill="#000">VGS=2.5V</text>
<text x="286.5" y="708.2" font-size="15" textLength="64" lengthAdjust="spacingAndGlyphs" fill="#000">VGS=2.0V</text>
<text x="288" y="791.4" font-size="15" textLength="64" lengthAdjust="spacingAndGlyphs" fill="#000">VGS=1.5V</text>
<text x="288" y="876.4" font-size="15" textLength="64" lengthAdjust="spacingAndGlyphs" fill="#000">VGS=1.0V</text>
<polyline points="97.6,943.6 99,943.6 100.4,943.6 101.8,943.6 103.2,943.6 104.6,943.6 106,943.6 107.5,943.5 108.9,943.5 110.3,943.5 111.7,943.5 113.1,943.5 114.5,943.5 115.9,943.5 117.3,943.5 118.7,943.5 120.1,943.5 121.5,943.5 122.9,943.5 124.4,943.5 125.8,943.5 127.2,943.4 128.6,943.4 130,943.4 131.4,943.4 132.8,943.4 134.2,943.4 135.6,943.4 137,943.4 138.4,943.4 139.8,943.4 141.2,943.4 142.7,943.4 144.1,943.4 145.5,943.3 146.9,943.3 148.3,943.3 149.7,943.3 151.1,943.3 152.5,943.3 153.9,943.3 155.3,943.3 156.7,943.3 158.1,943.3 159.6,943.3 161,943.3 162.4,943.3 163.8,943.3 165.2,943.2 166.6,943.2 168,943.2 169.4,943.2 170.8,943.2 172.2,943.2 173.6,943.2 175,943.2 176.4,943.2 177.9,943.2 179.3,943.2 180.7,943.2 182.1,943.2 183.5,943.1 184.9,943.1 186.3,943.1 187.7,943.1 189.1,943.1 190.5,943.1 191.9,943.1 193.3,943.1 194.8,943.1 196.2,943.1 197.6,943.1 199,943.1 200.4,943.1 201.8,943.1 203.2,943 204.6,943 206,943 207.4,943 208.8,943 210.2,943 211.6,943 213.1,943 214.5,943 215.9,943 217.3,943 218.7,943 220.1,943 221.5,942.9 222.9,942.9 224.3,942.9 225.7,942.9 227.1,942.9 228.5,942.9 230,942.9 231.4,942.9 232.8,942.9 234.2,942.9 235.6,942.9 237,942.9 238.4,942.9 239.8,942.9 241.2,942.8 242.6,942.8 244,942.8 245.4,942.8 246.8,942.8 248.3,942.8 249.7,942.8 251.1,942.8 252.5,942.8 253.9,942.8 255.3,942.8 256.7,942.8 258.1,942.8 259.5,942.7 260.9,942.7 262.3,942.7 263.7,942.7 265.2,942.7 266.6,942.7 268,942.7 269.4,942.7 270.8,942.7 272.2,942.7 273.6,942.7 275,942.7 276.4,942.7 277.8,942.7 279.2,942.6 280.6,942.6 282,942.6 283.5,942.6 284.9,942.6 286.3,942.6 287.7,942.6 289.1,942.6 290.5,942.6 291.9,942.6 293.3,942.6 294.7,942.6 296.1,942.6 297.5,942.5 298.9,942.5 300.4,942.5 301.8,942.5 303.2,942.5 304.6,942.5 306,942.5 307.4,942.5 308.8,942.5 310.2,942.5 311.6,942.5 313,942.5 314.4,942.5 315.8,942.5 317.2,942.4 318.7,942.4 320.1,942.4 321.5,942.4 322.9,942.4 324.3,942.4 325.7,942.4 327.1,942.4 328.5,942.4 329.9,942.4 331.3,942.4 332.7,942.4 334.1,942.4 335.6,942.3 337,942.3 338.4,942.3 339.8,942.3 341.2,942.3 342.6,942.3 344,942.3 345.4,942.3 346.8,942.3 348.2,942.3 349.6,942.3 351,942.3 352.4,942.3 353.9,942.3 355.3,942.2 356.7,942.2 358.1,942.2 359.5,942.2 360.9,942.2 362.3,942.2 363.7,942.2 365.1,942.2 366.5,942.2 367.9,942.2 369.3,942.2 370.8,942.2 372.2,942.2 373.6,942.1 375,942.1 376.4,942.1 377.8,942.1 379.2,942.1 380.6,942.1 382,942.1 383.4,942.1 384.8,942.1 386.2,942.1 387.6,942.1 389.1,942.1 390.5,942.1 391.9,942.1 393.3,942 394.7,942 396.1,942 397.5,942 398.9,942 400.3,942 401.7,942 403.1,942 404.5,942 406,942 407.4,942 408.8,942 410.2,942 411.6,941.9 413,941.9 414.4,941.9 415.8,941.9 417.2,941.9 418.6,941.9 420,941.9 421.4,941.9 422.8,941.9 424.3,941.9 425.7,941.9 427.1,941.9 428.5,941.9 429.9,941.9 431.3,941.8 432.7,941.8 434.1,941.8 435.5,941.8 436.9,941.8 438.3,941.8 439.7,941.8 441.2,941.8 442.6,941.8 444,941.8 445.4,941.8 446.8,941.8 448.2,941.8 449.6,941.8" fill="none" stroke="#FF00FF" stroke-width="1.2"/>
<path d="M97.6 938.9l4.7 4.7l-4.7 4.7l-4.7 -4.7zM99 938.9l4.7 4.7l-4.7 4.7l-4.7 -4.7zM100.4 938.9l4.7 4.7l-4.7 4.7l-4.7 -4.7zM101.8 938.9l4.7 4.7l-4.7 4.7l-4.7 -4.7zM103.2 938.9l4.7 4.7l-4.7 4.7l-4.7 -4.7zM104.6 938.9l4.7 4.7l-4.7 4.7l-4.7 -4.7zM106 938.9l4.7 4.7l-4.7 4.7l-4.7 -4.7zM107.5 938.8l4.7 4.7l-4.7 4.7l-4.7 -4.7zM108.9 938.8l4.7 4.7l-4.7 4.7l-4.7 -4.7zM110.3 938.8l4.7 4.7l-4.7 4.7l-4.7 -4.7zM111.7 938.8l4.7 4.7l-4.7 4.7l-4.7 -4.7zM113.1 938.8l4.7 4.7l-4.7 4.7l-4.7 -4.7zM114.5 938.8l4.7 4.7l-4.7 4.7l-4.7 -4.7zM115.9 938.8l4.7 4.7l-4.7 4.7l-4.7 -4.7zM117.3 938.8l4.7 4.7l-4.7 4.7l-4.7 -4.7zM118.7 938.8l4.7 4.7l-4.7 4.7l-4.7 -4.7zM120.1 938.8l4.7 4.7l-4.7 4.7l-4.7 -4.7zM121.5 938.8l4.7 4.7l-4.7 4.7l-4.7 -4.7zM122.9 938.8l4.7 4.7l-4.7 4.7l-4.7 -4.7zM124.4 938.8l4.7 4.7l-4.7 4.7l-4.7 -4.7zM125.8 938.8l4.7 4.7l-4.7 4.7l-4.7 -4.7zM127.2 938.7l4.7 4.7l-4.7 4.7l-4.7 -4.7zM128.6 938.7l4.7 4.7l-4.7 4.7l-4.7 -4.7zM130 938.7l4.7 4.7l-4.7 4.7l-4.7 -4.7zM131.4 938.7l4.7 4.7l-4.7 4.7l-4.7 -4.7zM132.8 938.7l4.7 4.7l-4.7 4.7l-4.7 -4.7zM134.2 938.7l4.7 4.7l-4.7 4.7l-4.7 -4.7zM135.6 938.7l4.7 4.7l-4.7 4.7l-4.7 -4.7zM137 938.7l4.7 4.7l-4.7 4.7l-4.7 -4.7zM138.4 938.7l4.7 4.7l-4.7 4.7l-4.7 -4.7zM139.8 938.7l4.7 4.7l-4.7 4.7l-4.7 -4.7zM141.2 938.7l4.7 4.7l-4.7 4.7l-4.7 -4.7zM142.7 938.7l4.7 4.7l-4.7 4.7l-4.7 -4.7zM144.1 938.7l4.7 4.7l-4.7 4.7l-4.7 -4.7zM145.5 938.6l4.7 4.7l-4.7 4.7l-4.7 -4.7zM146.9 938.6l4.7 4.7l-4.7 4.7l-4.7 -4.7zM148.3 938.6l4.7 4.7l-4.7 4.7l-4.7 -4.7zM149.7 938.6l4.7 4.7l-4.7 4.7l-4.7 -4.7zM151.1 938.6l4.7 4.7l-4.7 4.7l-4.7 -4.7zM152.5 938.6l4.7 4.7l-4.7 4.7l-4.7 -4.7zM153.9 938.6l4.7 4.7l-4.7 4.7l-4.7 -4.7zM155.3 938.6l4.7 4.7l-4.7 4.7l-4.7 -4.7zM156.7 938.6l4.7 4.7l-4.7 4.7l-4.7 -4.7zM158.1 938.6l4.7 4.7l-4.7 4.7l-4.7 -4.7zM159.6 938.6l4.7 4.7l-4.7 4.7l-4.7 -4.7zM161 938.6l4.7 4.7l-4.7 4.7l-4.7 -4.7zM162.4 938.6l4.7 4.7l-4.7 4.7l-4.7 -4.7zM163.8 938.6l4.7 4.7l-4.7 4.7l-4.7 -4.7zM165.2 938.5l4.7 4.7l-4.7 4.7l-4.7 -4.7zM166.6 938.5l4.7 4.7l-4.7 4.7l-4.7 -4.7zM168 938.5l4.7 4.7l-4.7 4.7l-4.7 -4.7zM169.4 938.5l4.7 4.7l-4.7 4.7l-4.7 -4.7zM170.8 938.5l4.7 4.7l-4.7 4.7l-4.7 -4.7zM172.2 938.5l4.7 4.7l-4.7 4.7l-4.7 -4.7zM173.6 938.5l4.7 4.7l-4.7 4.7l-4.7 -4.7zM175 938.5l4.7 4.7l-4.7 4.7l-4.7 -4.7zM176.4 938.5l4.7 4.7l-4.7 4.7l-4.7 -4.7zM177.9 938.5l4.7 4.7l-4.7 4.7l-4.7 -4.7zM179.3 938.5l4.7 4.7l-4.7 4.7l-4.7 -4.7zM180.7 938.5l4.7 4.7l-4.7 4.7l-4.7 -4.7zM182.1 938.5l4.7 4.7l-4.7 4.7l-4.7 -4.7zM183.5 938.4l4.7 4.7l-4.7 4.7l-4.7 -4.7zM184.9 938.4l4.7 4.7l-4.7 4.7l-4.7 -4.7zM186.3 938.4l4.7 4.7l-4.7 4.7l-4.7 -4.7zM187.7 938.4l4.7 4.7l-4.7 4.7l-4.7 -4.7zM189.1 938.4l4.7 4.7l-4.7 4.7l-4.7 -4.7zM190.5 938.4l4.7 4.7l-4.7 4.7l-4.7 -4.7zM191.9 938.4l4.7 4.7l-4.7 4.7l-4.7 -4.7zM193.3 938.4l4.7 4.7l-4.7 4.7l-4.7 -4.7zM194.8 938.4l4.7 4.7l-4.7 4.7l-4.7 -4.7zM196.2 938.4l4.7 4.7l-4.7 4.7l-4.7 -4.7zM197.6 938.4l4.7 4.7l-4.7 4.7l-4.7 -4.7zM199 938.4l4.7 4.7l-4.7 4.7l-4.7 -4.7zM200.4 938.4l4.7 4.7l-4.7 4.7l-4.7 -4.7zM201.8 938.4l4.7 4.7l-4.7 4.7l-4.7 -4.7zM203.2 938.3l4.7 4.7l-4.7 4.7l-4.7 -4.7zM204.6 938.3l4.7 4.7l-4.7 4.7l-4.7 -4.7zM206 938.3l4.7 4.7l-4.7 4.7l-4.7 -4.7zM207.4 938.3l4.7 4.7l-4.7 4.7l-4.7 -4.7zM208.8 938.3l4.7 4.7l-4.7 4.7l-4.7 -4.7zM210.2 938.3l4.7 4.7l-4.7 4.7l-4.7 -4.7zM211.6 938.3l4.7 4.7l-4.7 4.7l-4.7 -4.7zM213.1 938.3l4.7 4.7l-4.7 4.7l-4.7 -4.7zM214.5 938.3l4.7 4.7l-4.7 4.7l-4.7 -4.7zM215.9 938.3l4.7 4.7l-4.7 4.7l-4.7 -4.7zM217.3 938.3l4.7 4.7l-4.7 4.7l-4.7 -4.7zM218.7 938.3l4.7 4.7l-4.7 4.7l-4.7 -4.7zM220.1 938.3l4.7 4.7l-4.7 4.7l-4.7 -4.7zM221.5 938.2l4.7 4.7l-4.7 4.7l-4.7 -4.7zM222.9 938.2l4.7 4.7l-4.7 4.7l-4.7 -4.7zM224.3 938.2l4.7 4.7l-4.7 4.7l-4.7 -4.7zM225.7 938.2l4.7 4.7l-4.7 4.7l-4.7 -4.7zM227.1 938.2l4.7 4.7l-4.7 4.7l-4.7 -4.7zM228.5 938.2l4.7 4.7l-4.7 4.7l-4.7 -4.7zM230 938.2l4.7 4.7l-4.7 4.7l-4.7 -4.7zM231.4 938.2l4.7 4.7l-4.7 4.7l-4.7 -4.7zM232.8 938.2l4.7 4.7l-4.7 4.7l-4.7 -4.7zM234.2 938.2l4.7 4.7l-4.7 4.7l-4.7 -4.7zM235.6 938.2l4.7 4.7l-4.7 4.7l-4.7 -4.7zM237 938.2l4.7 4.7l-4.7 4.7l-4.7 -4.7zM238.4 938.2l4.7 4.7l-4.7 4.7l-4.7 -4.7zM239.8 938.2l4.7 4.7l-4.7 4.7l-4.7 -4.7zM241.2 938.1l4.7 4.7l-4.7 4.7l-4.7 -4.7zM242.6 938.1l4.7 4.7l-4.7 4.7l-4.7 -4.7zM244 938.1l4.7 4.7l-4.7 4.7l-4.7 -4.7zM245.4 938.1l4.7 4.7l-4.7 4.7l-4.7 -4.7zM246.8 938.1l4.7 4.7l-4.7 4.7l-4.7 -4.7zM248.3 938.1l4.7 4.7l-4.7 4.7l-4.7 -4.7zM249.7 938.1l4.7 4.7l-4.7 4.7l-4.7 -4.7zM251.1 938.1l4.7 4.7l-4.7 4.7l-4.7 -4.7zM252.5 938.1l4.7 4.7l-4.7 4.7l-4.7 -4.7zM253.9 938.1l4.7 4.7l-4.7 4.7l-4.7 -4.7zM255.3 938.1l4.7 4.7l-4.7 4.7l-4.7 -4.7zM256.7 938.1l4.7 4.7l-4.7 4.7l-4.7 -4.7zM258.1 938.1l4.7 4.7l-4.7 4.7l-4.7 -4.7zM259.5 938l4.7 4.7l-4.7 4.7l-4.7 -4.7zM260.9 938l4.7 4.7l-4.7 4.7l-4.7 -4.7zM262.3 938l4.7 4.7l-4.7 4.7l-4.7 -4.7zM263.7 938l4.7 4.7l-4.7 4.7l-4.7 -4.7zM265.2 938l4.7 4.7l-4.7 4.7l-4.7 -4.7zM266.6 938l4.7 4.7l-4.7 4.7l-4.7 -4.7zM268 938l4.7 4.7l-4.7 4.7l-4.7 -4.7zM269.4 938l4.7 4.7l-4.7 4.7l-4.7 -4.7zM270.8 938l4.7 4.7l-4.7 4.7l-4.7 -4.7zM272.2 938l4.7 4.7l-4.7 4.7l-4.7 -4.7zM273.6 938l4.7 4.7l-4.7 4.7l-4.7 -4.7zM275 938l4.7 4.7l-4.7 4.7l-4.7 -4.7zM276.4 938l4.7 4.7l-4.7 4.7l-4.7 -4.7zM277.8 938l4.7 4.7l-4.7 4.7l-4.7 -4.7zM279.2 937.9l4.7 4.7l-4.7 4.7l-4.7 -4.7zM280.6 937.9l4.7 4.7l-4.7 4.7l-4.7 -4.7zM282 937.9l4.7 4.7l-4.7 4.7l-4.7 -4.7zM283.5 937.9l4.7 4.7l-4.7 4.7l-4.7 -4.7zM284.9 937.9l4.7 4.7l-4.7 4.7l-4.7 -4.7zM286.3 937.9l4.7 4.7l-4.7 4.7l-4.7 -4.7zM287.7 937.9l4.7 4.7l-4.7 4.7l-4.7 -4.7zM289.1 937.9l4.7 4.7l-4.7 4.7l-4.7 -4.7zM290.5 937.9l4.7 4.7l-4.7 4.7l-4.7 -4.7zM291.9 937.9l4.7 4.7l-4.7 4.7l-4.7 -4.7zM293.3 937.9l4.7 4.7l-4.7 4.7l-4.7 -4.7zM294.7 937.9l4.7 4.7l-4.7 4.7l-4.7 -4.7zM296.1 937.9l4.7 4.7l-4.7 4.7l-4.7 -4.7zM297.5 937.8l4.7 4.7l-4.7 4.7l-4.7 -4.7zM298.9 937.8l4.7 4.7l-4.7 4.7l-4.7 -4.7zM300.4 937.8l4.7 4.7l-4.7 4.7l-4.7 -4.7zM301.8 937.8l4.7 4.7l-4.7 4.7l-4.7 -4.7zM303.2 937.8l4.7 4.7l-4.7 4.7l-4.7 -4.7zM304.6 937.8l4.7 4.7l-4.7 4.7l-4.7 -4.7zM306 937.8l4.7 4.7l-4.7 4.7l-4.7 -4.7zM307.4 937.8l4.7 4.7l-4.7 4.7l-4.7 -4.7zM308.8 937.8l4.7 4.7l-4.7 4.7l-4.7 -4.7zM310.2 937.8l4.7 4.7l-4.7 4.7l-4.7 -4.7zM311.6 937.8l4.7 4.7l-4.7 4.7l-4.7 -4.7zM313 937.8l4.7 4.7l-4.7 4.7l-4.7 -4.7zM314.4 937.8l4.7 4.7l-4.7 4.7l-4.7 -4.7zM315.8 937.8l4.7 4.7l-4.7 4.7l-4.7 -4.7zM317.2 937.7l4.7 4.7l-4.7 4.7l-4.7 -4.7zM318.7 937.7l4.7 4.7l-4.7 4.7l-4.7 -4.7zM320.1 937.7l4.7 4.7l-4.7 4.7l-4.7 -4.7zM321.5 937.7l4.7 4.7l-4.7 4.7l-4.7 -4.7zM322.9 937.7l4.7 4.7l-4.7 4.7l-4.7 -4.7zM324.3 937.7l4.7 4.7l-4.7 4.7l-4.7 -4.7zM325.7 937.7l4.7 4.7l-4.7 4.7l-4.7 -4.7zM327.1 937.7l4.7 4.7l-4.7 4.7l-4.7 -4.7zM328.5 937.7l4.7 4.7l-4.7 4.7l-4.7 -4.7zM329.9 937.7l4.7 4.7l-4.7 4.7l-4.7 -4.7zM331.3 937.7l4.7 4.7l-4.7 4.7l-4.7 -4.7zM332.7 937.7l4.7 4.7l-4.7 4.7l-4.7 -4.7zM334.1 937.7l4.7 4.7l-4.7 4.7l-4.7 -4.7zM335.6 937.6l4.7 4.7l-4.7 4.7l-4.7 -4.7zM337 937.6l4.7 4.7l-4.7 4.7l-4.7 -4.7zM338.4 937.6l4.7 4.7l-4.7 4.7l-4.7 -4.7zM339.8 937.6l4.7 4.7l-4.7 4.7l-4.7 -4.7zM341.2 937.6l4.7 4.7l-4.7 4.7l-4.7 -4.7zM342.6 937.6l4.7 4.7l-4.7 4.7l-4.7 -4.7zM344 937.6l4.7 4.7l-4.7 4.7l-4.7 -4.7zM345.4 937.6l4.7 4.7l-4.7 4.7l-4.7 -4.7zM346.8 937.6l4.7 4.7l-4.7 4.7l-4.7 -4.7zM348.2 937.6l4.7 4.7l-4.7 4.7l-4.7 -4.7zM349.6 937.6l4.7 4.7l-4.7 4.7l-4.7 -4.7zM351 937.6l4.7 4.7l-4.7 4.7l-4.7 -4.7zM352.4 937.6l4.7 4.7l-4.7 4.7l-4.7 -4.7zM353.9 937.6l4.7 4.7l-4.7 4.7l-4.7 -4.7zM355.3 937.5l4.7 4.7l-4.7 4.7l-4.7 -4.7zM356.7 937.5l4.7 4.7l-4.7 4.7l-4.7 -4.7zM358.1 937.5l4.7 4.7l-4.7 4.7l-4.7 -4.7zM359.5 937.5l4.7 4.7l-4.7 4.7l-4.7 -4.7zM360.9 937.5l4.7 4.7l-4.7 4.7l-4.7 -4.7zM362.3 937.5l4.7 4.7l-4.7 4.7l-4.7 -4.7zM363.7 937.5l4.7 4.7l-4.7 4.7l-4.7 -4.7zM365.1 937.5l4.7 4.7l-4.7 4.7l-4.7 -4.7zM366.5 937.5l4.7 4.7l-4.7 4.7l-4.7 -4.7zM367.9 937.5l4.7 4.7l-4.7 4.7l-4.7 -4.7zM369.3 937.5l4.7 4.7l-4.7 4.7l-4.7 -4.7zM370.8 937.5l4.7 4.7l-4.7 4.7l-4.7 -4.7zM372.2 937.5l4.7 4.7l-4.7 4.7l-4.7 -4.7zM373.6 937.4l4.7 4.7l-4.7 4.7l-4.7 -4.7zM375 937.4l4.7 4.7l-4.7 4.7l-4.7 -4.7zM376.4 937.4l4.7 4.7l-4.7 4.7l-4.7 -4.7zM377.8 937.4l4.7 4.7l-4.7 4.7l-4.7 -4.7zM379.2 937.4l4.7 4.7l-4.7 4.7l-4.7 -4.7zM380.6 937.4l4.7 4.7l-4.7 4.7l-4.7 -4.7zM382 937.4l4.7 4.7l-4.7 4.7l-4.7 -4.7zM383.4 937.4l4.7 4.7l-4.7 4.7l-4.7 -4.7zM384.8 937.4l4.7 4.7l-4.7 4.7l-4.7 -4.7zM386.2 937.4l4.7 4.7l-4.7 4.7l-4.7 -4.7zM387.6 937.4l4.7 4.7l-4.7 4.7l-4.7 -4.7zM389.1 937.4l4.7 4.7l-4.7 4.7l-4.7 -4.7zM390.5 937.4l4.7 4.7l-4.7 4.7l-4.7 -4.7zM391.9 937.4l4.7 4.7l-4.7 4.7l-4.7 -4.7zM393.3 937.3l4.7 4.7l-4.7 4.7l-4.7 -4.7zM394.7 937.3l4.7 4.7l-4.7 4.7l-4.7 -4.7zM396.1 937.3l4.7 4.7l-4.7 4.7l-4.7 -4.7zM397.5 937.3l4.7 4.7l-4.7 4.7l-4.7 -4.7zM398.9 937.3l4.7 4.7l-4.7 4.7l-4.7 -4.7zM400.3 937.3l4.7 4.7l-4.7 4.7l-4.7 -4.7zM401.7 937.3l4.7 4.7l-4.7 4.7l-4.7 -4.7zM403.1 937.3l4.7 4.7l-4.7 4.7l-4.7 -4.7zM404.5 937.3l4.7 4.7l-4.7 4.7l-4.7 -4.7zM406 937.3l4.7 4.7l-4.7 4.7l-4.7 -4.7zM407.4 937.3l4.7 4.7l-4.7 4.7l-4.7 -4.7zM408.8 937.3l4.7 4.7l-4.7 4.7l-4.7 -4.7zM410.2 937.3l4.7 4.7l-4.7 4.7l-4.7 -4.7zM411.6 937.2l4.7 4.7l-4.7 4.7l-4.7 -4.7zM413 937.2l4.7 4.7l-4.7 4.7l-4.7 -4.7zM414.4 937.2l4.7 4.7l-4.7 4.7l-4.7 -4.7zM415.8 937.2l4.7 4.7l-4.7 4.7l-4.7 -4.7zM417.2 937.2l4.7 4.7l-4.7 4.7l-4.7 -4.7zM418.6 937.2l4.7 4.7l-4.7 4.7l-4.7 -4.7zM420 937.2l4.7 4.7l-4.7 4.7l-4.7 -4.7zM421.4 937.2l4.7 4.7l-4.7 4.7l-4.7 -4.7zM422.8 937.2l4.7 4.7l-4.7 4.7l-4.7 -4.7zM424.3 937.2l4.7 4.7l-4.7 4.7l-4.7 -4.7zM425.7 937.2l4.7 4.7l-4.7 4.7l-4.7 -4.7zM427.1 937.2l4.7 4.7l-4.7 4.7l-4.7 -4.7zM428.5 937.2l4.7 4.7l-4.7 4.7l-4.7 -4.7zM429.9 937.2l4.7 4.7l-4.7 4.7l-4.7 -4.7zM431.3 937.1l4.7 4.7l-4.7 4.7l-4.7 -4.7zM432.7 937.1l4.7 4.7l-4.7 4.7l-4.7 -4.7zM434.1 937.1l4.7 4.7l-4.7 4.7l-4.7 -4.7zM435.5 937.1l4.7 4.7l-4.7 4.7l-4.7 -4.7zM436.9 937.1l4.7 4.7l-4.7 4.7l-4.7 -4.7zM438.3 937.1l4.7 4.7l-4.7 4.7l-4.7 -4.7zM439.7 937.1l4.7 4.7l-4.7 4.7l-4.7 -4.7zM441.2 937.1l4.7 4.7l-4.7 4.7l-4.7 -4.7zM442.6 937.1l4.7 4.7l-4.7 4.7l-4.7 -4.7zM444 937.1l4.7 4.7l-4.7 4.7l-4.7 -4.7zM445.4 937.1l4.7 4.7l-4.7 4.7l-4.7 -4.7zM446.8 937.1l4.7 4.7l-4.7 4.7l-4.7 -4.7zM448.2 937.1l4.7 4.7l-4.7 4.7l-4.7 -4.7zM449.6 937.1l4.7 4.7l-4.7 4.7l-4.7 -4.7z" fill="#FF00FF"/>
<polyline points="97.6,942.4 99,940.8 100.4,938.7 101.8,936.5 103.2,934.4 104.6,932.7 106,931.4 107.5,930.4 108.9,929.5 110.3,928.7 111.7,928 113.1,927.3 114.5,926.5 115.9,925.7 117.3,925 118.7,924.3 120.1,923.7 121.5,923.2 122.9,922.8 124.4,922.4 125.8,922.1 127.2,921.8 128.6,921.5 130,921.3 131.4,921 132.8,920.8 134.2,920.6 135.6,920.4 137,920.2 138.4,920 139.8,919.8 141.2,919.7 142.7,919.5 144.1,919.3 145.5,919.2 146.9,919 148.3,918.9 149.7,918.7 151.1,918.5 152.5,918.4 153.9,918.3 155.3,918.1 156.7,918 158.1,917.8 159.6,917.7 161,917.6 162.4,917.4 163.8,917.3 165.2,917.2 166.6,917.1 168,917 169.4,916.8 170.8,916.7 172.2,916.6 173.6,916.5 175,916.4 176.4,916.3 177.9,916.2 179.3,916.1 180.7,916 182.1,915.9 183.5,915.8 184.9,915.6 186.3,915.6 187.7,915.5 189.1,915.4 190.5,915.3 191.9,915.2 193.3,915.1 194.8,915 196.2,914.9 197.6,914.9 199,914.8 200.4,914.7 201.8,914.6 203.2,914.6 204.6,914.5 206,914.4 207.4,914.4 208.8,914.3 210.2,914.3 211.6,914.2 213.1,914.1 214.5,914.1 215.9,914 217.3,914 218.7,913.9 220.1,913.9 221.5,913.8 222.9,913.8 224.3,913.7 225.7,913.7 227.1,913.6 228.5,913.6 230,913.5 231.4,913.5 232.8,913.4 234.2,913.4 235.6,913.3 237,913.3 238.4,913.2 239.8,913.2 241.2,913.2 242.6,913.1 244,913.1 245.4,913 246.8,913 248.3,912.9 249.7,912.9 251.1,912.9 252.5,912.8 253.9,912.8 255.3,912.7 256.7,912.7 258.1,912.7 259.5,912.6 260.9,912.6 262.3,912.6 263.7,912.5 265.2,912.5 266.6,912.5 268,912.4 269.4,912.4 270.8,912.3 272.2,912.3 273.6,912.3 275,912.2 276.4,912.2 277.8,912.2 279.2,912.1 280.6,912.1 282,912.1 283.5,912 284.9,912 286.3,912 287.7,911.9 289.1,911.9 290.5,911.9 291.9,911.8 293.3,911.8 294.7,911.8 296.1,911.7 297.5,911.7 298.9,911.6 300.4,911.6 301.8,911.6 303.2,911.5 304.6,911.5 306,911.5 307.4,911.4 308.8,911.4 310.2,911.4 311.6,911.3 313,911.3 314.4,911.2 315.8,911.2 317.2,911.2 318.7,911.1 320.1,911.1 321.5,911.1 322.9,911 324.3,911 325.7,910.9 327.1,910.9 328.5,910.9 329.9,910.8 331.3,910.8 332.7,910.8 334.1,910.7 335.6,910.7 337,910.6 338.4,910.6 339.8,910.6 341.2,910.5 342.6,910.5 344,910.4 345.4,910.4 346.8,910.4 348.2,910.3 349.6,910.3 351,910.3 352.4,910.2 353.9,910.2 355.3,910.1 356.7,910.1 358.1,910.1 359.5,910 360.9,910 362.3,909.9 363.7,909.9 365.1,909.9 366.5,909.8 367.9,909.8 369.3,909.8 370.8,909.7 372.2,909.7 373.6,909.6 375,909.6 376.4,909.6 377.8,909.5 379.2,909.5 380.6,909.4 382,909.4 383.4,909.4 384.8,909.3 386.2,909.3 387.6,909.2 389.1,909.2 390.5,909.2 391.9,909.1 393.3,909.1 394.7,909 396.1,909 397.5,908.9 398.9,908.9 400.3,908.9 401.7,908.8 403.1,908.8 404.5,908.7 406,908.7 407.4,908.6 408.8,908.6 410.2,908.6 411.6,908.5 413,908.5 414.4,908.4 415.8,908.4 417.2,908.3 418.6,908.3 420,908.3 421.4,908.2 422.8,908.2 424.3,908.1 425.7,908.1 427.1,908 428.5,908 429.9,908 431.3,907.9 432.7,907.9 434.1,907.8 435.5,907.8 436.9,907.7 438.3,907.7 439.7,907.6 441.2,907.6 442.6,907.5 444,907.5 445.4,907.5 446.8,907.4 448.2,907.4 449.6,907.3" fill="none" stroke="#FF00FF" stroke-width="1.2"/>
<path d="M93.4 938.2h8.4v8.4h-8.4zM94.8 936.6h8.4v8.4h-8.4zM96.2 934.5h8.4v8.4h-8.4zM97.6 932.3h8.4v8.4h-8.4zM99 930.2h8.4v8.4h-8.4zM100.4 928.5h8.4v8.4h-8.4zM101.8 927.2h8.4v8.4h-8.4zM103.3 926.2h8.4v8.4h-8.4zM104.7 925.3h8.4v8.4h-8.4zM106.1 924.5h8.4v8.4h-8.4zM107.5 923.8h8.4v8.4h-8.4zM108.9 923.1h8.4v8.4h-8.4zM110.3 922.3h8.4v8.4h-8.4zM111.7 921.5h8.4v8.4h-8.4zM113.1 920.8h8.4v8.4h-8.4zM114.5 920.1h8.4v8.4h-8.4zM115.9 919.5h8.4v8.4h-8.4zM117.3 919h8.4v8.4h-8.4zM118.7 918.6h8.4v8.4h-8.4zM120.2 918.2h8.4v8.4h-8.4zM121.6 917.9h8.4v8.4h-8.4zM123 917.6h8.4v8.4h-8.4zM124.4 917.3h8.4v8.4h-8.4zM125.8 917.1h8.4v8.4h-8.4zM127.2 916.8h8.4v8.4h-8.4zM128.6 916.6h8.4v8.4h-8.4zM130 916.4h8.4v8.4h-8.4zM131.4 916.2h8.4v8.4h-8.4zM132.8 916h8.4v8.4h-8.4zM134.2 915.8h8.4v8.4h-8.4zM135.6 915.6h8.4v8.4h-8.4zM137 915.5h8.4v8.4h-8.4zM138.5 915.3h8.4v8.4h-8.4zM139.9 915.1h8.4v8.4h-8.4zM141.3 915h8.4v8.4h-8.4zM142.7 914.8h8.4v8.4h-8.4zM144.1 914.7h8.4v8.4h-8.4zM145.5 914.5h8.4v8.4h-8.4zM146.9 914.3h8.4v8.4h-8.4zM148.3 914.2h8.4v8.4h-8.4zM149.7 914.1h8.4v8.4h-8.4zM151.1 913.9h8.4v8.4h-8.4zM152.5 913.8h8.4v8.4h-8.4zM153.9 913.6h8.4v8.4h-8.4zM155.4 913.5h8.4v8.4h-8.4zM156.8 913.4h8.4v8.4h-8.4zM158.2 913.2h8.4v8.4h-8.4zM159.6 913.1h8.4v8.4h-8.4zM161 913h8.4v8.4h-8.4zM162.4 912.9h8.4v8.4h-8.4zM163.8 912.8h8.4v8.4h-8.4zM165.2 912.6h8.4v8.4h-8.4zM166.6 912.5h8.4v8.4h-8.4zM168 912.4h8.4v8.4h-8.4zM169.4 912.3h8.4v8.4h-8.4zM170.8 912.2h8.4v8.4h-8.4zM172.2 912.1h8.4v8.4h-8.4zM173.7 912h8.4v8.4h-8.4zM175.1 911.9h8.4v8.4h-8.4zM176.5 911.8h8.4v8.4h-8.4zM177.9 911.7h8.4v8.4h-8.4zM179.3 911.6h8.4v8.4h-8.4zM180.7 911.4h8.4v8.4h-8.4zM182.1 911.4h8.4v8.4h-8.4zM183.5 911.3h8.4v8.4h-8.4zM184.9 911.2h8.4v8.4h-8.4zM186.3 911.1h8.4v8.4h-8.4zM187.7 911h8.4v8.4h-8.4zM189.1 910.9h8.4v8.4h-8.4zM190.6 910.8h8.4v8.4h-8.4zM192 910.7h8.4v8.4h-8.4zM193.4 910.7h8.4v8.4h-8.4zM194.8 910.6h8.4v8.4h-8.4zM196.2 910.5h8.4v8.4h-8.4zM197.6 910.4h8.4v8.4h-8.4zM199 910.4h8.4v8.4h-8.4zM200.4 910.3h8.4v8.4h-8.4zM201.8 910.2h8.4v8.4h-8.4zM203.2 910.2h8.4v8.4h-8.4zM204.6 910.1h8.4v8.4h-8.4zM206 910.1h8.4v8.4h-8.4zM207.4 910h8.4v8.4h-8.4zM208.9 909.9h8.4v8.4h-8.4zM210.3 909.9h8.4v8.4h-8.4zM211.7 909.8h8.4v8.4h-8.4zM213.1 909.8h8.4v8.4h-8.4zM214.5 909.7h8.4v8.4h-8.4zM215.9 909.7h8.4v8.4h-8.4zM217.3 909.6h8.4v8.4h-8.4zM218.7 909.6h8.4v8.4h-8.4zM220.1 909.5h8.4v8.4h-8.4zM221.5 909.5h8.4v8.4h-8.4zM222.9 909.4h8.4v8.4h-8.4zM224.3 909.4h8.4v8.4h-8.4zM225.8 909.3h8.4v8.4h-8.4zM227.2 909.3h8.4v8.4h-8.4zM228.6 909.2h8.4v8.4h-8.4zM230 909.2h8.4v8.4h-8.4zM231.4 909.1h8.4v8.4h-8.4zM232.8 909.1h8.4v8.4h-8.4zM234.2 909h8.4v8.4h-8.4zM235.6 909h8.4v8.4h-8.4zM237 909h8.4v8.4h-8.4zM238.4 908.9h8.4v8.4h-8.4zM239.8 908.9h8.4v8.4h-8.4zM241.2 908.8h8.4v8.4h-8.4zM242.6 908.8h8.4v8.4h-8.4zM244.1 908.7h8.4v8.4h-8.4zM245.5 908.7h8.4v8.4h-8.4zM246.9 908.7h8.4v8.4h-8.4zM248.3 908.6h8.4v8.4h-8.4zM249.7 908.6h8.4v8.4h-8.4zM251.1 908.5h8.4v8.4h-8.4zM252.5 908.5h8.4v8.4h-8.4zM253.9 908.5h8.4v8.4h-8.4zM255.3 908.4h8.4v8.4h-8.4zM256.7 908.4h8.4v8.4h-8.4zM258.1 908.4h8.4v8.4h-8.4zM259.5 908.3h8.4v8.4h-8.4zM261 908.3h8.4v8.4h-8.4zM262.4 908.3h8.4v8.4h-8.4zM263.8 908.2h8.4v8.4h-8.4zM265.2 908.2h8.4v8.4h-8.4zM266.6 908.1h8.4v8.4h-8.4zM268 908.1h8.4v8.4h-8.4zM269.4 908.1h8.4v8.4h-8.4zM270.8 908h8.4v8.4h-8.4zM272.2 908h8.4v8.4h-8.4zM273.6 908h8.4v8.4h-8.4zM275 907.9h8.4v8.4h-8.4zM276.4 907.9h8.4v8.4h-8.4zM277.8 907.9h8.4v8.4h-8.4zM279.3 907.8h8.4v8.4h-8.4zM280.7 907.8h8.4v8.4h-8.4zM282.1 907.8h8.4v8.4h-8.4zM283.5 907.7h8.4v8.4h-8.4zM284.9 907.7h8.4v8.4h-8.4zM286.3 907.7h8.4v8.4h-8.4zM287.7 907.6h8.4v8.4h-8.4zM289.1 907.6h8.4v8.4h-8.4zM290.5 907.6h8.4v8.4h-8.4zM291.9 907.5h8.4v8.4h-8.4zM293.3 907.5h8.4v8.4h-8.4zM294.7 907.4h8.4v8.4h-8.4zM296.2 907.4h8.4v8.4h-8.4zM297.6 907.4h8.4v8.4h-8.4zM299 907.3h8.4v8.4h-8.4zM300.4 907.3h8.4v8.4h-8.4zM301.8 907.3h8.4v8.4h-8.4zM303.2 907.2h8.4v8.4h-8.4zM304.6 907.2h8.4v8.4h-8.4zM306 907.2h8.4v8.4h-8.4zM307.4 907.1h8.4v8.4h-8.4zM308.8 907.1h8.4v8.4h-8.4zM310.2 907h8.4v8.4h-8.4zM311.6 907h8.4v8.4h-8.4zM313 907h8.4v8.4h-8.4zM314.5 906.9h8.4v8.4h-8.4zM315.9 906.9h8.4v8.4h-8.4zM317.3 906.9h8.4v8.4h-8.4zM318.7 906.8h8.4v8.4h-8.4zM320.1 906.8h8.4v8.4h-8.4zM321.5 906.7h8.4v8.4h-8.4zM322.9 906.7h8.4v8.4h-8.4zM324.3 906.7h8.4v8.4h-8.4zM325.7 906.6h8.4v8.4h-8.4zM327.1 906.6h8.4v8.4h-8.4zM328.5 906.6h8.4v8.4h-8.4zM329.9 906.5h8.4v8.4h-8.4zM331.4 906.5h8.4v8.4h-8.4zM332.8 906.4h8.4v8.4h-8.4zM334.2 906.4h8.4v8.4h-8.4zM335.6 906.4h8.4v8.4h-8.4zM337 906.3h8.4v8.4h-8.4zM338.4 906.3h8.4v8.4h-8.4zM339.8 906.2h8.4v8.4h-8.4zM341.2 906.2h8.4v8.4h-8.4zM342.6 906.2h8.4v8.4h-8.4zM344 906.1h8.4v8.4h-8.4zM345.4 906.1h8.4v8.4h-8.4zM346.8 906.1h8.4v8.4h-8.4zM348.2 906h8.4v8.4h-8.4zM349.7 906h8.4v8.4h-8.4zM351.1 905.9h8.4v8.4h-8.4zM352.5 905.9h8.4v8.4h-8.4zM353.9 905.9h8.4v8.4h-8.4zM355.3 905.8h8.4v8.4h-8.4zM356.7 905.8h8.4v8.4h-8.4zM358.1 905.7h8.4v8.4h-8.4zM359.5 905.7h8.4v8.4h-8.4zM360.9 905.7h8.4v8.4h-8.4zM362.3 905.6h8.4v8.4h-8.4zM363.7 905.6h8.4v8.4h-8.4zM365.1 905.6h8.4v8.4h-8.4zM366.6 905.5h8.4v8.4h-8.4zM368 905.5h8.4v8.4h-8.4zM369.4 905.4h8.4v8.4h-8.4zM370.8 905.4h8.4v8.4h-8.4zM372.2 905.4h8.4v8.4h-8.4zM373.6 905.3h8.4v8.4h-8.4zM375 905.3h8.4v8.4h-8.4zM376.4 905.2h8.4v8.4h-8.4zM377.8 905.2h8.4v8.4h-8.4zM379.2 905.2h8.4v8.4h-8.4zM380.6 905.1h8.4v8.4h-8.4zM382 905.1h8.4v8.4h-8.4zM383.4 905h8.4v8.4h-8.4zM384.9 905h8.4v8.4h-8.4zM386.3 905h8.4v8.4h-8.4zM387.7 904.9h8.4v8.4h-8.4zM389.1 904.9h8.4v8.4h-8.4zM390.5 904.8h8.4v8.4h-8.4zM391.9 904.8h8.4v8.4h-8.4zM393.3 904.7h8.4v8.4h-8.4zM394.7 904.7h8.4v8.4h-8.4zM396.1 904.7h8.4v8.4h-8.4zM397.5 904.6h8.4v8.4h-8.4zM398.9 904.6h8.4v8.4h-8.4zM400.3 904.5h8.4v8.4h-8.4zM401.8 904.5h8.4v8.4h-8.4zM403.2 904.4h8.4v8.4h-8.4zM404.6 904.4h8.4v8.4h-8.4zM406 904.4h8.4v8.4h-8.4zM407.4 904.3h8.4v8.4h-8.4zM408.8 904.3h8.4v8.4h-8.4zM410.2 904.2h8.4v8.4h-8.4zM411.6 904.2h8.4v8.4h-8.4zM413 904.1h8.4v8.4h-8.4zM414.4 904.1h8.4v8.4h-8.4zM415.8 904.1h8.4v8.4h-8.4zM417.2 904h8.4v8.4h-8.4zM418.6 904h8.4v8.4h-8.4zM420.1 903.9h8.4v8.4h-8.4zM421.5 903.9h8.4v8.4h-8.4zM422.9 903.8h8.4v8.4h-8.4zM424.3 903.8h8.4v8.4h-8.4zM425.7 903.8h8.4v8.4h-8.4zM427.1 903.7h8.4v8.4h-8.4zM428.5 903.7h8.4v8.4h-8.4zM429.9 903.6h8.4v8.4h-8.4zM431.3 903.6h8.4v8.4h-8.4zM432.7 903.5h8.4v8.4h-8.4zM434.1 903.5h8.4v8.4h-8.4zM435.5 903.4h8.4v8.4h-8.4zM437 903.4h8.4v8.4h-8.4zM438.4 903.3h8.4v8.4h-8.4zM439.8 903.3h8.4v8.4h-8.4zM441.2 903.3h8.4v8.4h-8.4zM442.6 903.2h8.4v8.4h-8.4zM444 903.2h8.4v8.4h-8.4zM445.4 903.1h8.4v8.4h-8.4z" fill="#FF00FF"/>
<polyline points="97.6,942.6 99,941.1 100.4,939.2 101.8,937 103.2,934.7 104.6,932.5 106,930.2 107.5,927.9 108.9,925.5 110.3,923.2 111.7,920.8 113.1,918.4 114.5,916.2 115.9,914.2 117.3,912.4 118.7,910.9 120.1,909.4 121.5,908.1 122.9,906.9 124.4,905.8 125.8,904.8 127.2,903.9 128.6,903.1 130,902.3 131.4,901.6 132.8,901 134.2,900.3 135.6,899.6 137,898.9 138.4,898.2 139.8,897.6 141.2,896.9 142.7,896.4 144.1,895.9 145.5,895.4 146.9,895 148.3,894.6 149.7,894.2 151.1,893.9 152.5,893.6 153.9,893.2 155.3,892.9 156.7,892.7 158.1,892.4 159.6,892.2 161,891.9 162.4,891.7 163.8,891.5 165.2,891.3 166.6,891.1 168,890.9 169.4,890.7 170.8,890.5 172.2,890.3 173.6,890.2 175,890 176.4,889.8 177.9,889.7 179.3,889.5 180.7,889.3 182.1,889.2 183.5,889 184.9,888.9 186.3,888.7 187.7,888.5 189.1,888.4 190.5,888.2 191.9,888.1 193.3,888 194.8,887.8 196.2,887.7 197.6,887.5 199,887.4 200.4,887.3 201.8,887.2 203.2,887.1 204.6,886.9 206,886.8 207.4,886.7 208.8,886.6 210.2,886.5 211.6,886.4 213.1,886.3 214.5,886.1 215.9,886 217.3,885.9 218.7,885.8 220.1,885.7 221.5,885.6 222.9,885.5 224.3,885.4 225.7,885.3 227.1,885.2 228.5,885.1 230,885 231.4,884.9 232.8,884.8 234.2,884.7 235.6,884.7 237,884.6 238.4,884.5 239.8,884.4 241.2,884.3 242.6,884.2 244,884.1 245.4,884 246.8,883.9 248.3,883.8 249.7,883.8 251.1,883.7 252.5,883.6 253.9,883.5 255.3,883.4 256.7,883.3 258.1,883.3 259.5,883.2 260.9,883.1 262.3,883 263.7,882.9 265.2,882.9 266.6,882.8 268,882.7 269.4,882.6 270.8,882.5 272.2,882.5 273.6,882.4 275,882.3 276.4,882.2 277.8,882.1 279.2,882.1 280.6,882 282,881.9 283.5,881.8 284.9,881.8 286.3,881.7 287.7,881.6 289.1,881.5 290.5,881.5 291.9,881.4 293.3,881.3 294.7,881.2 296.1,881.2 297.5,881.1 298.9,881 300.4,880.9 301.8,880.8 303.2,880.8 304.6,880.7 306,880.6 307.4,880.5 308.8,880.5 310.2,880.4 311.6,880.3 313,880.2 314.4,880.2 315.8,880.1 317.2,880 318.7,879.9 320.1,879.9 321.5,879.8 322.9,879.7 324.3,879.6 325.7,879.6 327.1,879.5 328.5,879.4 329.9,879.3 331.3,879.3 332.7,879.2 334.1,879.1 335.6,879 337,879 338.4,878.9 339.8,878.8 341.2,878.7 342.6,878.7 344,878.6 345.4,878.5 346.8,878.4 348.2,878.4 349.6,878.3 351,878.2 352.4,878.1 353.9,878.1 355.3,878 356.7,877.9 358.1,877.8 359.5,877.8 360.9,877.7 362.3,877.6 363.7,877.6 365.1,877.5 366.5,877.4 367.9,877.3 369.3,877.3 370.8,877.2 372.2,877.1 373.6,877.1 375,877 376.4,876.9 377.8,876.8 379.2,876.8 380.6,876.7 382,876.6 383.4,876.5 384.8,876.5 386.2,876.4 387.6,876.3 389.1,876.3 390.5,876.2 391.9,876.1 393.3,876 394.7,876 396.1,875.9 397.5,875.8 398.9,875.8 400.3,875.7 401.7,875.6 403.1,875.5 404.5,875.5 406,875.4 407.4,875.3 408.8,875.3 410.2,875.2 411.6,875.1 413,875.1 414.4,875 415.8,874.9 417.2,874.8 418.6,874.8 420,874.7 421.4,874.6 422.8,874.6 424.3,874.5 425.7,874.4 427.1,874.4 428.5,874.3 429.9,874.2 431.3,874.2 432.7,874.1 434.1,874 435.5,873.9 436.9,873.9 438.3,873.8 439.7,873.7 441.2,873.7 442.6,873.6 444,873.5 445.4,873.5 446.8,873.4 448.2,873.3 449.6,873.3" fill="none" stroke="#FF00FF" stroke-width="1.2"/>
<path d="M97.6 937.7L102.5 946.5H92.7zM99 936.2L103.9 945H94.1zM100.4 934.3L105.3 943.1H95.5zM101.8 932.1L106.7 940.9H96.9zM103.2 929.8L108.1 938.7H98.3zM104.6 927.6L109.5 936.4H99.7zM106 925.3L110.9 934.1H101.1zM107.5 923L112.4 931.8H102.6zM108.9 920.6L113.8 929.5H104zM110.3 918.3L115.2 927.1H105.4zM111.7 915.9L116.6 924.7H106.8zM113.1 913.5L118 922.3H108.2zM114.5 911.3L119.4 920.1H109.6zM115.9 909.3L120.8 918.1H111zM117.3 907.5L122.2 916.4H112.4zM118.7 906L123.6 914.8H113.8zM120.1 904.5L125 913.3H115.2zM121.5 903.2L126.4 912H116.6zM122.9 902L127.8 910.8H118zM124.4 900.9L129.3 909.7H119.5zM125.8 899.9L130.7 908.7H120.9zM127.2 899L132.1 907.8H122.3zM128.6 898.2L133.5 907H123.7zM130 897.4L134.9 906.3H125.1zM131.4 896.7L136.3 905.6H126.5zM132.8 896.1L137.7 904.9H127.9zM134.2 895.4L139.1 904.2H129.3zM135.6 894.7L140.5 903.5H130.7zM137 894L141.9 902.8H132.1zM138.4 893.3L143.3 902.1H133.5zM139.8 892.7L144.7 901.5H134.9zM141.2 892L146.1 900.9H136.3zM142.7 891.5L147.6 900.3H137.8zM144.1 891L149 899.8H139.2zM145.5 890.5L150.4 899.3H140.6zM146.9 890.1L151.8 898.9H142zM148.3 889.7L153.2 898.5H143.4zM149.7 889.3L154.6 898.2H144.8zM151.1 889L156 897.8H146.2zM152.5 888.7L157.4 897.5H147.6zM153.9 888.3L158.8 897.2H149zM155.3 888L160.2 896.9H150.4zM156.7 887.8L161.6 896.6H151.8zM158.1 887.5L163 896.3H153.2zM159.6 887.3L164.5 896.1H154.7zM161 887L165.9 895.8H156.1zM162.4 886.8L167.3 895.6H157.5zM163.8 886.6L168.7 895.4H158.9zM165.2 886.4L170.1 895.2H160.3zM166.6 886.2L171.5 895H161.7zM168 886L172.9 894.8H163.1zM169.4 885.8L174.3 894.6H164.5zM170.8 885.6L175.7 894.4H165.9zM172.2 885.4L177.1 894.2H167.3zM173.6 885.3L178.5 894.1H168.7zM175 885.1L179.9 893.9H170.1zM176.4 884.9L181.3 893.7H171.5zM177.9 884.8L182.8 893.6H173zM179.3 884.6L184.2 893.4H174.4zM180.7 884.4L185.6 893.3H175.8zM182.1 884.3L187 893.1H177.2zM183.5 884.1L188.4 892.9H178.6zM184.9 884L189.8 892.8H180zM186.3 883.8L191.2 892.6H181.4zM187.7 883.6L192.6 892.5H182.8zM189.1 883.5L194 892.3H184.2zM190.5 883.3L195.4 892.2H185.6zM191.9 883.2L196.8 892H187zM193.3 883.1L198.2 891.9H188.4zM194.8 882.9L199.7 891.7H189.9zM196.2 882.8L201.1 891.6H191.3zM197.6 882.6L202.5 891.5H192.7zM199 882.5L203.9 891.3H194.1zM200.4 882.4L205.3 891.2H195.5zM201.8 882.3L206.7 891.1H196.9zM203.2 882.2L208.1 891H198.3zM204.6 882L209.5 890.9H199.7zM206 881.9L210.9 890.7H201.1zM207.4 881.8L212.3 890.6H202.5zM208.8 881.7L213.7 890.5H203.9zM210.2 881.6L215.1 890.4H205.3zM211.6 881.5L216.5 890.3H206.7zM213.1 881.4L218 890.2H208.2zM214.5 881.2L219.4 890.1H209.6zM215.9 881.1L220.8 890H211zM217.3 881L222.2 889.9H212.4zM218.7 880.9L223.6 889.7H213.8zM220.1 880.8L225 889.6H215.2zM221.5 880.7L226.4 889.5H216.6zM222.9 880.6L227.8 889.4H218zM224.3 880.5L229.2 889.3H219.4zM225.7 880.4L230.6 889.2H220.8zM227.1 880.3L232 889.1H222.2zM228.5 880.2L233.4 889H223.6zM230 880.1L234.9 889H225.1zM231.4 880L236.3 888.9H226.5zM232.8 879.9L237.7 888.8H227.9zM234.2 879.8L239.1 888.7H229.3zM235.6 879.8L240.5 888.6H230.7zM237 879.7L241.9 888.5H232.1zM238.4 879.6L243.3 888.4H233.5zM239.8 879.5L244.7 888.3H234.9zM241.2 879.4L246.1 888.2H236.3zM242.6 879.3L247.5 888.1H237.7zM244 879.2L248.9 888H239.1zM245.4 879.1L250.3 887.9H240.5zM246.8 879L251.7 887.9H241.9zM248.3 878.9L253.2 887.8H243.4zM249.7 878.9L254.6 887.7H244.8zM251.1 878.8L256 887.6H246.2zM252.5 878.7L257.4 887.5H247.6zM253.9 878.6L258.8 887.4H249zM255.3 878.5L260.2 887.3H250.4zM256.7 878.4L261.6 887.3H251.8zM258.1 878.4L263 887.2H253.2zM259.5 878.3L264.4 887.1H254.6zM260.9 878.2L265.8 887H256zM262.3 878.1L267.2 886.9H257.4zM263.7 878L268.6 886.8H258.8zM265.2 878L270.1 886.8H260.3zM266.6 877.9L271.5 886.7H261.7zM268 877.8L272.9 886.6H263.1zM269.4 877.7L274.3 886.5H264.5zM270.8 877.6L275.7 886.5H265.9zM272.2 877.6L277.1 886.4H267.3zM273.6 877.5L278.5 886.3H268.7zM275 877.4L279.9 886.2H270.1zM276.4 877.3L281.3 886.1H271.5zM277.8 877.2L282.7 886.1H272.9zM279.2 877.2L284.1 886H274.3zM280.6 877.1L285.5 885.9H275.7zM282 877L286.9 885.8H277.1zM283.5 876.9L288.4 885.8H278.6zM284.9 876.9L289.8 885.7H280zM286.3 876.8L291.2 885.6H281.4zM287.7 876.7L292.6 885.5H282.8zM289.1 876.6L294 885.5H284.2zM290.5 876.6L295.4 885.4H285.6zM291.9 876.5L296.8 885.3H287zM293.3 876.4L298.2 885.2H288.4zM294.7 876.3L299.6 885.1H289.8zM296.1 876.3L301 885.1H291.2zM297.5 876.2L302.4 885H292.6zM298.9 876.1L303.8 884.9H294zM300.4 876L305.3 884.8H295.5zM301.8 875.9L306.7 884.8H296.9zM303.2 875.9L308.1 884.7H298.3zM304.6 875.8L309.5 884.6H299.7zM306 875.7L310.9 884.5H301.1zM307.4 875.6L312.3 884.5H302.5zM308.8 875.6L313.7 884.4H303.9zM310.2 875.5L315.1 884.3H305.3zM311.6 875.4L316.5 884.2H306.7zM313 875.3L317.9 884.2H308.1zM314.4 875.3L319.3 884.1H309.5zM315.8 875.2L320.7 884H310.9zM317.2 875.1L322.1 883.9H312.3zM318.7 875L323.6 883.8H313.8zM320.1 875L325 883.8H315.2zM321.5 874.9L326.4 883.7H316.6zM322.9 874.8L327.8 883.6H318zM324.3 874.7L329.2 883.5H319.4zM325.7 874.7L330.6 883.5H320.8zM327.1 874.6L332 883.4H322.2zM328.5 874.5L333.4 883.3H323.6zM329.9 874.4L334.8 883.2H325zM331.3 874.4L336.2 883.2H326.4zM332.7 874.3L337.6 883.1H327.8zM334.1 874.2L339 883H329.2zM335.6 874.1L340.5 882.9H330.7zM337 874.1L341.9 882.9H332.1zM338.4 874L343.3 882.8H333.5zM339.8 873.9L344.7 882.7H334.9zM341.2 873.8L346.1 882.7H336.3zM342.6 873.8L347.5 882.6H337.7zM344 873.7L348.9 882.5H339.1zM345.4 873.6L350.3 882.4H340.5zM346.8 873.5L351.7 882.4H341.9zM348.2 873.5L353.1 882.3H343.3zM349.6 873.4L354.5 882.2H344.7zM351 873.3L355.9 882.1H346.1zM352.4 873.2L357.3 882.1H347.5zM353.9 873.2L358.8 882H349zM355.3 873.1L360.2 881.9H350.4zM356.7 873L361.6 881.8H351.8zM358.1 872.9L363 881.8H353.2zM359.5 872.9L364.4 881.7H354.6zM360.9 872.8L365.8 881.6H356zM362.3 872.7L367.2 881.6H357.4zM363.7 872.7L368.6 881.5H358.8zM365.1 872.6L370 881.4H360.2zM366.5 872.5L371.4 881.3H361.6zM367.9 872.4L372.8 881.3H363zM369.3 872.4L374.2 881.2H364.4zM370.8 872.3L375.7 881.1H365.9zM372.2 872.2L377.1 881H367.3zM373.6 872.2L378.5 881H368.7zM375 872.1L379.9 880.9H370.1zM376.4 872L381.3 880.8H371.5zM377.8 871.9L382.7 880.8H372.9zM379.2 871.9L384.1 880.7H374.3zM380.6 871.8L385.5 880.6H375.7zM382 871.7L386.9 880.5H377.1zM383.4 871.6L388.3 880.5H378.5zM384.8 871.6L389.7 880.4H379.9zM386.2 871.5L391.1 880.3H381.3zM387.6 871.4L392.5 880.3H382.7zM389.1 871.4L394 880.2H384.2zM390.5 871.3L395.4 880.1H385.6zM391.9 871.2L396.8 880H387zM393.3 871.1L398.2 880H388.4zM394.7 871.1L399.6 879.9H389.8zM396.1 871L401 879.8H391.2zM397.5 870.9L402.4 879.8H392.6zM398.9 870.9L403.8 879.7H394zM400.3 870.8L405.2 879.6H395.4zM401.7 870.7L406.6 879.5H396.8zM403.1 870.6L408 879.5H398.2zM404.5 870.6L409.4 879.4H399.6zM406 870.5L410.9 879.3H401.1zM407.4 870.4L412.3 879.3H402.5zM408.8 870.4L413.7 879.2H403.9zM410.2 870.3L415.1 879.1H405.3zM411.6 870.2L416.5 879H406.7zM413 870.2L417.9 879H408.1zM414.4 870.1L419.3 878.9H409.5zM415.8 870L420.7 878.8H410.9zM417.2 869.9L422.1 878.8H412.3zM418.6 869.9L423.5 878.7H413.7zM420 869.8L424.9 878.6H415.1zM421.4 869.7L426.3 878.6H416.5zM422.8 869.7L427.7 878.5H417.9zM424.3 869.6L429.2 878.4H419.4zM425.7 869.5L430.6 878.3H420.8zM427.1 869.5L432 878.3H422.2zM428.5 869.4L433.4 878.2H423.6zM429.9 869.3L434.8 878.1H425zM431.3 869.3L436.2 878.1H426.4zM432.7 869.2L437.6 878H427.8zM434.1 869.1L439 877.9H429.2zM435.5 869L440.4 877.9H430.6zM436.9 869L441.8 877.8H432zM438.3 868.9L443.2 877.7H433.4zM439.7 868.8L444.6 877.7H434.8zM441.2 868.8L446.1 877.6H436.3zM442.6 868.7L447.5 877.5H437.7zM444 868.6L448.9 877.5H439.1zM445.4 868.6L450.3 877.4H440.5zM446.8 868.5L451.7 877.3H441.9zM448.2 868.4L453.1 877.3H443.3zM449.6 868.4L454.5 877.2H444.7z" fill="#FF00FF"/>
<polyline points="97.6,942.4 99,940.7 100.4,938.4 101.8,935.9 103.2,933.3 104.6,930.6 106,927.9 107.5,925.1 108.9,922.4 110.3,919.7 111.7,917 113.1,914.5 114.5,912.1 115.9,909.7 117.3,907.3 118.7,905 120.1,902.6 121.5,900.2 122.9,897.9 124.4,895.5 125.8,893.2 127.2,891 128.6,888.8 130,886.7 131.4,884.7 132.8,882.7 134.2,880.8 135.6,878.8 137,877 138.4,875.4 139.8,873.9 141.2,872.6 142.7,871.4 144.1,870.4 145.5,869.4 146.9,868.5 148.3,867.7 149.7,866.9 151.1,866.2 152.5,865.6 153.9,865 155.3,864.4 156.7,863.9 158.1,863.4 159.6,863 161,862.5 162.4,862.1 163.8,861.8 165.2,861.4 166.6,861.1 168,860.7 169.4,860.4 170.8,860.1 172.2,859.8 173.6,859.5 175,859.3 176.4,859 177.9,858.8 179.3,858.5 180.7,858.3 182.1,858 183.5,857.8 184.9,857.6 186.3,857.4 187.7,857.1 189.1,856.9 190.5,856.7 191.9,856.5 193.3,856.3 194.8,856.1 196.2,855.9 197.6,855.8 199,855.6 200.4,855.5 201.8,855.3 203.2,855.2 204.6,855 206,854.9 207.4,854.7 208.8,854.6 210.2,854.5 211.6,854.4 213.1,854.2 214.5,854.1 215.9,854 217.3,853.9 218.7,853.8 220.1,853.7 221.5,853.6 222.9,853.5 224.3,853.3 225.7,853.2 227.1,853.1 228.5,853 230,852.9 231.4,852.8 232.8,852.7 234.2,852.6 235.6,852.5 237,852.4 238.4,852.3 239.8,852.2 241.2,852.1 242.6,851.9 244,851.8 245.4,851.7 246.8,851.6 248.3,851.5 249.7,851.4 251.1,851.3 252.5,851.1 253.9,851 255.3,850.9 256.7,850.8 258.1,850.7 259.5,850.6 260.9,850.5 262.3,850.4 263.7,850.2 265.2,850.1 266.6,850 268,849.9 269.4,849.8 270.8,849.7 272.2,849.6 273.6,849.5 275,849.4 276.4,849.3 277.8,849.1 279.2,849 280.6,848.9 282,848.8 283.5,848.7 284.9,848.6 286.3,848.5 287.7,848.4 289.1,848.3 290.5,848.2 291.9,848.1 293.3,848 294.7,847.9 296.1,847.9 297.5,847.8 298.9,847.7 300.4,847.6 301.8,847.5 303.2,847.4 304.6,847.3 306,847.2 307.4,847.2 308.8,847.1 310.2,847 311.6,846.9 313,846.8 314.4,846.7 315.8,846.7 317.2,846.6 318.7,846.5 320.1,846.4 321.5,846.4 322.9,846.3 324.3,846.2 325.7,846.1 327.1,846 328.5,846 329.9,845.9 331.3,845.8 332.7,845.8 334.1,845.7 335.6,845.6 337,845.5 338.4,845.5 339.8,845.4 341.2,845.3 342.6,845.2 344,845.2 345.4,845.1 346.8,845 348.2,845 349.6,844.9 351,844.8 352.4,844.8 353.9,844.7 355.3,844.6 356.7,844.5 358.1,844.5 359.5,844.4 360.9,844.3 362.3,844.3 363.7,844.2 365.1,844.1 366.5,844.1 367.9,844 369.3,843.9 370.8,843.9 372.2,843.8 373.6,843.7 375,843.6 376.4,843.6 377.8,843.5 379.2,843.4 380.6,843.4 382,843.3 383.4,843.2 384.8,843.2 386.2,843.1 387.6,843 389.1,842.9 390.5,842.9 391.9,842.8 393.3,842.7 394.7,842.7 396.1,842.6 397.5,842.5 398.9,842.4 400.3,842.4 401.7,842.3 403.1,842.2 404.5,842.2 406,842.1 407.4,842 408.8,841.9 410.2,841.9 411.6,841.8 413,841.7 414.4,841.7 415.8,841.6 417.2,841.5 418.6,841.5 420,841.4 421.4,841.3 422.8,841.2 424.3,841.2 425.7,841.1 427.1,841 428.5,841 429.9,840.9 431.3,840.8 432.7,840.8 434.1,840.7 435.5,840.6 436.9,840.6 438.3,840.5 439.7,840.4 441.2,840.4 442.6,840.3 444,840.2 445.4,840.1 446.8,840.1 448.2,840 449.6,840" fill="none" stroke="#FF00FF" stroke-width="1.2"/>
<path d="M93.3 942.4a4.3 4.3 0 1 0 8.6 0a4.3 4.3 0 1 0 -8.6 0M94.7 940.7a4.3 4.3 0 1 0 8.6 0a4.3 4.3 0 1 0 -8.6 0M96.1 938.4a4.3 4.3 0 1 0 8.6 0a4.3 4.3 0 1 0 -8.6 0M97.5 935.9a4.3 4.3 0 1 0 8.6 0a4.3 4.3 0 1 0 -8.6 0M98.9 933.3a4.3 4.3 0 1 0 8.6 0a4.3 4.3 0 1 0 -8.6 0M100.3 930.6a4.3 4.3 0 1 0 8.6 0a4.3 4.3 0 1 0 -8.6 0M101.7 927.9a4.3 4.3 0 1 0 8.6 0a4.3 4.3 0 1 0 -8.6 0M103.2 925.1a4.3 4.3 0 1 0 8.6 0a4.3 4.3 0 1 0 -8.6 0M104.6 922.4a4.3 4.3 0 1 0 8.6 0a4.3 4.3 0 1 0 -8.6 0M106 919.7a4.3 4.3 0 1 0 8.6 0a4.3 4.3 0 1 0 -8.6 0M107.4 917a4.3 4.3 0 1 0 8.6 0a4.3 4.3 0 1 0 -8.6 0M108.8 914.5a4.3 4.3 0 1 0 8.6 0a4.3 4.3 0 1 0 -8.6 0M110.2 912.1a4.3 4.3 0 1 0 8.6 0a4.3 4.3 0 1 0 -8.6 0M111.6 909.7a4.3 4.3 0 1 0 8.6 0a4.3 4.3 0 1 0 -8.6 0M113 907.3a4.3 4.3 0 1 0 8.6 0a4.3 4.3 0 1 0 -8.6 0M114.4 905a4.3 4.3 0 1 0 8.6 0a4.3 4.3 0 1 0 -8.6 0M115.8 902.6a4.3 4.3 0 1 0 8.6 0a4.3 4.3 0 1 0 -8.6 0M117.2 900.2a4.3 4.3 0 1 0 8.6 0a4.3 4.3 0 1 0 -8.6 0M118.6 897.9a4.3 4.3 0 1 0 8.6 0a4.3 4.3 0 1 0 -8.6 0M120.1 895.5a4.3 4.3 0 1 0 8.6 0a4.3 4.3 0 1 0 -8.6 0M121.5 893.2a4.3 4.3 0 1 0 8.6 0a4.3 4.3 0 1 0 -8.6 0M122.9 891a4.3 4.3 0 1 0 8.6 0a4.3 4.3 0 1 0 -8.6 0M124.3 888.8a4.3 4.3 0 1 0 8.6 0a4.3 4.3 0 1 0 -8.6 0M125.7 886.7a4.3 4.3 0 1 0 8.6 0a4.3 4.3 0 1 0 -8.6 0M127.1 884.7a4.3 4.3 0 1 0 8.6 0a4.3 4.3 0 1 0 -8.6 0M128.5 882.7a4.3 4.3 0 1 0 8.6 0a4.3 4.3 0 1 0 -8.6 0M129.9 880.8a4.3 4.3 0 1 0 8.6 0a4.3 4.3 0 1 0 -8.6 0M131.3 878.8a4.3 4.3 0 1 0 8.6 0a4.3 4.3 0 1 0 -8.6 0M132.7 877a4.3 4.3 0 1 0 8.6 0a4.3 4.3 0 1 0 -8.6 0M134.1 875.4a4.3 4.3 0 1 0 8.6 0a4.3 4.3 0 1 0 -8.6 0M135.5 873.9a4.3 4.3 0 1 0 8.6 0a4.3 4.3 0 1 0 -8.6 0M136.9 872.6a4.3 4.3 0 1 0 8.6 0a4.3 4.3 0 1 0 -8.6 0M138.4 871.4a4.3 4.3 0 1 0 8.6 0a4.3 4.3 0 1 0 -8.6 0M139.8 870.4a4.3 4.3 0 1 0 8.6 0a4.3 4.3 0 1 0 -8.6 0M141.2 869.4a4.3 4.3 0 1 0 8.6 0a4.3 4.3 0 1 0 -8.6 0M142.6 868.5a4.3 4.3 0 1 0 8.6 0a4.3 4.3 0 1 0 -8.6 0M144 867.7a4.3 4.3 0 1 0 8.6 0a4.3 4.3 0 1 0 -8.6 0M145.4 866.9a4.3 4.3 0 1 0 8.6 0a4.3 4.3 0 1 0 -8.6 0M146.8 866.2a4.3 4.3 0 1 0 8.6 0a4.3 4.3 0 1 0 -8.6 0M148.2 865.6a4.3 4.3 0 1 0 8.6 0a4.3 4.3 0 1 0 -8.6 0M149.6 865a4.3 4.3 0 1 0 8.6 0a4.3 4.3 0 1 0 -8.6 0M151 864.4a4.3 4.3 0 1 0 8.6 0a4.3 4.3 0 1 0 -8.6 0M152.4 863.9a4.3 4.3 0 1 0 8.6 0a4.3 4.3 0 1 0 -8.6 0M153.8 863.4a4.3 4.3 0 1 0 8.6 0a4.3 4.3 0 1 0 -8.6 0M155.3 863a4.3 4.3 0 1 0 8.6 0a4.3 4.3 0 1 0 -8.6 0M156.7 862.5a4.3 4.3 0 1 0 8.6 0a4.3 4.3 0 1 0 -8.6 0M158.1 862.1a4.3 4.3 0 1 0 8.6 0a4.3 4.3 0 1 0 -8.6 0M159.5 861.8a4.3 4.3 0 1 0 8.6 0a4.3 4.3 0 1 0 -8.6 0M160.9 861.4a4.3 4.3 0 1 0 8.6 0a4.3 4.3 0 1 0 -8.6 0M162.3 861.1a4.3 4.3 0 1 0 8.6 0a4.3 4.3 0 1 0 -8.6 0M163.7 860.7a4.3 4.3 0 1 0 8.6 0a4.3 4.3 0 1 0 -8.6 0M165.1 860.4a4.3 4.3 0 1 0 8.6 0a4.3 4.3 0 1 0 -8.6 0M166.5 860.1a4.3 4.3 0 1 0 8.6 0a4.3 4.3 0 1 0 -8.6 0M167.9 859.8a4.3 4.3 0 1 0 8.6 0a4.3 4.3 0 1 0 -8.6 0M169.3 859.5a4.3 4.3 0 1 0 8.6 0a4.3 4.3 0 1 0 -8.6 0M170.7 859.3a4.3 4.3 0 1 0 8.6 0a4.3 4.3 0 1 0 -8.6 0M172.1 859a4.3 4.3 0 1 0 8.6 0a4.3 4.3 0 1 0 -8.6 0M173.6 858.8a4.3 4.3 0 1 0 8.6 0a4.3 4.3 0 1 0 -8.6 0M175 858.5a4.3 4.3 0 1 0 8.6 0a4.3 4.3 0 1 0 -8.6 0M176.4 858.3a4.3 4.3 0 1 0 8.6 0a4.3 4.3 0 1 0 -8.6 0M177.8 858a4.3 4.3 0 1 0 8.6 0a4.3 4.3 0 1 0 -8.6 0M179.2 857.8a4.3 4.3 0 1 0 8.6 0a4.3 4.3 0 1 0 -8.6 0M180.6 857.6a4.3 4.3 0 1 0 8.6 0a4.3 4.3 0 1 0 -8.6 0M182 857.4a4.3 4.3 0 1 0 8.6 0a4.3 4.3 0 1 0 -8.6 0M183.4 857.1a4.3 4.3 0 1 0 8.6 0a4.3 4.3 0 1 0 -8.6 0M184.8 856.9a4.3 4.3 0 1 0 8.6 0a4.3 4.3 0 1 0 -8.6 0M186.2 856.7a4.3 4.3 0 1 0 8.6 0a4.3 4.3 0 1 0 -8.6 0M187.6 856.5a4.3 4.3 0 1 0 8.6 0a4.3 4.3 0 1 0 -8.6 0M189 856.3a4.3 4.3 0 1 0 8.6 0a4.3 4.3 0 1 0 -8.6 0M190.5 856.1a4.3 4.3 0 1 0 8.6 0a4.3 4.3 0 1 0 -8.6 0M191.9 855.9a4.3 4.3 0 1 0 8.6 0a4.3 4.3 0 1 0 -8.6 0M193.3 855.8a4.3 4.3 0 1 0 8.6 0a4.3 4.3 0 1 0 -8.6 0M194.7 855.6a4.3 4.3 0 1 0 8.6 0a4.3 4.3 0 1 0 -8.6 0M196.1 855.5a4.3 4.3 0 1 0 8.6 0a4.3 4.3 0 1 0 -8.6 0M197.5 855.3a4.3 4.3 0 1 0 8.6 0a4.3 4.3 0 1 0 -8.6 0M198.9 855.2a4.3 4.3 0 1 0 8.6 0a4.3 4.3 0 1 0 -8.6 0M200.3 855a4.3 4.3 0 1 0 8.6 0a4.3 4.3 0 1 0 -8.6 0M201.7 854.9a4.3 4.3 0 1 0 8.6 0a4.3 4.3 0 1 0 -8.6 0M203.1 854.7a4.3 4.3 0 1 0 8.6 0a4.3 4.3 0 1 0 -8.6 0M204.5 854.6a4.3 4.3 0 1 0 8.6 0a4.3 4.3 0 1 0 -8.6 0M205.9 854.5a4.3 4.3 0 1 0 8.6 0a4.3 4.3 0 1 0 -8.6 0M207.3 854.4a4.3 4.3 0 1 0 8.6 0a4.3 4.3 0 1 0 -8.6 0M208.8 854.2a4.3 4.3 0 1 0 8.6 0a4.3 4.3 0 1 0 -8.6 0M210.2 854.1a4.3 4.3 0 1 0 8.6 0a4.3 4.3 0 1 0 -8.6 0M211.6 854a4.3 4.3 0 1 0 8.6 0a4.3 4.3 0 1 0 -8.6 0M213 853.9a4.3 4.3 0 1 0 8.6 0a4.3 4.3 0 1 0 -8.6 0M214.4 853.8a4.3 4.3 0 1 0 8.6 0a4.3 4.3 0 1 0 -8.6 0M215.8 853.7a4.3 4.3 0 1 0 8.6 0a4.3 4.3 0 1 0 -8.6 0M217.2 853.6a4.3 4.3 0 1 0 8.6 0a4.3 4.3 0 1 0 -8.6 0M218.6 853.5a4.3 4.3 0 1 0 8.6 0a4.3 4.3 0 1 0 -8.6 0M220 853.3a4.3 4.3 0 1 0 8.6 0a4.3 4.3 0 1 0 -8.6 0M221.4 853.2a4.3 4.3 0 1 0 8.6 0a4.3 4.3 0 1 0 -8.6 0M222.8 853.1a4.3 4.3 0 1 0 8.6 0a4.3 4.3 0 1 0 -8.6 0M224.2 853a4.3 4.3 0 1 0 8.6 0a4.3 4.3 0 1 0 -8.6 0M225.7 852.9a4.3 4.3 0 1 0 8.6 0a4.3 4.3 0 1 0 -8.6 0M227.1 852.8a4.3 4.3 0 1 0 8.6 0a4.3 4.3 0 1 0 -8.6 0M228.5 852.7a4.3 4.3 0 1 0 8.6 0a4.3 4.3 0 1 0 -8.6 0M229.9 852.6a4.3 4.3 0 1 0 8.6 0a4.3 4.3 0 1 0 -8.6 0M231.3 852.5a4.3 4.3 0 1 0 8.6 0a4.3 4.3 0 1 0 -8.6 0M232.7 852.4a4.3 4.3 0 1 0 8.6 0a4.3 4.3 0 1 0 -8.6 0M234.1 852.3a4.3 4.3 0 1 0 8.6 0a4.3 4.3 0 1 0 -8.6 0M235.5 852.2a4.3 4.3 0 1 0 8.6 0a4.3 4.3 0 1 0 -8.6 0M236.9 852.1a4.3 4.3 0 1 0 8.6 0a4.3 4.3 0 1 0 -8.6 0M238.3 851.9a4.3 4.3 0 1 0 8.6 0a4.3 4.3 0 1 0 -8.6 0M239.7 851.8a4.3 4.3 0 1 0 8.6 0a4.3 4.3 0 1 0 -8.6 0M241.1 851.7a4.3 4.3 0 1 0 8.6 0a4.3 4.3 0 1 0 -8.6 0M242.5 851.6a4.3 4.3 0 1 0 8.6 0a4.3 4.3 0 1 0 -8.6 0M244 851.5a4.3 4.3 0 1 0 8.6 0a4.3 4.3 0 1 0 -8.6 0M245.4 851.4a4.3 4.3 0 1 0 8.6 0a4.3 4.3 0 1 0 -8.6 0M246.8 851.3a4.3 4.3 0 1 0 8.6 0a4.3 4.3 0 1 0 -8.6 0M248.2 851.1a4.3 4.3 0 1 0 8.6 0a4.3 4.3 0 1 0 -8.6 0M249.6 851a4.3 4.3 0 1 0 8.6 0a4.3 4.3 0 1 0 -8.6 0M251 850.9a4.3 4.3 0 1 0 8.6 0a4.3 4.3 0 1 0 -8.6 0M252.4 850.8a4.3 4.3 0 1 0 8.6 0a4.3 4.3 0 1 0 -8.6 0M253.8 850.7a4.3 4.3 0 1 0 8.6 0a4.3 4.3 0 1 0 -8.6 0M255.2 850.6a4.3 4.3 0 1 0 8.6 0a4.3 4.3 0 1 0 -8.6 0M256.6 850.5a4.3 4.3 0 1 0 8.6 0a4.3 4.3 0 1 0 -8.6 0M258 850.4a4.3 4.3 0 1 0 8.6 0a4.3 4.3 0 1 0 -8.6 0M259.4 850.2a4.3 4.3 0 1 0 8.6 0a4.3 4.3 0 1 0 -8.6 0M260.9 850.1a4.3 4.3 0 1 0 8.6 0a4.3 4.3 0 1 0 -8.6 0M262.3 850a4.3 4.3 0 1 0 8.6 0a4.3 4.3 0 1 0 -8.6 0M263.7 849.9a4.3 4.3 0 1 0 8.6 0a4.3 4.3 0 1 0 -8.6 0M265.1 849.8a4.3 4.3 0 1 0 8.6 0a4.3 4.3 0 1 0 -8.6 0M266.5 849.7a4.3 4.3 0 1 0 8.6 0a4.3 4.3 0 1 0 -8.6 0M267.9 849.6a4.3 4.3 0 1 0 8.6 0a4.3 4.3 0 1 0 -8.6 0M269.3 849.5a4.3 4.3 0 1 0 8.6 0a4.3 4.3 0 1 0 -8.6 0M270.7 849.4a4.3 4.3 0 1 0 8.6 0a4.3 4.3 0 1 0 -8.6 0M272.1 849.3a4.3 4.3 0 1 0 8.6 0a4.3 4.3 0 1 0 -8.6 0M273.5 849.1a4.3 4.3 0 1 0 8.6 0a4.3 4.3 0 1 0 -8.6 0M274.9 849a4.3 4.3 0 1 0 8.6 0a4.3 4.3 0 1 0 -8.6 0M276.3 848.9a4.3 4.3 0 1 0 8.6 0a4.3 4.3 0 1 0 -8.6 0M277.7 848.8a4.3 4.3 0 1 0 8.6 0a4.3 4.3 0 1 0 -8.6 0M279.2 848.7a4.3 4.3 0 1 0 8.6 0a4.3 4.3 0 1 0 -8.6 0M280.6 848.6a4.3 4.3 0 1 0 8.6 0a4.3 4.3 0 1 0 -8.6 0M282 848.5a4.3 4.3 0 1 0 8.6 0a4.3 4.3 0 1 0 -8.6 0M283.4 848.4a4.3 4.3 0 1 0 8.6 0a4.3 4.3 0 1 0 -8.6 0M284.8 848.3a4.3 4.3 0 1 0 8.6 0a4.3 4.3 0 1 0 -8.6 0M286.2 848.2a4.3 4.3 0 1 0 8.6 0a4.3 4.3 0 1 0 -8.6 0M287.6 848.1a4.3 4.3 0 1 0 8.6 0a4.3 4.3 0 1 0 -8.6 0M289 848a4.3 4.3 0 1 0 8.6 0a4.3 4.3 0 1 0 -8.6 0M290.4 847.9a4.3 4.3 0 1 0 8.6 0a4.3 4.3 0 1 0 -8.6 0M291.8 847.9a4.3 4.3 0 1 0 8.6 0a4.3 4.3 0 1 0 -8.6 0M293.2 847.8a4.3 4.3 0 1 0 8.6 0a4.3 4.3 0 1 0 -8.6 0M294.6 847.7a4.3 4.3 0 1 0 8.6 0a4.3 4.3 0 1 0 -8.6 0M296.1 847.6a4.3 4.3 0 1 0 8.6 0a4.3 4.3 0 1 0 -8.6 0M297.5 847.5a4.3 4.3 0 1 0 8.6 0a4.3 4.3 0 1 0 -8.6 0M298.9 847.4a4.3 4.3 0 1 0 8.6 0a4.3 4.3 0 1 0 -8.6 0M300.3 847.3a4.3 4.3 0 1 0 8.6 0a4.3 4.3 0 1 0 -8.6 0M301.7 847.2a4.3 4.3 0 1 0 8.6 0a4.3 4.3 0 1 0 -8.6 0M303.1 847.2a4.3 4.3 0 1 0 8.6 0a4.3 4.3 0 1 0 -8.6 0M304.5 847.1a4.3 4.3 0 1 0 8.6 0a4.3 4.3 0 1 0 -8.6 0M305.9 847a4.3 4.3 0 1 0 8.6 0a4.3 4.3 0 1 0 -8.6 0M307.3 846.9a4.3 4.3 0 1 0 8.6 0a4.3 4.3 0 1 0 -8.6 0M308.7 846.8a4.3 4.3 0 1 0 8.6 0a4.3 4.3 0 1 0 -8.6 0M310.1 846.7a4.3 4.3 0 1 0 8.6 0a4.3 4.3 0 1 0 -8.6 0M311.5 846.7a4.3 4.3 0 1 0 8.6 0a4.3 4.3 0 1 0 -8.6 0M312.9 846.6a4.3 4.3 0 1 0 8.6 0a4.3 4.3 0 1 0 -8.6 0M314.4 846.5a4.3 4.3 0 1 0 8.6 0a4.3 4.3 0 1 0 -8.6 0M315.8 846.4a4.3 4.3 0 1 0 8.6 0a4.3 4.3 0 1 0 -8.6 0M317.2 846.4a4.3 4.3 0 1 0 8.6 0a4.3 4.3 0 1 0 -8.6 0M318.6 846.3a4.3 4.3 0 1 0 8.6 0a4.3 4.3 0 1 0 -8.6 0M320 846.2a4.3 4.3 0 1 0 8.6 0a4.3 4.3 0 1 0 -8.6 0M321.4 846.1a4.3 4.3 0 1 0 8.6 0a4.3 4.3 0 1 0 -8.6 0M322.8 846a4.3 4.3 0 1 0 8.6 0a4.3 4.3 0 1 0 -8.6 0M324.2 846a4.3 4.3 0 1 0 8.6 0a4.3 4.3 0 1 0 -8.6 0M325.6 845.9a4.3 4.3 0 1 0 8.6 0a4.3 4.3 0 1 0 -8.6 0M327 845.8a4.3 4.3 0 1 0 8.6 0a4.3 4.3 0 1 0 -8.6 0M328.4 845.8a4.3 4.3 0 1 0 8.6 0a4.3 4.3 0 1 0 -8.6 0M329.8 845.7a4.3 4.3 0 1 0 8.6 0a4.3 4.3 0 1 0 -8.6 0M331.3 845.6a4.3 4.3 0 1 0 8.6 0a4.3 4.3 0 1 0 -8.6 0M332.7 845.5a4.3 4.3 0 1 0 8.6 0a4.3 4.3 0 1 0 -8.6 0M334.1 845.5a4.3 4.3 0 1 0 8.6 0a4.3 4.3 0 1 0 -8.6 0M335.5 845.4a4.3 4.3 0 1 0 8.6 0a4.3 4.3 0 1 0 -8.6 0M336.9 845.3a4.3 4.3 0 1 0 8.6 0a4.3 4.3 0 1 0 -8.6 0M338.3 845.2a4.3 4.3 0 1 0 8.6 0a4.3 4.3 0 1 0 -8.6 0M339.7 845.2a4.3 4.3 0 1 0 8.6 0a4.3 4.3 0 1 0 -8.6 0M341.1 845.1a4.3 4.3 0 1 0 8.6 0a4.3 4.3 0 1 0 -8.6 0M342.5 845a4.3 4.3 0 1 0 8.6 0a4.3 4.3 0 1 0 -8.6 0M343.9 845a4.3 4.3 0 1 0 8.6 0a4.3 4.3 0 1 0 -8.6 0M345.3 844.9a4.3 4.3 0 1 0 8.6 0a4.3 4.3 0 1 0 -8.6 0M346.7 844.8a4.3 4.3 0 1 0 8.6 0a4.3 4.3 0 1 0 -8.6 0M348.1 844.8a4.3 4.3 0 1 0 8.6 0a4.3 4.3 0 1 0 -8.6 0M349.6 844.7a4.3 4.3 0 1 0 8.6 0a4.3 4.3 0 1 0 -8.6 0M351 844.6a4.3 4.3 0 1 0 8.6 0a4.3 4.3 0 1 0 -8.6 0M352.4 844.5a4.3 4.3 0 1 0 8.6 0a4.3 4.3 0 1 0 -8.6 0M353.8 844.5a4.3 4.3 0 1 0 8.6 0a4.3 4.3 0 1 0 -8.6 0M355.2 844.4a4.3 4.3 0 1 0 8.6 0a4.3 4.3 0 1 0 -8.6 0M356.6 844.3a4.3 4.3 0 1 0 8.6 0a4.3 4.3 0 1 0 -8.6 0M358 844.3a4.3 4.3 0 1 0 8.6 0a4.3 4.3 0 1 0 -8.6 0M359.4 844.2a4.3 4.3 0 1 0 8.6 0a4.3 4.3 0 1 0 -8.6 0M360.8 844.1a4.3 4.3 0 1 0 8.6 0a4.3 4.3 0 1 0 -8.6 0M362.2 844.1a4.3 4.3 0 1 0 8.6 0a4.3 4.3 0 1 0 -8.6 0M363.6 844a4.3 4.3 0 1 0 8.6 0a4.3 4.3 0 1 0 -8.6 0M365 843.9a4.3 4.3 0 1 0 8.6 0a4.3 4.3 0 1 0 -8.6 0M366.5 843.9a4.3 4.3 0 1 0 8.6 0a4.3 4.3 0 1 0 -8.6 0M367.9 843.8a4.3 4.3 0 1 0 8.6 0a4.3 4.3 0 1 0 -8.6 0M369.3 843.7a4.3 4.3 0 1 0 8.6 0a4.3 4.3 0 1 0 -8.6 0M370.7 843.6a4.3 4.3 0 1 0 8.6 0a4.3 4.3 0 1 0 -8.6 0M372.1 843.6a4.3 4.3 0 1 0 8.6 0a4.3 4.3 0 1 0 -8.6 0M373.5 843.5a4.3 4.3 0 1 0 8.6 0a4.3 4.3 0 1 0 -8.6 0M374.9 843.4a4.3 4.3 0 1 0 8.6 0a4.3 4.3 0 1 0 -8.6 0M376.3 843.4a4.3 4.3 0 1 0 8.6 0a4.3 4.3 0 1 0 -8.6 0M377.7 843.3a4.3 4.3 0 1 0 8.6 0a4.3 4.3 0 1 0 -8.6 0M379.1 843.2a4.3 4.3 0 1 0 8.6 0a4.3 4.3 0 1 0 -8.6 0M380.5 843.2a4.3 4.3 0 1 0 8.6 0a4.3 4.3 0 1 0 -8.6 0M381.9 843.1a4.3 4.3 0 1 0 8.6 0a4.3 4.3 0 1 0 -8.6 0M383.3 843a4.3 4.3 0 1 0 8.6 0a4.3 4.3 0 1 0 -8.6 0M384.8 842.9a4.3 4.3 0 1 0 8.6 0a4.3 4.3 0 1 0 -8.6 0M386.2 842.9a4.3 4.3 0 1 0 8.6 0a4.3 4.3 0 1 0 -8.6 0M387.6 842.8a4.3 4.3 0 1 0 8.6 0a4.3 4.3 0 1 0 -8.6 0M389 842.7a4.3 4.3 0 1 0 8.6 0a4.3 4.3 0 1 0 -8.6 0M390.4 842.7a4.3 4.3 0 1 0 8.6 0a4.3 4.3 0 1 0 -8.6 0M391.8 842.6a4.3 4.3 0 1 0 8.6 0a4.3 4.3 0 1 0 -8.6 0M393.2 842.5a4.3 4.3 0 1 0 8.6 0a4.3 4.3 0 1 0 -8.6 0M394.6 842.4a4.3 4.3 0 1 0 8.6 0a4.3 4.3 0 1 0 -8.6 0M396 842.4a4.3 4.3 0 1 0 8.6 0a4.3 4.3 0 1 0 -8.6 0M397.4 842.3a4.3 4.3 0 1 0 8.6 0a4.3 4.3 0 1 0 -8.6 0M398.8 842.2a4.3 4.3 0 1 0 8.6 0a4.3 4.3 0 1 0 -8.6 0M400.2 842.2a4.3 4.3 0 1 0 8.6 0a4.3 4.3 0 1 0 -8.6 0M401.7 842.1a4.3 4.3 0 1 0 8.6 0a4.3 4.3 0 1 0 -8.6 0M403.1 842a4.3 4.3 0 1 0 8.6 0a4.3 4.3 0 1 0 -8.6 0M404.5 841.9a4.3 4.3 0 1 0 8.6 0a4.3 4.3 0 1 0 -8.6 0M405.9 841.9a4.3 4.3 0 1 0 8.6 0a4.3 4.3 0 1 0 -8.6 0M407.3 841.8a4.3 4.3 0 1 0 8.6 0a4.3 4.3 0 1 0 -8.6 0M408.7 841.7a4.3 4.3 0 1 0 8.6 0a4.3 4.3 0 1 0 -8.6 0M410.1 841.7a4.3 4.3 0 1 0 8.6 0a4.3 4.3 0 1 0 -8.6 0M411.5 841.6a4.3 4.3 0 1 0 8.6 0a4.3 4.3 0 1 0 -8.6 0M412.9 841.5a4.3 4.3 0 1 0 8.6 0a4.3 4.3 0 1 0 -8.6 0M414.3 841.5a4.3 4.3 0 1 0 8.6 0a4.3 4.3 0 1 0 -8.6 0M415.7 841.4a4.3 4.3 0 1 0 8.6 0a4.3 4.3 0 1 0 -8.6 0M417.1 841.3a4.3 4.3 0 1 0 8.6 0a4.3 4.3 0 1 0 -8.6 0M418.5 841.2a4.3 4.3 0 1 0 8.6 0a4.3 4.3 0 1 0 -8.6 0M420 841.2a4.3 4.3 0 1 0 8.6 0a4.3 4.3 0 1 0 -8.6 0M421.4 841.1a4.3 4.3 0 1 0 8.6 0a4.3 4.3 0 1 0 -8.6 0M422.8 841a4.3 4.3 0 1 0 8.6 0a4.3 4.3 0 1 0 -8.6 0M424.2 841a4.3 4.3 0 1 0 8.6 0a4.3 4.3 0 1 0 -8.6 0M425.6 840.9a4.3 4.3 0 1 0 8.6 0a4.3 4.3 0 1 0 -8.6 0M427 840.8a4.3 4.3 0 1 0 8.6 0a4.3 4.3 0 1 0 -8.6 0M428.4 840.8a4.3 4.3 0 1 0 8.6 0a4.3 4.3 0 1 0 -8.6 0M429.8 840.7a4.3 4.3 0 1 0 8.6 0a4.3 4.3 0 1 0 -8.6 0M431.2 840.6a4.3 4.3 0 1 0 8.6 0a4.3 4.3 0 1 0 -8.6 0M432.6 840.6a4.3 4.3 0 1 0 8.6 0a4.3 4.3 0 1 0 -8.6 0M434 840.5a4.3 4.3 0 1 0 8.6 0a4.3 4.3 0 1 0 -8.6 0M435.4 840.4a4.3 4.3 0 1 0 8.6 0a4.3 4.3 0 1 0 -8.6 0M436.9 840.4a4.3 4.3 0 1 0 8.6 0a4.3 4.3 0 1 0 -8.6 0M438.3 840.3a4.3 4.3 0 1 0 8.6 0a4.3 4.3 0 1 0 -8.6 0M439.7 840.2a4.3 4.3 0 1 0 8.6 0a4.3 4.3 0 1 0 -8.6 0M441.1 840.1a4.3 4.3 0 1 0 8.6 0a4.3 4.3 0 1 0 -8.6 0M442.5 840.1a4.3 4.3 0 1 0 8.6 0a4.3 4.3 0 1 0 -8.6 0M443.9 840a4.3 4.3 0 1 0 8.6 0a4.3 4.3 0 1 0 -8.6 0M445.3 840a4.3 4.3 0 1 0 8.6 0a4.3 4.3 0 1 0 -8.6 0" fill="#FF00FF"/>
<polyline points="97.6,941.8 99,939.4 100.4,936.1 101.8,932.5 103.2,928.8 104.6,925.1 106,921.4 107.5,917.7 108.9,914 110.3,910.3 111.7,906.6 113.1,902.9 114.5,899.2 115.9,895.6 117.3,891.9 118.7,888.4 120.1,885 121.5,881.7 122.9,878.5 124.4,875.4 125.8,872.4 127.2,869.5 128.6,866.6 130,863.9 131.4,861.2 132.8,858.7 134.2,856.3 135.6,854 137,851.9 138.4,849.9 139.8,847.9 141.2,845.8 142.7,843.6 144.1,841.2 145.5,838.9 146.9,836.8 148.3,834.9 149.7,833.1 151.1,831.3 152.5,829.7 153.9,828.1 155.3,826.6 156.7,825.2 158.1,823.8 159.6,822.6 161,821.5 162.4,820.4 163.8,819.5 165.2,818.6 166.6,817.8 168,817 169.4,816.3 170.8,815.6 172.2,815 173.6,814.4 175,813.9 176.4,813.4 177.9,812.9 179.3,812.4 180.7,811.9 182.1,811.5 183.5,811.1 184.9,810.7 186.3,810.3 187.7,810 189.1,809.7 190.5,809.4 191.9,809.1 193.3,808.8 194.8,808.6 196.2,808.3 197.6,808.1 199,807.8 200.4,807.6 201.8,807.4 203.2,807.1 204.6,806.9 206,806.7 207.4,806.5 208.8,806.3 210.2,806.1 211.6,805.8 213.1,805.6 214.5,805.5 215.9,805.3 217.3,805.1 218.7,804.9 220.1,804.8 221.5,804.6 222.9,804.5 224.3,804.3 225.7,804.2 227.1,804.1 228.5,803.9 230,803.8 231.4,803.7 232.8,803.6 234.2,803.4 235.6,803.3 237,803.2 238.4,803.1 239.8,802.9 241.2,802.8 242.6,802.7 244,802.5 245.4,802.4 246.8,802.3 248.3,802.2 249.7,802 251.1,801.9 252.5,801.8 253.9,801.6 255.3,801.5 256.7,801.4 258.1,801.2 259.5,801.1 260.9,801 262.3,800.8 263.7,800.7 265.2,800.6 266.6,800.4 268,800.3 269.4,800.2 270.8,800 272.2,799.9 273.6,799.8 275,799.6 276.4,799.5 277.8,799.4 279.2,799.3 280.6,799.1 282,799 283.5,798.9 284.9,798.8 286.3,798.7 287.7,798.5 289.1,798.4 290.5,798.3 291.9,798.2 293.3,798.1 294.7,798 296.1,797.9 297.5,797.8 298.9,797.7 300.4,797.6 301.8,797.5 303.2,797.4 304.6,797.3 306,797.2 307.4,797.1 308.8,797 310.2,796.9 311.6,796.8 313,796.8 314.4,796.7 315.8,796.6 317.2,796.5 318.7,796.4 320.1,796.3 321.5,796.2 322.9,796.1 324.3,796.1 325.7,796 327.1,795.9 328.5,795.8 329.9,795.7 331.3,795.7 332.7,795.6 334.1,795.5 335.6,795.4 337,795.3 338.4,795.3 339.8,795.2 341.2,795.1 342.6,795 344,794.9 345.4,794.9 346.8,794.8 348.2,794.7 349.6,794.6 351,794.6 352.4,794.5 353.9,794.4 355.3,794.3 356.7,794.3 358.1,794.2 359.5,794.1 360.9,794.1 362.3,794 363.7,793.9 365.1,793.8 366.5,793.8 367.9,793.7 369.3,793.6 370.8,793.5 372.2,793.5 373.6,793.4 375,793.3 376.4,793.3 377.8,793.2 379.2,793.1 380.6,793 382,793 383.4,792.9 384.8,792.8 386.2,792.7 387.6,792.7 389.1,792.6 390.5,792.5 391.9,792.4 393.3,792.4 394.7,792.3 396.1,792.2 397.5,792.2 398.9,792.1 400.3,792 401.7,791.9 403.1,791.9 404.5,791.8 406,791.7 407.4,791.7 408.8,791.6 410.2,791.5 411.6,791.4 413,791.4 414.4,791.3 415.8,791.2 417.2,791.2 418.6,791.1 420,791 421.4,790.9 422.8,790.9 424.3,790.8 425.7,790.7 427.1,790.7 428.5,790.6 429.9,790.5 431.3,790.5 432.7,790.4 434.1,790.3 435.5,790.3 436.9,790.2 438.3,790.1 439.7,790.1 441.2,790 442.6,789.9 444,789.9 445.4,789.8 446.8,789.7 448.2,789.7 449.6,789.6" fill="none" stroke="#FF00FF" stroke-width="1.2"/>
<path d="M93.4 937.6h8.4v8.4h-8.4zM94.8 935.2h8.4v8.4h-8.4zM96.2 931.9h8.4v8.4h-8.4zM97.6 928.3h8.4v8.4h-8.4zM99 924.6h8.4v8.4h-8.4zM100.4 920.9h8.4v8.4h-8.4zM101.8 917.2h8.4v8.4h-8.4zM103.3 913.5h8.4v8.4h-8.4zM104.7 909.8h8.4v8.4h-8.4zM106.1 906.1h8.4v8.4h-8.4zM107.5 902.4h8.4v8.4h-8.4zM108.9 898.7h8.4v8.4h-8.4zM110.3 895h8.4v8.4h-8.4zM111.7 891.4h8.4v8.4h-8.4zM113.1 887.7h8.4v8.4h-8.4zM114.5 884.2h8.4v8.4h-8.4zM115.9 880.8h8.4v8.4h-8.4zM117.3 877.5h8.4v8.4h-8.4zM118.7 874.3h8.4v8.4h-8.4zM120.2 871.2h8.4v8.4h-8.4zM121.6 868.2h8.4v8.4h-8.4zM123 865.3h8.4v8.4h-8.4zM124.4 862.4h8.4v8.4h-8.4zM125.8 859.7h8.4v8.4h-8.4zM127.2 857h8.4v8.4h-8.4zM128.6 854.5h8.4v8.4h-8.4zM130 852.1h8.4v8.4h-8.4zM131.4 849.8h8.4v8.4h-8.4zM132.8 847.7h8.4v8.4h-8.4zM134.2 845.7h8.4v8.4h-8.4zM135.6 843.7h8.4v8.4h-8.4zM137 841.6h8.4v8.4h-8.4zM138.5 839.4h8.4v8.4h-8.4zM139.9 837h8.4v8.4h-8.4zM141.3 834.7h8.4v8.4h-8.4zM142.7 832.6h8.4v8.4h-8.4zM144.1 830.7h8.4v8.4h-8.4zM145.5 828.9h8.4v8.4h-8.4zM146.9 827.1h8.4v8.4h-8.4zM148.3 825.5h8.4v8.4h-8.4zM149.7 823.9h8.4v8.4h-8.4zM151.1 822.4h8.4v8.4h-8.4zM152.5 821h8.4v8.4h-8.4zM153.9 819.6h8.4v8.4h-8.4zM155.4 818.4h8.4v8.4h-8.4zM156.8 817.3h8.4v8.4h-8.4zM158.2 816.2h8.4v8.4h-8.4zM159.6 815.3h8.4v8.4h-8.4zM161 814.4h8.4v8.4h-8.4zM162.4 813.6h8.4v8.4h-8.4zM163.8 812.8h8.4v8.4h-8.4zM165.2 812.1h8.4v8.4h-8.4zM166.6 811.4h8.4v8.4h-8.4zM168 810.8h8.4v8.4h-8.4zM169.4 810.2h8.4v8.4h-8.4zM170.8 809.7h8.4v8.4h-8.4zM172.2 809.2h8.4v8.4h-8.4zM173.7 808.7h8.4v8.4h-8.4zM175.1 808.2h8.4v8.4h-8.4zM176.5 807.7h8.4v8.4h-8.4zM177.9 807.3h8.4v8.4h-8.4zM179.3 806.9h8.4v8.4h-8.4zM180.7 806.5h8.4v8.4h-8.4zM182.1 806.1h8.4v8.4h-8.4zM183.5 805.8h8.4v8.4h-8.4zM184.9 805.5h8.4v8.4h-8.4zM186.3 805.2h8.4v8.4h-8.4zM187.7 804.9h8.4v8.4h-8.4zM189.1 804.6h8.4v8.4h-8.4zM190.6 804.4h8.4v8.4h-8.4zM192 804.1h8.4v8.4h-8.4zM193.4 803.9h8.4v8.4h-8.4zM194.8 803.6h8.4v8.4h-8.4zM196.2 803.4h8.4v8.4h-8.4zM197.6 803.2h8.4v8.4h-8.4zM199 802.9h8.4v8.4h-8.4zM200.4 802.7h8.4v8.4h-8.4zM201.8 802.5h8.4v8.4h-8.4zM203.2 802.3h8.4v8.4h-8.4zM204.6 802.1h8.4v8.4h-8.4zM206 801.9h8.4v8.4h-8.4zM207.4 801.6h8.4v8.4h-8.4zM208.9 801.4h8.4v8.4h-8.4zM210.3 801.3h8.4v8.4h-8.4zM211.7 801.1h8.4v8.4h-8.4zM213.1 800.9h8.4v8.4h-8.4zM214.5 800.7h8.4v8.4h-8.4zM215.9 800.6h8.4v8.4h-8.4zM217.3 800.4h8.4v8.4h-8.4zM218.7 800.3h8.4v8.4h-8.4zM220.1 800.1h8.4v8.4h-8.4zM221.5 800h8.4v8.4h-8.4zM222.9 799.9h8.4v8.4h-8.4zM224.3 799.7h8.4v8.4h-8.4zM225.8 799.6h8.4v8.4h-8.4zM227.2 799.5h8.4v8.4h-8.4zM228.6 799.4h8.4v8.4h-8.4zM230 799.2h8.4v8.4h-8.4zM231.4 799.1h8.4v8.4h-8.4zM232.8 799h8.4v8.4h-8.4zM234.2 798.9h8.4v8.4h-8.4zM235.6 798.7h8.4v8.4h-8.4zM237 798.6h8.4v8.4h-8.4zM238.4 798.5h8.4v8.4h-8.4zM239.8 798.3h8.4v8.4h-8.4zM241.2 798.2h8.4v8.4h-8.4zM242.6 798.1h8.4v8.4h-8.4zM244.1 798h8.4v8.4h-8.4zM245.5 797.8h8.4v8.4h-8.4zM246.9 797.7h8.4v8.4h-8.4zM248.3 797.6h8.4v8.4h-8.4zM249.7 797.4h8.4v8.4h-8.4zM251.1 797.3h8.4v8.4h-8.4zM252.5 797.2h8.4v8.4h-8.4zM253.9 797h8.4v8.4h-8.4zM255.3 796.9h8.4v8.4h-8.4zM256.7 796.8h8.4v8.4h-8.4zM258.1 796.6h8.4v8.4h-8.4zM259.5 796.5h8.4v8.4h-8.4zM261 796.4h8.4v8.4h-8.4zM262.4 796.2h8.4v8.4h-8.4zM263.8 796.1h8.4v8.4h-8.4zM265.2 796h8.4v8.4h-8.4zM266.6 795.8h8.4v8.4h-8.4zM268 795.7h8.4v8.4h-8.4zM269.4 795.6h8.4v8.4h-8.4zM270.8 795.4h8.4v8.4h-8.4zM272.2 795.3h8.4v8.4h-8.4zM273.6 795.2h8.4v8.4h-8.4zM275 795.1h8.4v8.4h-8.4zM276.4 794.9h8.4v8.4h-8.4zM277.8 794.8h8.4v8.4h-8.4zM279.3 794.7h8.4v8.4h-8.4zM280.7 794.6h8.4v8.4h-8.4zM282.1 794.5h8.4v8.4h-8.4zM283.5 794.3h8.4v8.4h-8.4zM284.9 794.2h8.4v8.4h-8.4zM286.3 794.1h8.4v8.4h-8.4zM287.7 794h8.4v8.4h-8.4zM289.1 793.9h8.4v8.4h-8.4zM290.5 793.8h8.4v8.4h-8.4zM291.9 793.7h8.4v8.4h-8.4zM293.3 793.6h8.4v8.4h-8.4zM294.7 793.5h8.4v8.4h-8.4zM296.2 793.4h8.4v8.4h-8.4zM297.6 793.3h8.4v8.4h-8.4zM299 793.2h8.4v8.4h-8.4zM300.4 793.1h8.4v8.4h-8.4zM301.8 793h8.4v8.4h-8.4zM303.2 792.9h8.4v8.4h-8.4zM304.6 792.8h8.4v8.4h-8.4zM306 792.7h8.4v8.4h-8.4zM307.4 792.6h8.4v8.4h-8.4zM308.8 792.6h8.4v8.4h-8.4zM310.2 792.5h8.4v8.4h-8.4zM311.6 792.4h8.4v8.4h-8.4zM313 792.3h8.4v8.4h-8.4zM314.5 792.2h8.4v8.4h-8.4zM315.9 792.1h8.4v8.4h-8.4zM317.3 792h8.4v8.4h-8.4zM318.7 791.9h8.4v8.4h-8.4zM320.1 791.9h8.4v8.4h-8.4zM321.5 791.8h8.4v8.4h-8.4zM322.9 791.7h8.4v8.4h-8.4zM324.3 791.6h8.4v8.4h-8.4zM325.7 791.5h8.4v8.4h-8.4zM327.1 791.5h8.4v8.4h-8.4zM328.5 791.4h8.4v8.4h-8.4zM329.9 791.3h8.4v8.4h-8.4zM331.4 791.2h8.4v8.4h-8.4zM332.8 791.1h8.4v8.4h-8.4zM334.2 791.1h8.4v8.4h-8.4zM335.6 791h8.4v8.4h-8.4zM337 790.9h8.4v8.4h-8.4zM338.4 790.8h8.4v8.4h-8.4zM339.8 790.7h8.4v8.4h-8.4zM341.2 790.7h8.4v8.4h-8.4zM342.6 790.6h8.4v8.4h-8.4zM344 790.5h8.4v8.4h-8.4zM345.4 790.4h8.4v8.4h-8.4zM346.8 790.4h8.4v8.4h-8.4zM348.2 790.3h8.4v8.4h-8.4zM349.7 790.2h8.4v8.4h-8.4zM351.1 790.1h8.4v8.4h-8.4zM352.5 790.1h8.4v8.4h-8.4zM353.9 790h8.4v8.4h-8.4zM355.3 789.9h8.4v8.4h-8.4zM356.7 789.9h8.4v8.4h-8.4zM358.1 789.8h8.4v8.4h-8.4zM359.5 789.7h8.4v8.4h-8.4zM360.9 789.6h8.4v8.4h-8.4zM362.3 789.6h8.4v8.4h-8.4zM363.7 789.5h8.4v8.4h-8.4zM365.1 789.4h8.4v8.4h-8.4zM366.6 789.3h8.4v8.4h-8.4zM368 789.3h8.4v8.4h-8.4zM369.4 789.2h8.4v8.4h-8.4zM370.8 789.1h8.4v8.4h-8.4zM372.2 789.1h8.4v8.4h-8.4zM373.6 789h8.4v8.4h-8.4zM375 788.9h8.4v8.4h-8.4zM376.4 788.8h8.4v8.4h-8.4zM377.8 788.8h8.4v8.4h-8.4zM379.2 788.7h8.4v8.4h-8.4zM380.6 788.6h8.4v8.4h-8.4zM382 788.5h8.4v8.4h-8.4zM383.4 788.5h8.4v8.4h-8.4zM384.9 788.4h8.4v8.4h-8.4zM386.3 788.3h8.4v8.4h-8.4zM387.7 788.2h8.4v8.4h-8.4zM389.1 788.2h8.4v8.4h-8.4zM390.5 788.1h8.4v8.4h-8.4zM391.9 788h8.4v8.4h-8.4zM393.3 788h8.4v8.4h-8.4zM394.7 787.9h8.4v8.4h-8.4zM396.1 787.8h8.4v8.4h-8.4zM397.5 787.7h8.4v8.4h-8.4zM398.9 787.7h8.4v8.4h-8.4zM400.3 787.6h8.4v8.4h-8.4zM401.8 787.5h8.4v8.4h-8.4zM403.2 787.5h8.4v8.4h-8.4zM404.6 787.4h8.4v8.4h-8.4zM406 787.3h8.4v8.4h-8.4zM407.4 787.2h8.4v8.4h-8.4zM408.8 787.2h8.4v8.4h-8.4zM410.2 787.1h8.4v8.4h-8.4zM411.6 787h8.4v8.4h-8.4zM413 787h8.4v8.4h-8.4zM414.4 786.9h8.4v8.4h-8.4zM415.8 786.8h8.4v8.4h-8.4zM417.2 786.7h8.4v8.4h-8.4zM418.6 786.7h8.4v8.4h-8.4zM420.1 786.6h8.4v8.4h-8.4zM421.5 786.5h8.4v8.4h-8.4zM422.9 786.5h8.4v8.4h-8.4zM424.3 786.4h8.4v8.4h-8.4zM425.7 786.3h8.4v8.4h-8.4zM427.1 786.3h8.4v8.4h-8.4zM428.5 786.2h8.4v8.4h-8.4zM429.9 786.1h8.4v8.4h-8.4zM431.3 786.1h8.4v8.4h-8.4zM432.7 786h8.4v8.4h-8.4zM434.1 785.9h8.4v8.4h-8.4zM435.5 785.9h8.4v8.4h-8.4zM437 785.8h8.4v8.4h-8.4zM438.4 785.7h8.4v8.4h-8.4zM439.8 785.7h8.4v8.4h-8.4zM441.2 785.6h8.4v8.4h-8.4zM442.6 785.5h8.4v8.4h-8.4zM444 785.5h8.4v8.4h-8.4zM445.4 785.4h8.4v8.4h-8.4z" fill="#FF00FF"/>
<polyline points="97.6,942 99,939.7 100.4,936.6 101.8,933.2 103.2,929.8 104.6,926.3 106,922.7 107.5,919.2 108.9,915.6 110.3,912.1 111.7,908.5 113.1,904.9 114.5,901.3 115.9,897.6 117.3,894 118.7,890.4 120.1,886.7 121.5,882.9 122.9,879 124.4,874.9 125.8,870.8 127.2,866.8 128.6,862.8 130,858.9 131.4,855.2 132.8,851.5 134.2,847.9 135.6,844.4 137,841 138.4,837.7 139.8,834.5 141.2,831.4 142.7,828.2 144.1,825.1 145.5,821.9 146.9,818.7 148.3,815.6 149.7,812.7 151.1,810 152.5,807.4 153.9,805 155.3,802.7 156.7,800.6 158.1,798.6 159.6,796.8 161,795.1 162.4,793.4 163.8,791.8 165.2,790.3 166.6,788.8 168,787.3 169.4,785.9 170.8,784.5 172.2,783.2 173.6,781.9 175,780.6 176.4,779.4 177.9,778.1 179.3,776.9 180.7,775.8 182.1,774.7 183.5,773.6 184.9,772.6 186.3,771.7 187.7,770.9 189.1,770.1 190.5,769.4 191.9,768.7 193.3,768.1 194.8,767.5 196.2,766.9 197.6,766.3 199,765.8 200.4,765.2 201.8,764.8 203.2,764.3 204.6,763.8 206,763.4 207.4,763 208.8,762.6 210.2,762.2 211.6,761.8 213.1,761.5 214.5,761.2 215.9,760.9 217.3,760.6 218.7,760.3 220.1,760 221.5,759.8 222.9,759.5 224.3,759.3 225.7,759.1 227.1,758.8 228.5,758.6 230,758.4 231.4,758.2 232.8,758 234.2,757.8 235.6,757.6 237,757.4 238.4,757.2 239.8,757 241.2,756.8 242.6,756.7 244,756.5 245.4,756.3 246.8,756.1 248.3,755.9 249.7,755.7 251.1,755.5 252.5,755.3 253.9,755.2 255.3,755 256.7,754.8 258.1,754.6 259.5,754.4 260.9,754.3 262.3,754.1 263.7,753.9 265.2,753.7 266.6,753.6 268,753.4 269.4,753.2 270.8,753 272.2,752.9 273.6,752.7 275,752.5 276.4,752.4 277.8,752.2 279.2,752.1 280.6,751.9 282,751.7 283.5,751.6 284.9,751.4 286.3,751.3 287.7,751.1 289.1,751 290.5,750.8 291.9,750.6 293.3,750.5 294.7,750.4 296.1,750.2 297.5,750.1 298.9,749.9 300.4,749.8 301.8,749.6 303.2,749.5 304.6,749.4 306,749.2 307.4,749.1 308.8,749 310.2,748.8 311.6,748.7 313,748.6 314.4,748.4 315.8,748.3 317.2,748.2 318.7,748.1 320.1,747.9 321.5,747.8 322.9,747.7 324.3,747.6 325.7,747.4 327.1,747.3 328.5,747.2 329.9,747.1 331.3,747 332.7,746.8 334.1,746.7 335.6,746.6 337,746.5 338.4,746.4 339.8,746.2 341.2,746.1 342.6,746 344,745.9 345.4,745.8 346.8,745.6 348.2,745.5 349.6,745.4 351,745.3 352.4,745.1 353.9,745 355.3,744.9 356.7,744.8 358.1,744.7 359.5,744.5 360.9,744.4 362.3,744.3 363.7,744.1 365.1,744 366.5,743.9 367.9,743.7 369.3,743.6 370.8,743.5 372.2,743.3 373.6,743.2 375,743.1 376.4,743 377.8,742.8 379.2,742.7 380.6,742.6 382,742.5 383.4,742.3 384.8,742.2 386.2,742.1 387.6,742 389.1,741.9 390.5,741.8 391.9,741.7 393.3,741.6 394.7,741.5 396.1,741.4 397.5,741.3 398.9,741.2 400.3,741.1 401.7,741 403.1,740.9 404.5,740.8 406,740.7 407.4,740.6 408.8,740.5 410.2,740.4 411.6,740.3 413,740.2 414.4,740.1 415.8,740 417.2,739.9 418.6,739.8 420,739.7 421.4,739.7 422.8,739.6 424.3,739.5 425.7,739.4 427.1,739.3 428.5,739.2 429.9,739.2 431.3,739.1 432.7,739 434.1,738.9 435.5,738.8 436.9,738.8 438.3,738.7 439.7,738.6 441.2,738.5 442.6,738.5 444,738.4 445.4,738.3 446.8,738.3 448.2,738.2 449.6,738.2" fill="none" stroke="#FF00FF" stroke-width="1.2"/>
<path d="M97.6 937.3l4.7 4.7l-4.7 4.7l-4.7 -4.7zM99 935l4.7 4.7l-4.7 4.7l-4.7 -4.7zM100.4 931.9l4.7 4.7l-4.7 4.7l-4.7 -4.7zM101.8 928.5l4.7 4.7l-4.7 4.7l-4.7 -4.7zM103.2 925.1l4.7 4.7l-4.7 4.7l-4.7 -4.7zM104.6 921.6l4.7 4.7l-4.7 4.7l-4.7 -4.7zM106 918l4.7 4.7l-4.7 4.7l-4.7 -4.7zM107.5 914.5l4.7 4.7l-4.7 4.7l-4.7 -4.7zM108.9 910.9l4.7 4.7l-4.7 4.7l-4.7 -4.7zM110.3 907.4l4.7 4.7l-4.7 4.7l-4.7 -4.7zM111.7 903.8l4.7 4.7l-4.7 4.7l-4.7 -4.7zM113.1 900.2l4.7 4.7l-4.7 4.7l-4.7 -4.7zM114.5 896.6l4.7 4.7l-4.7 4.7l-4.7 -4.7zM115.9 892.9l4.7 4.7l-4.7 4.7l-4.7 -4.7zM117.3 889.3l4.7 4.7l-4.7 4.7l-4.7 -4.7zM118.7 885.7l4.7 4.7l-4.7 4.7l-4.7 -4.7zM120.1 882l4.7 4.7l-4.7 4.7l-4.7 -4.7zM121.5 878.2l4.7 4.7l-4.7 4.7l-4.7 -4.7zM122.9 874.3l4.7 4.7l-4.7 4.7l-4.7 -4.7zM124.4 870.2l4.7 4.7l-4.7 4.7l-4.7 -4.7zM125.8 866.1l4.7 4.7l-4.7 4.7l-4.7 -4.7zM127.2 862.1l4.7 4.7l-4.7 4.7l-4.7 -4.7zM128.6 858.1l4.7 4.7l-4.7 4.7l-4.7 -4.7zM130 854.2l4.7 4.7l-4.7 4.7l-4.7 -4.7zM131.4 850.5l4.7 4.7l-4.7 4.7l-4.7 -4.7zM132.8 846.8l4.7 4.7l-4.7 4.7l-4.7 -4.7zM134.2 843.2l4.7 4.7l-4.7 4.7l-4.7 -4.7zM135.6 839.7l4.7 4.7l-4.7 4.7l-4.7 -4.7zM137 836.3l4.7 4.7l-4.7 4.7l-4.7 -4.7zM138.4 833l4.7 4.7l-4.7 4.7l-4.7 -4.7zM139.8 829.8l4.7 4.7l-4.7 4.7l-4.7 -4.7zM141.2 826.7l4.7 4.7l-4.7 4.7l-4.7 -4.7zM142.7 823.5l4.7 4.7l-4.7 4.7l-4.7 -4.7zM144.1 820.4l4.7 4.7l-4.7 4.7l-4.7 -4.7zM145.5 817.2l4.7 4.7l-4.7 4.7l-4.7 -4.7zM146.9 814l4.7 4.7l-4.7 4.7l-4.7 -4.7zM148.3 810.9l4.7 4.7l-4.7 4.7l-4.7 -4.7zM149.7 808l4.7 4.7l-4.7 4.7l-4.7 -4.7zM151.1 805.3l4.7 4.7l-4.7 4.7l-4.7 -4.7zM152.5 802.7l4.7 4.7l-4.7 4.7l-4.7 -4.7zM153.9 800.3l4.7 4.7l-4.7 4.7l-4.7 -4.7zM155.3 798l4.7 4.7l-4.7 4.7l-4.7 -4.7zM156.7 795.9l4.7 4.7l-4.7 4.7l-4.7 -4.7zM158.1 793.9l4.7 4.7l-4.7 4.7l-4.7 -4.7zM159.6 792.1l4.7 4.7l-4.7 4.7l-4.7 -4.7zM161 790.4l4.7 4.7l-4.7 4.7l-4.7 -4.7zM162.4 788.7l4.7 4.7l-4.7 4.7l-4.7 -4.7zM163.8 787.1l4.7 4.7l-4.7 4.7l-4.7 -4.7zM165.2 785.6l4.7 4.7l-4.7 4.7l-4.7 -4.7zM166.6 784.1l4.7 4.7l-4.7 4.7l-4.7 -4.7zM168 782.6l4.7 4.7l-4.7 4.7l-4.7 -4.7zM169.4 781.2l4.7 4.7l-4.7 4.7l-4.7 -4.7zM170.8 779.8l4.7 4.7l-4.7 4.7l-4.7 -4.7zM172.2 778.5l4.7 4.7l-4.7 4.7l-4.7 -4.7zM173.6 777.2l4.7 4.7l-4.7 4.7l-4.7 -4.7zM175 775.9l4.7 4.7l-4.7 4.7l-4.7 -4.7zM176.4 774.7l4.7 4.7l-4.7 4.7l-4.7 -4.7zM177.9 773.4l4.7 4.7l-4.7 4.7l-4.7 -4.7zM179.3 772.2l4.7 4.7l-4.7 4.7l-4.7 -4.7zM180.7 771.1l4.7 4.7l-4.7 4.7l-4.7 -4.7zM182.1 770l4.7 4.7l-4.7 4.7l-4.7 -4.7zM183.5 768.9l4.7 4.7l-4.7 4.7l-4.7 -4.7zM184.9 767.9l4.7 4.7l-4.7 4.7l-4.7 -4.7zM186.3 767l4.7 4.7l-4.7 4.7l-4.7 -4.7zM187.7 766.2l4.7 4.7l-4.7 4.7l-4.7 -4.7zM189.1 765.4l4.7 4.7l-4.7 4.7l-4.7 -4.7zM190.5 764.7l4.7 4.7l-4.7 4.7l-4.7 -4.7zM191.9 764l4.7 4.7l-4.7 4.7l-4.7 -4.7zM193.3 763.4l4.7 4.7l-4.7 4.7l-4.7 -4.7zM194.8 762.8l4.7 4.7l-4.7 4.7l-4.7 -4.7zM196.2 762.2l4.7 4.7l-4.7 4.7l-4.7 -4.7zM197.6 761.6l4.7 4.7l-4.7 4.7l-4.7 -4.7zM199 761.1l4.7 4.7l-4.7 4.7l-4.7 -4.7zM200.4 760.5l4.7 4.7l-4.7 4.7l-4.7 -4.7zM201.8 760.1l4.7 4.7l-4.7 4.7l-4.7 -4.7zM203.2 759.6l4.7 4.7l-4.7 4.7l-4.7 -4.7zM204.6 759.1l4.7 4.7l-4.7 4.7l-4.7 -4.7zM206 758.7l4.7 4.7l-4.7 4.7l-4.7 -4.7zM207.4 758.3l4.7 4.7l-4.7 4.7l-4.7 -4.7zM208.8 757.9l4.7 4.7l-4.7 4.7l-4.7 -4.7zM210.2 757.5l4.7 4.7l-4.7 4.7l-4.7 -4.7zM211.6 757.1l4.7 4.7l-4.7 4.7l-4.7 -4.7zM213.1 756.8l4.7 4.7l-4.7 4.7l-4.7 -4.7zM214.5 756.5l4.7 4.7l-4.7 4.7l-4.7 -4.7zM215.9 756.2l4.7 4.7l-4.7 4.7l-4.7 -4.7zM217.3 755.9l4.7 4.7l-4.7 4.7l-4.7 -4.7zM218.7 755.6l4.7 4.7l-4.7 4.7l-4.7 -4.7zM220.1 755.3l4.7 4.7l-4.7 4.7l-4.7 -4.7zM221.5 755.1l4.7 4.7l-4.7 4.7l-4.7 -4.7zM222.9 754.8l4.7 4.7l-4.7 4.7l-4.7 -4.7zM224.3 754.6l4.7 4.7l-4.7 4.7l-4.7 -4.7zM225.7 754.4l4.7 4.7l-4.7 4.7l-4.7 -4.7zM227.1 754.1l4.7 4.7l-4.7 4.7l-4.7 -4.7zM228.5 753.9l4.7 4.7l-4.7 4.7l-4.7 -4.7zM230 753.7l4.7 4.7l-4.7 4.7l-4.7 -4.7zM231.4 753.5l4.7 4.7l-4.7 4.7l-4.7 -4.7zM232.8 753.3l4.7 4.7l-4.7 4.7l-4.7 -4.7zM234.2 753.1l4.7 4.7l-4.7 4.7l-4.7 -4.7zM235.6 752.9l4.7 4.7l-4.7 4.7l-4.7 -4.7zM237 752.7l4.7 4.7l-4.7 4.7l-4.7 -4.7zM238.4 752.5l4.7 4.7l-4.7 4.7l-4.7 -4.7zM239.8 752.3l4.7 4.7l-4.7 4.7l-4.7 -4.7zM241.2 752.1l4.7 4.7l-4.7 4.7l-4.7 -4.7zM242.6 752l4.7 4.7l-4.7 4.7l-4.7 -4.7zM244 751.8l4.7 4.7l-4.7 4.7l-4.7 -4.7zM245.4 751.6l4.7 4.7l-4.7 4.7l-4.7 -4.7zM246.8 751.4l4.7 4.7l-4.7 4.7l-4.7 -4.7zM248.3 751.2l4.7 4.7l-4.7 4.7l-4.7 -4.7zM249.7 751l4.7 4.7l-4.7 4.7l-4.7 -4.7zM251.1 750.8l4.7 4.7l-4.7 4.7l-4.7 -4.7zM252.5 750.6l4.7 4.7l-4.7 4.7l-4.7 -4.7zM253.9 750.5l4.7 4.7l-4.7 4.7l-4.7 -4.7zM255.3 750.3l4.7 4.7l-4.7 4.7l-4.7 -4.7zM256.7 750.1l4.7 4.7l-4.7 4.7l-4.7 -4.7zM258.1 749.9l4.7 4.7l-4.7 4.7l-4.7 -4.7zM259.5 749.7l4.7 4.7l-4.7 4.7l-4.7 -4.7zM260.9 749.6l4.7 4.7l-4.7 4.7l-4.7 -4.7zM262.3 749.4l4.7 4.7l-4.7 4.7l-4.7 -4.7zM263.7 749.2l4.7 4.7l-4.7 4.7l-4.7 -4.7zM265.2 749l4.7 4.7l-4.7 4.7l-4.7 -4.7zM266.6 748.9l4.7 4.7l-4.7 4.7l-4.7 -4.7zM268 748.7l4.7 4.7l-4.7 4.7l-4.7 -4.7zM269.4 748.5l4.7 4.7l-4.7 4.7l-4.7 -4.7zM270.8 748.3l4.7 4.7l-4.7 4.7l-4.7 -4.7zM272.2 748.2l4.7 4.7l-4.7 4.7l-4.7 -4.7zM273.6 748l4.7 4.7l-4.7 4.7l-4.7 -4.7zM275 747.8l4.7 4.7l-4.7 4.7l-4.7 -4.7zM276.4 747.7l4.7 4.7l-4.7 4.7l-4.7 -4.7zM277.8 747.5l4.7 4.7l-4.7 4.7l-4.7 -4.7zM279.2 747.4l4.7 4.7l-4.7 4.7l-4.7 -4.7zM280.6 747.2l4.7 4.7l-4.7 4.7l-4.7 -4.7zM282 747l4.7 4.7l-4.7 4.7l-4.7 -4.7zM283.5 746.9l4.7 4.7l-4.7 4.7l-4.7 -4.7zM284.9 746.7l4.7 4.7l-4.7 4.7l-4.7 -4.7zM286.3 746.6l4.7 4.7l-4.7 4.7l-4.7 -4.7zM287.7 746.4l4.7 4.7l-4.7 4.7l-4.7 -4.7zM289.1 746.3l4.7 4.7l-4.7 4.7l-4.7 -4.7zM290.5 746.1l4.7 4.7l-4.7 4.7l-4.7 -4.7zM291.9 745.9l4.7 4.7l-4.7 4.7l-4.7 -4.7zM293.3 745.8l4.7 4.7l-4.7 4.7l-4.7 -4.7zM294.7 745.7l4.7 4.7l-4.7 4.7l-4.7 -4.7zM296.1 745.5l4.7 4.7l-4.7 4.7l-4.7 -4.7zM297.5 745.4l4.7 4.7l-4.7 4.7l-4.7 -4.7zM298.9 745.2l4.7 4.7l-4.7 4.7l-4.7 -4.7zM300.4 745.1l4.7 4.7l-4.7 4.7l-4.7 -4.7zM301.8 744.9l4.7 4.7l-4.7 4.7l-4.7 -4.7zM303.2 744.8l4.7 4.7l-4.7 4.7l-4.7 -4.7zM304.6 744.7l4.7 4.7l-4.7 4.7l-4.7 -4.7zM306 744.5l4.7 4.7l-4.7 4.7l-4.7 -4.7zM307.4 744.4l4.7 4.7l-4.7 4.7l-4.7 -4.7zM308.8 744.3l4.7 4.7l-4.7 4.7l-4.7 -4.7zM310.2 744.1l4.7 4.7l-4.7 4.7l-4.7 -4.7zM311.6 744l4.7 4.7l-4.7 4.7l-4.7 -4.7zM313 743.9l4.7 4.7l-4.7 4.7l-4.7 -4.7zM314.4 743.7l4.7 4.7l-4.7 4.7l-4.7 -4.7zM315.8 743.6l4.7 4.7l-4.7 4.7l-4.7 -4.7zM317.2 743.5l4.7 4.7l-4.7 4.7l-4.7 -4.7zM318.7 743.4l4.7 4.7l-4.7 4.7l-4.7 -4.7zM320.1 743.2l4.7 4.7l-4.7 4.7l-4.7 -4.7zM321.5 743.1l4.7 4.7l-4.7 4.7l-4.7 -4.7zM322.9 743l4.7 4.7l-4.7 4.7l-4.7 -4.7zM324.3 742.9l4.7 4.7l-4.7 4.7l-4.7 -4.7zM325.7 742.7l4.7 4.7l-4.7 4.7l-4.7 -4.7zM327.1 742.6l4.7 4.7l-4.7 4.7l-4.7 -4.7zM328.5 742.5l4.7 4.7l-4.7 4.7l-4.7 -4.7zM329.9 742.4l4.7 4.7l-4.7 4.7l-4.7 -4.7zM331.3 742.3l4.7 4.7l-4.7 4.7l-4.7 -4.7zM332.7 742.1l4.7 4.7l-4.7 4.7l-4.7 -4.7zM334.1 742l4.7 4.7l-4.7 4.7l-4.7 -4.7zM335.6 741.9l4.7 4.7l-4.7 4.7l-4.7 -4.7zM337 741.8l4.7 4.7l-4.7 4.7l-4.7 -4.7zM338.4 741.7l4.7 4.7l-4.7 4.7l-4.7 -4.7zM339.8 741.5l4.7 4.7l-4.7 4.7l-4.7 -4.7zM341.2 741.4l4.7 4.7l-4.7 4.7l-4.7 -4.7zM342.6 741.3l4.7 4.7l-4.7 4.7l-4.7 -4.7zM344 741.2l4.7 4.7l-4.7 4.7l-4.7 -4.7zM345.4 741.1l4.7 4.7l-4.7 4.7l-4.7 -4.7zM346.8 740.9l4.7 4.7l-4.7 4.7l-4.7 -4.7zM348.2 740.8l4.7 4.7l-4.7 4.7l-4.7 -4.7zM349.6 740.7l4.7 4.7l-4.7 4.7l-4.7 -4.7zM351 740.6l4.7 4.7l-4.7 4.7l-4.7 -4.7zM352.4 740.4l4.7 4.7l-4.7 4.7l-4.7 -4.7zM353.9 740.3l4.7 4.7l-4.7 4.7l-4.7 -4.7zM355.3 740.2l4.7 4.7l-4.7 4.7l-4.7 -4.7zM356.7 740.1l4.7 4.7l-4.7 4.7l-4.7 -4.7zM358.1 740l4.7 4.7l-4.7 4.7l-4.7 -4.7zM359.5 739.8l4.7 4.7l-4.7 4.7l-4.7 -4.7zM360.9 739.7l4.7 4.7l-4.7 4.7l-4.7 -4.7zM362.3 739.6l4.7 4.7l-4.7 4.7l-4.7 -4.7zM363.7 739.4l4.7 4.7l-4.7 4.7l-4.7 -4.7zM365.1 739.3l4.7 4.7l-4.7 4.7l-4.7 -4.7zM366.5 739.2l4.7 4.7l-4.7 4.7l-4.7 -4.7zM367.9 739l4.7 4.7l-4.7 4.7l-4.7 -4.7zM369.3 738.9l4.7 4.7l-4.7 4.7l-4.7 -4.7zM370.8 738.8l4.7 4.7l-4.7 4.7l-4.7 -4.7zM372.2 738.6l4.7 4.7l-4.7 4.7l-4.7 -4.7zM373.6 738.5l4.7 4.7l-4.7 4.7l-4.7 -4.7zM375 738.4l4.7 4.7l-4.7 4.7l-4.7 -4.7zM376.4 738.3l4.7 4.7l-4.7 4.7l-4.7 -4.7zM377.8 738.1l4.7 4.7l-4.7 4.7l-4.7 -4.7zM379.2 738l4.7 4.7l-4.7 4.7l-4.7 -4.7zM380.6 737.9l4.7 4.7l-4.7 4.7l-4.7 -4.7zM382 737.8l4.7 4.7l-4.7 4.7l-4.7 -4.7zM383.4 737.6l4.7 4.7l-4.7 4.7l-4.7 -4.7zM384.8 737.5l4.7 4.7l-4.7 4.7l-4.7 -4.7zM386.2 737.4l4.7 4.7l-4.7 4.7l-4.7 -4.7zM387.6 737.3l4.7 4.7l-4.7 4.7l-4.7 -4.7zM389.1 737.2l4.7 4.7l-4.7 4.7l-4.7 -4.7zM390.5 737.1l4.7 4.7l-4.7 4.7l-4.7 -4.7zM391.9 737l4.7 4.7l-4.7 4.7l-4.7 -4.7zM393.3 736.9l4.7 4.7l-4.7 4.7l-4.7 -4.7zM394.7 736.8l4.7 4.7l-4.7 4.7l-4.7 -4.7zM396.1 736.7l4.7 4.7l-4.7 4.7l-4.7 -4.7zM397.5 736.6l4.7 4.7l-4.7 4.7l-4.7 -4.7zM398.9 736.5l4.7 4.7l-4.7 4.7l-4.7 -4.7zM400.3 736.4l4.7 4.7l-4.7 4.7l-4.7 -4.7zM401.7 736.3l4.7 4.7l-4.7 4.7l-4.7 -4.7zM403.1 736.2l4.7 4.7l-4.7 4.7l-4.7 -4.7zM404.5 736.1l4.7 4.7l-4.7 4.7l-4.7 -4.7zM406 736l4.7 4.7l-4.7 4.7l-4.7 -4.7zM407.4 735.9l4.7 4.7l-4.7 4.7l-4.7 -4.7zM408.8 735.8l4.7 4.7l-4.7 4.7l-4.7 -4.7zM410.2 735.7l4.7 4.7l-4.7 4.7l-4.7 -4.7zM411.6 735.6l4.7 4.7l-4.7 4.7l-4.7 -4.7zM413 735.5l4.7 4.7l-4.7 4.7l-4.7 -4.7zM414.4 735.4l4.7 4.7l-4.7 4.7l-4.7 -4.7zM415.8 735.3l4.7 4.7l-4.7 4.7l-4.7 -4.7zM417.2 735.2l4.7 4.7l-4.7 4.7l-4.7 -4.7zM418.6 735.1l4.7 4.7l-4.7 4.7l-4.7 -4.7zM420 735l4.7 4.7l-4.7 4.7l-4.7 -4.7zM421.4 735l4.7 4.7l-4.7 4.7l-4.7 -4.7zM422.8 734.9l4.7 4.7l-4.7 4.7l-4.7 -4.7zM424.3 734.8l4.7 4.7l-4.7 4.7l-4.7 -4.7zM425.7 734.7l4.7 4.7l-4.7 4.7l-4.7 -4.7zM427.1 734.6l4.7 4.7l-4.7 4.7l-4.7 -4.7zM428.5 734.5l4.7 4.7l-4.7 4.7l-4.7 -4.7zM429.9 734.5l4.7 4.7l-4.7 4.7l-4.7 -4.7zM431.3 734.4l4.7 4.7l-4.7 4.7l-4.7 -4.7zM432.7 734.3l4.7 4.7l-4.7 4.7l-4.7 -4.7zM434.1 734.2l4.7 4.7l-4.7 4.7l-4.7 -4.7zM435.5 734.1l4.7 4.7l-4.7 4.7l-4.7 -4.7zM436.9 734.1l4.7 4.7l-4.7 4.7l-4.7 -4.7zM438.3 734l4.7 4.7l-4.7 4.7l-4.7 -4.7zM439.7 733.9l4.7 4.7l-4.7 4.7l-4.7 -4.7zM441.2 733.8l4.7 4.7l-4.7 4.7l-4.7 -4.7zM442.6 733.8l4.7 4.7l-4.7 4.7l-4.7 -4.7zM444 733.7l4.7 4.7l-4.7 4.7l-4.7 -4.7zM445.4 733.6l4.7 4.7l-4.7 4.7l-4.7 -4.7zM446.8 733.6l4.7 4.7l-4.7 4.7l-4.7 -4.7zM448.2 733.5l4.7 4.7l-4.7 4.7l-4.7 -4.7zM449.6 733.5l4.7 4.7l-4.7 4.7l-4.7 -4.7z" fill="#FF00FF"/>
<polyline points="97.6,941.2 99,937.9 100.4,933.6 101.8,928.9 103.2,924.1 104.6,919.4 106,914.8 107.5,910.3 108.9,905.9 110.3,901.5 111.7,897.2 113.1,893 114.5,888.9 115.9,884.9 117.3,881 118.7,877.2 120.1,873.4 121.5,869.6 122.9,865.8 124.4,862 125.8,858.2 127.2,854.4 128.6,850.5 130,846.7 131.4,842.9 132.8,839 134.2,835 135.6,831 137,827.1 138.4,823.3 139.8,819.6 141.2,816.1 142.7,812.7 144.1,809.5 145.5,806.3 146.9,803.3 148.3,800.3 149.7,797.4 151.1,794.6 152.5,791.9 153.9,789.2 155.3,786.7 156.7,784.1 158.1,781.7 159.6,779.3 161,777 162.4,774.8 163.8,772.6 165.2,770.6 166.6,768.6 168,766.6 169.4,764.6 170.8,762.7 172.2,760.7 173.6,758.8 175,756.9 176.4,755 177.9,753.2 179.3,751.5 180.7,750 182.1,748.5 183.5,747.1 184.9,745.7 186.3,744.5 187.7,743.3 189.1,742.2 190.5,741.2 191.9,740.2 193.3,739.3 194.8,738.4 196.2,737.6 197.6,736.8 199,736.1 200.4,735.4 201.8,734.7 203.2,734.1 204.6,733.5 206,733 207.4,732.5 208.8,732 210.2,731.5 211.6,731.1 213.1,730.7 214.5,730.3 215.9,729.9 217.3,729.5 218.7,729.1 220.1,728.8 221.5,728.4 222.9,728.1 224.3,727.7 225.7,727.4 227.1,727.1 228.5,726.8 230,726.4 231.4,726.1 232.8,725.8 234.2,725.5 235.6,725.3 237,725 238.4,724.7 239.8,724.5 241.2,724.2 242.6,724 244,723.7 245.4,723.5 246.8,723.3 248.3,723 249.7,722.8 251.1,722.6 252.5,722.4 253.9,722.1 255.3,721.9 256.7,721.7 258.1,721.5 259.5,721.3 260.9,721.1 262.3,720.9 263.7,720.7 265.2,720.5 266.6,720.3 268,720.1 269.4,719.9 270.8,719.7 272.2,719.6 273.6,719.4 275,719.2 276.4,719 277.8,718.8 279.2,718.6 280.6,718.5 282,718.3 283.5,718.1 284.9,717.9 286.3,717.8 287.7,717.6 289.1,717.4 290.5,717.2 291.9,717.1 293.3,716.9 294.7,716.7 296.1,716.6 297.5,716.4 298.9,716.2 300.4,716 301.8,715.9 303.2,715.7 304.6,715.5 306,715.4 307.4,715.2 308.8,715 310.2,714.8 311.6,714.7 313,714.5 314.4,714.3 315.8,714.2 317.2,714 318.7,713.8 320.1,713.7 321.5,713.5 322.9,713.4 324.3,713.2 325.7,713 327.1,712.9 328.5,712.7 329.9,712.6 331.3,712.4 332.7,712.3 334.1,712.1 335.6,712 337,711.8 338.4,711.7 339.8,711.5 341.2,711.4 342.6,711.2 344,711.1 345.4,711 346.8,710.8 348.2,710.7 349.6,710.6 351,710.5 352.4,710.3 353.9,710.2 355.3,710.1 356.7,710 358.1,709.9 359.5,709.8 360.9,709.7 362.3,709.6 363.7,709.5 365.1,709.4 366.5,709.3 367.9,709.2 369.3,709.1 370.8,709 372.2,708.9 373.6,708.8 375,708.7 376.4,708.6 377.8,708.5 379.2,708.5 380.6,708.4 382,708.3 383.4,708.2 384.8,708.1 386.2,708 387.6,707.9 389.1,707.8 390.5,707.7 391.9,707.6 393.3,707.5 394.7,707.5 396.1,707.4 397.5,707.3 398.9,707.2 400.3,707.1 401.7,707 403.1,706.9 404.5,706.8 406,706.7 407.4,706.6 408.8,706.5 410.2,706.4 411.6,706.3 413,706.2 414.4,706.1 415.8,706 417.2,705.9 418.6,705.8 420,705.7 421.4,705.6 422.8,705.5 424.3,705.4 425.7,705.4 427.1,705.3 428.5,705.2 429.9,705.1 431.3,705 432.7,704.9 434.1,704.8 435.5,704.7 436.9,704.6 438.3,704.5 439.7,704.4 441.2,704.3 442.6,704.2 444,704.1 445.4,704 446.8,703.9 448.2,703.8 449.6,703.8" fill="none" stroke="#FF00FF" stroke-width="1.2"/>
<path d="M93.4 937h8.4v8.4h-8.4zM94.8 933.7h8.4v8.4h-8.4zM96.2 929.4h8.4v8.4h-8.4zM97.6 924.7h8.4v8.4h-8.4zM99 919.9h8.4v8.4h-8.4zM100.4 915.2h8.4v8.4h-8.4zM101.8 910.6h8.4v8.4h-8.4zM103.3 906.1h8.4v8.4h-8.4zM104.7 901.7h8.4v8.4h-8.4zM106.1 897.3h8.4v8.4h-8.4zM107.5 893h8.4v8.4h-8.4zM108.9 888.8h8.4v8.4h-8.4zM110.3 884.7h8.4v8.4h-8.4zM111.7 880.7h8.4v8.4h-8.4zM113.1 876.8h8.4v8.4h-8.4zM114.5 873h8.4v8.4h-8.4zM115.9 869.2h8.4v8.4h-8.4zM117.3 865.4h8.4v8.4h-8.4zM118.7 861.6h8.4v8.4h-8.4zM120.2 857.8h8.4v8.4h-8.4zM121.6 854h8.4v8.4h-8.4zM123 850.2h8.4v8.4h-8.4zM124.4 846.3h8.4v8.4h-8.4zM125.8 842.5h8.4v8.4h-8.4zM127.2 838.7h8.4v8.4h-8.4zM128.6 834.8h8.4v8.4h-8.4zM130 830.8h8.4v8.4h-8.4zM131.4 826.8h8.4v8.4h-8.4zM132.8 822.9h8.4v8.4h-8.4zM134.2 819.1h8.4v8.4h-8.4zM135.6 815.4h8.4v8.4h-8.4zM137 811.9h8.4v8.4h-8.4zM138.5 808.5h8.4v8.4h-8.4zM139.9 805.3h8.4v8.4h-8.4zM141.3 802.1h8.4v8.4h-8.4zM142.7 799.1h8.4v8.4h-8.4zM144.1 796.1h8.4v8.4h-8.4zM145.5 793.2h8.4v8.4h-8.4zM146.9 790.4h8.4v8.4h-8.4zM148.3 787.7h8.4v8.4h-8.4zM149.7 785h8.4v8.4h-8.4zM151.1 782.5h8.4v8.4h-8.4zM152.5 779.9h8.4v8.4h-8.4zM153.9 777.5h8.4v8.4h-8.4zM155.4 775.1h8.4v8.4h-8.4zM156.8 772.8h8.4v8.4h-8.4zM158.2 770.6h8.4v8.4h-8.4zM159.6 768.4h8.4v8.4h-8.4zM161 766.4h8.4v8.4h-8.4zM162.4 764.4h8.4v8.4h-8.4zM163.8 762.4h8.4v8.4h-8.4zM165.2 760.4h8.4v8.4h-8.4zM166.6 758.5h8.4v8.4h-8.4zM168 756.5h8.4v8.4h-8.4zM169.4 754.6h8.4v8.4h-8.4zM170.8 752.7h8.4v8.4h-8.4zM172.2 750.8h8.4v8.4h-8.4zM173.7 749h8.4v8.4h-8.4zM175.1 747.3h8.4v8.4h-8.4zM176.5 745.8h8.4v8.4h-8.4zM177.9 744.3h8.4v8.4h-8.4zM179.3 742.9h8.4v8.4h-8.4zM180.7 741.5h8.4v8.4h-8.4zM182.1 740.3h8.4v8.4h-8.4zM183.5 739.1h8.4v8.4h-8.4zM184.9 738h8.4v8.4h-8.4zM186.3 737h8.4v8.4h-8.4zM187.7 736h8.4v8.4h-8.4zM189.1 735.1h8.4v8.4h-8.4zM190.6 734.2h8.4v8.4h-8.4zM192 733.4h8.4v8.4h-8.4zM193.4 732.6h8.4v8.4h-8.4zM194.8 731.9h8.4v8.4h-8.4zM196.2 731.2h8.4v8.4h-8.4zM197.6 730.5h8.4v8.4h-8.4zM199 729.9h8.4v8.4h-8.4zM200.4 729.3h8.4v8.4h-8.4zM201.8 728.8h8.4v8.4h-8.4zM203.2 728.3h8.4v8.4h-8.4zM204.6 727.8h8.4v8.4h-8.4zM206 727.3h8.4v8.4h-8.4zM207.4 726.9h8.4v8.4h-8.4zM208.9 726.5h8.4v8.4h-8.4zM210.3 726.1h8.4v8.4h-8.4zM211.7 725.7h8.4v8.4h-8.4zM213.1 725.3h8.4v8.4h-8.4zM214.5 724.9h8.4v8.4h-8.4zM215.9 724.6h8.4v8.4h-8.4zM217.3 724.2h8.4v8.4h-8.4zM218.7 723.9h8.4v8.4h-8.4zM220.1 723.5h8.4v8.4h-8.4zM221.5 723.2h8.4v8.4h-8.4zM222.9 722.9h8.4v8.4h-8.4zM224.3 722.6h8.4v8.4h-8.4zM225.8 722.2h8.4v8.4h-8.4zM227.2 721.9h8.4v8.4h-8.4zM228.6 721.6h8.4v8.4h-8.4zM230 721.3h8.4v8.4h-8.4zM231.4 721.1h8.4v8.4h-8.4zM232.8 720.8h8.4v8.4h-8.4zM234.2 720.5h8.4v8.4h-8.4zM235.6 720.3h8.4v8.4h-8.4zM237 720h8.4v8.4h-8.4zM238.4 719.8h8.4v8.4h-8.4zM239.8 719.5h8.4v8.4h-8.4zM241.2 719.3h8.4v8.4h-8.4zM242.6 719.1h8.4v8.4h-8.4zM244.1 718.8h8.4v8.4h-8.4zM245.5 718.6h8.4v8.4h-8.4zM246.9 718.4h8.4v8.4h-8.4zM248.3 718.2h8.4v8.4h-8.4zM249.7 717.9h8.4v8.4h-8.4zM251.1 717.7h8.4v8.4h-8.4zM252.5 717.5h8.4v8.4h-8.4zM253.9 717.3h8.4v8.4h-8.4zM255.3 717.1h8.4v8.4h-8.4zM256.7 716.9h8.4v8.4h-8.4zM258.1 716.7h8.4v8.4h-8.4zM259.5 716.5h8.4v8.4h-8.4zM261 716.3h8.4v8.4h-8.4zM262.4 716.1h8.4v8.4h-8.4zM263.8 715.9h8.4v8.4h-8.4zM265.2 715.7h8.4v8.4h-8.4zM266.6 715.5h8.4v8.4h-8.4zM268 715.4h8.4v8.4h-8.4zM269.4 715.2h8.4v8.4h-8.4zM270.8 715h8.4v8.4h-8.4zM272.2 714.8h8.4v8.4h-8.4zM273.6 714.6h8.4v8.4h-8.4zM275 714.4h8.4v8.4h-8.4zM276.4 714.3h8.4v8.4h-8.4zM277.8 714.1h8.4v8.4h-8.4zM279.3 713.9h8.4v8.4h-8.4zM280.7 713.7h8.4v8.4h-8.4zM282.1 713.6h8.4v8.4h-8.4zM283.5 713.4h8.4v8.4h-8.4zM284.9 713.2h8.4v8.4h-8.4zM286.3 713h8.4v8.4h-8.4zM287.7 712.9h8.4v8.4h-8.4zM289.1 712.7h8.4v8.4h-8.4zM290.5 712.5h8.4v8.4h-8.4zM291.9 712.4h8.4v8.4h-8.4zM293.3 712.2h8.4v8.4h-8.4zM294.7 712h8.4v8.4h-8.4zM296.2 711.8h8.4v8.4h-8.4zM297.6 711.7h8.4v8.4h-8.4zM299 711.5h8.4v8.4h-8.4zM300.4 711.3h8.4v8.4h-8.4zM301.8 711.2h8.4v8.4h-8.4zM303.2 711h8.4v8.4h-8.4zM304.6 710.8h8.4v8.4h-8.4zM306 710.6h8.4v8.4h-8.4zM307.4 710.5h8.4v8.4h-8.4zM308.8 710.3h8.4v8.4h-8.4zM310.2 710.1h8.4v8.4h-8.4zM311.6 710h8.4v8.4h-8.4zM313 709.8h8.4v8.4h-8.4zM314.5 709.6h8.4v8.4h-8.4zM315.9 709.5h8.4v8.4h-8.4zM317.3 709.3h8.4v8.4h-8.4zM318.7 709.2h8.4v8.4h-8.4zM320.1 709h8.4v8.4h-8.4zM321.5 708.8h8.4v8.4h-8.4zM322.9 708.7h8.4v8.4h-8.4zM324.3 708.5h8.4v8.4h-8.4zM325.7 708.4h8.4v8.4h-8.4zM327.1 708.2h8.4v8.4h-8.4zM328.5 708.1h8.4v8.4h-8.4zM329.9 707.9h8.4v8.4h-8.4zM331.4 707.8h8.4v8.4h-8.4zM332.8 707.6h8.4v8.4h-8.4zM334.2 707.5h8.4v8.4h-8.4zM335.6 707.3h8.4v8.4h-8.4zM337 707.2h8.4v8.4h-8.4zM338.4 707h8.4v8.4h-8.4zM339.8 706.9h8.4v8.4h-8.4zM341.2 706.8h8.4v8.4h-8.4zM342.6 706.6h8.4v8.4h-8.4zM344 706.5h8.4v8.4h-8.4zM345.4 706.4h8.4v8.4h-8.4zM346.8 706.3h8.4v8.4h-8.4zM348.2 706.1h8.4v8.4h-8.4zM349.7 706h8.4v8.4h-8.4zM351.1 705.9h8.4v8.4h-8.4zM352.5 705.8h8.4v8.4h-8.4zM353.9 705.7h8.4v8.4h-8.4zM355.3 705.6h8.4v8.4h-8.4zM356.7 705.5h8.4v8.4h-8.4zM358.1 705.4h8.4v8.4h-8.4zM359.5 705.3h8.4v8.4h-8.4zM360.9 705.2h8.4v8.4h-8.4zM362.3 705.1h8.4v8.4h-8.4zM363.7 705h8.4v8.4h-8.4zM365.1 704.9h8.4v8.4h-8.4zM366.6 704.8h8.4v8.4h-8.4zM368 704.7h8.4v8.4h-8.4zM369.4 704.6h8.4v8.4h-8.4zM370.8 704.5h8.4v8.4h-8.4zM372.2 704.4h8.4v8.4h-8.4zM373.6 704.3h8.4v8.4h-8.4zM375 704.3h8.4v8.4h-8.4zM376.4 704.2h8.4v8.4h-8.4zM377.8 704.1h8.4v8.4h-8.4zM379.2 704h8.4v8.4h-8.4zM380.6 703.9h8.4v8.4h-8.4zM382 703.8h8.4v8.4h-8.4zM383.4 703.7h8.4v8.4h-8.4zM384.9 703.6h8.4v8.4h-8.4zM386.3 703.5h8.4v8.4h-8.4zM387.7 703.4h8.4v8.4h-8.4zM389.1 703.3h8.4v8.4h-8.4zM390.5 703.3h8.4v8.4h-8.4zM391.9 703.2h8.4v8.4h-8.4zM393.3 703.1h8.4v8.4h-8.4zM394.7 703h8.4v8.4h-8.4zM396.1 702.9h8.4v8.4h-8.4zM397.5 702.8h8.4v8.4h-8.4zM398.9 702.7h8.4v8.4h-8.4zM400.3 702.6h8.4v8.4h-8.4zM401.8 702.5h8.4v8.4h-8.4zM403.2 702.4h8.4v8.4h-8.4zM404.6 702.3h8.4v8.4h-8.4zM406 702.2h8.4v8.4h-8.4zM407.4 702.1h8.4v8.4h-8.4zM408.8 702h8.4v8.4h-8.4zM410.2 701.9h8.4v8.4h-8.4zM411.6 701.8h8.4v8.4h-8.4zM413 701.7h8.4v8.4h-8.4zM414.4 701.6h8.4v8.4h-8.4zM415.8 701.5h8.4v8.4h-8.4zM417.2 701.4h8.4v8.4h-8.4zM418.6 701.3h8.4v8.4h-8.4zM420.1 701.2h8.4v8.4h-8.4zM421.5 701.2h8.4v8.4h-8.4zM422.9 701.1h8.4v8.4h-8.4zM424.3 701h8.4v8.4h-8.4zM425.7 700.9h8.4v8.4h-8.4zM427.1 700.8h8.4v8.4h-8.4zM428.5 700.7h8.4v8.4h-8.4zM429.9 700.6h8.4v8.4h-8.4zM431.3 700.5h8.4v8.4h-8.4zM432.7 700.4h8.4v8.4h-8.4zM434.1 700.3h8.4v8.4h-8.4zM435.5 700.2h8.4v8.4h-8.4zM437 700.1h8.4v8.4h-8.4zM438.4 700h8.4v8.4h-8.4zM439.8 699.9h8.4v8.4h-8.4zM441.2 699.8h8.4v8.4h-8.4zM442.6 699.7h8.4v8.4h-8.4zM444 699.6h8.4v8.4h-8.4zM445.4 699.6h8.4v8.4h-8.4z" fill="#FF00FF"/>
<polyline points="97.6,941.2 99,937.9 100.4,933.5 101.8,928.7 103.2,923.9 104.6,919.2 106,914.5 107.5,909.9 108.9,905.4 110.3,900.9 111.7,896.6 113.1,892.3 114.5,888.1 115.9,884 117.3,880 118.7,876 120.1,872.1 121.5,868.2 122.9,864.3 124.4,860.4 125.8,856.5 127.2,852.6 128.6,848.8 130,844.9 131.4,841 132.8,837.1 134.2,833.2 135.6,829.3 137,825.4 138.4,821.5 139.8,817.8 141.2,814.2 142.7,810.6 144.1,807.2 145.5,803.8 146.9,800.5 148.3,797.1 149.7,793.6 151.1,790.1 152.5,786.6 153.9,783 155.3,779.4 156.7,775.8 158.1,772.2 159.6,768.6 161,765.1 162.4,761.5 163.8,758 165.2,754.4 166.6,750.8 168,747.5 169.4,744.3 170.8,741.5 172.2,739 173.6,736.7 175,734.6 176.4,732.6 177.9,730.7 179.3,729 180.7,727.3 182.1,725.7 183.5,724.2 184.9,722.7 186.3,721.3 187.7,719.9 189.1,718.6 190.5,717.3 191.9,716.1 193.3,715 194.8,713.8 196.2,712.7 197.6,711.6 199,710.6 200.4,709.6 201.8,708.7 203.2,707.8 204.6,706.9 206,706.2 207.4,705.4 208.8,704.7 210.2,704.1 211.6,703.4 213.1,702.8 214.5,702.2 215.9,701.7 217.3,701.1 218.7,700.6 220.1,700.1 221.5,699.6 222.9,699.1 224.3,698.7 225.7,698.2 227.1,697.8 228.5,697.4 230,697 231.4,696.6 232.8,696.3 234.2,695.9 235.6,695.6 237,695.3 238.4,694.9 239.8,694.6 241.2,694.3 242.6,694.1 244,693.8 245.4,693.5 246.8,693.2 248.3,693 249.7,692.7 251.1,692.5 252.5,692.2 253.9,692 255.3,691.8 256.7,691.5 258.1,691.3 259.5,691.1 260.9,690.9 262.3,690.7 263.7,690.4 265.2,690.2 266.6,690 268,689.8 269.4,689.6 270.8,689.4 272.2,689.2 273.6,689 275,688.8 276.4,688.6 277.8,688.5 279.2,688.3 280.6,688.1 282,687.9 283.5,687.7 284.9,687.6 286.3,687.4 287.7,687.2 289.1,687.1 290.5,686.9 291.9,686.7 293.3,686.5 294.7,686.4 296.1,686.2 297.5,686 298.9,685.9 300.4,685.7 301.8,685.5 303.2,685.3 304.6,685.1 306,685 307.4,684.8 308.8,684.6 310.2,684.4 311.6,684.2 313,684 314.4,683.9 315.8,683.7 317.2,683.5 318.7,683.3 320.1,683.1 321.5,682.9 322.9,682.8 324.3,682.6 325.7,682.4 327.1,682.2 328.5,682 329.9,681.9 331.3,681.7 332.7,681.5 334.1,681.3 335.6,681.2 337,681 338.4,680.8 339.8,680.7 341.2,680.5 342.6,680.3 344,680.2 345.4,680 346.8,679.9 348.2,679.7 349.6,679.6 351,679.4 352.4,679.3 353.9,679.2 355.3,679 356.7,678.9 358.1,678.8 359.5,678.6 360.9,678.5 362.3,678.4 363.7,678.3 365.1,678.2 366.5,678 367.9,677.9 369.3,677.8 370.8,677.7 372.2,677.6 373.6,677.5 375,677.4 376.4,677.3 377.8,677.2 379.2,677.1 380.6,677 382,676.9 383.4,676.8 384.8,676.7 386.2,676.6 387.6,676.5 389.1,676.4 390.5,676.3 391.9,676.1 393.3,676 394.7,675.9 396.1,675.8 397.5,675.7 398.9,675.6 400.3,675.5 401.7,675.4 403.1,675.3 404.5,675.1 406,675 407.4,674.9 408.8,674.8 410.2,674.7 411.6,674.6 413,674.5 414.4,674.4 415.8,674.2 417.2,674.1 418.6,674 420,673.9 421.4,673.8 422.8,673.7 424.3,673.6 425.7,673.5 427.1,673.3 428.5,673.2 429.9,673.1 431.3,673 432.7,672.9 434.1,672.8 435.5,672.7 436.9,672.5 438.3,672.4 439.7,672.3 441.2,672.2 442.6,672.1 444,672 445.4,671.8 446.8,671.7 448.2,671.6 449.6,671.6" fill="none" stroke="#FF00FF" stroke-width="1.2"/>
<path d="M97.6 936.3L102.5 945.1H92.7zM99 933L103.9 941.8H94.1zM100.4 928.6L105.3 937.4H95.5zM101.8 923.8L106.7 932.6H96.9zM103.2 919L108.1 927.8H98.3zM104.6 914.3L109.5 923.1H99.7zM106 909.6L110.9 918.4H101.1zM107.5 905L112.4 913.8H102.6zM108.9 900.5L113.8 909.3H104zM110.3 896L115.2 904.9H105.4zM111.7 891.7L116.6 900.5H106.8zM113.1 887.4L118 896.2H108.2zM114.5 883.2L119.4 892H109.6zM115.9 879.1L120.8 887.9H111zM117.3 875.1L122.2 883.9H112.4zM118.7 871.1L123.6 879.9H113.8zM120.1 867.2L125 876H115.2zM121.5 863.3L126.4 872.1H116.6zM122.9 859.4L127.8 868.2H118zM124.4 855.5L129.3 864.3H119.5zM125.8 851.6L130.7 860.4H120.9zM127.2 847.7L132.1 856.6H122.3zM128.6 843.9L133.5 852.7H123.7zM130 840L134.9 848.8H125.1zM131.4 836.1L136.3 845H126.5zM132.8 832.2L137.7 841H127.9zM134.2 828.3L139.1 837.1H129.3zM135.6 824.4L140.5 833.2H130.7zM137 820.5L141.9 829.3H132.1zM138.4 816.6L143.3 825.5H133.5zM139.8 812.9L144.7 821.7H134.9zM141.2 809.3L146.1 818.1H136.3zM142.7 805.7L147.6 814.6H137.8zM144.1 802.3L149 811.1H139.2zM145.5 798.9L150.4 807.8H140.6zM146.9 795.6L151.8 804.4H142zM148.3 792.2L153.2 801H143.4zM149.7 788.7L154.6 797.5H144.8zM151.1 785.2L156 794H146.2zM152.5 781.7L157.4 790.5H147.6zM153.9 778.1L158.8 786.9H149zM155.3 774.5L160.2 783.3H150.4zM156.7 770.9L161.6 779.7H151.8zM158.1 767.3L163 776.1H153.2zM159.6 763.7L164.5 772.5H154.7zM161 760.2L165.9 769H156.1zM162.4 756.6L167.3 765.5H157.5zM163.8 753.1L168.7 761.9H158.9zM165.2 749.5L170.1 758.3H160.3zM166.6 745.9L171.5 754.8H161.7zM168 742.6L172.9 751.4H163.1zM169.4 739.4L174.3 748.3H164.5zM170.8 736.6L175.7 745.4H165.9zM172.2 734.1L177.1 742.9H167.3zM173.6 731.8L178.5 740.6H168.7zM175 729.7L179.9 738.5H170.1zM176.4 727.7L181.3 736.5H171.5zM177.9 725.8L182.8 734.7H173zM179.3 724.1L184.2 732.9H174.4zM180.7 722.4L185.6 731.2H175.8zM182.1 720.8L187 729.6H177.2zM183.5 719.3L188.4 728.1H178.6zM184.9 717.8L189.8 726.6H180zM186.3 716.4L191.2 725.2H181.4zM187.7 715L192.6 723.8H182.8zM189.1 713.7L194 722.5H184.2zM190.5 712.4L195.4 721.2H185.6zM191.9 711.2L196.8 720H187zM193.3 710.1L198.2 718.9H188.4zM194.8 708.9L199.7 717.7H189.9zM196.2 707.8L201.1 716.6H191.3zM197.6 706.7L202.5 715.6H192.7zM199 705.7L203.9 714.5H194.1zM200.4 704.7L205.3 713.5H195.5zM201.8 703.8L206.7 712.6H196.9zM203.2 702.9L208.1 711.7H198.3zM204.6 702L209.5 710.9H199.7zM206 701.3L210.9 710.1H201.1zM207.4 700.5L212.3 709.3H202.5zM208.8 699.8L213.7 708.6H203.9zM210.2 699.2L215.1 708H205.3zM211.6 698.5L216.5 707.3H206.7zM213.1 697.9L218 706.7H208.2zM214.5 697.3L219.4 706.1H209.6zM215.9 696.8L220.8 705.6H211zM217.3 696.2L222.2 705H212.4zM218.7 695.7L223.6 704.5H213.8zM220.1 695.2L225 704H215.2zM221.5 694.7L226.4 703.5H216.6zM222.9 694.2L227.8 703.1H218zM224.3 693.8L229.2 702.6H219.4zM225.7 693.3L230.6 702.2H220.8zM227.1 692.9L232 701.7H222.2zM228.5 692.5L233.4 701.3H223.6zM230 692.1L234.9 700.9H225.1zM231.4 691.7L236.3 700.5H226.5zM232.8 691.4L237.7 700.2H227.9zM234.2 691L239.1 699.8H229.3zM235.6 690.7L240.5 699.5H230.7zM237 690.4L241.9 699.2H232.1zM238.4 690L243.3 698.9H233.5zM239.8 689.7L244.7 698.6H234.9zM241.2 689.4L246.1 698.3H236.3zM242.6 689.2L247.5 698H237.7zM244 688.9L248.9 697.7H239.1zM245.4 688.6L250.3 697.4H240.5zM246.8 688.3L251.7 697.2H241.9zM248.3 688.1L253.2 696.9H243.4zM249.7 687.8L254.6 696.7H244.8zM251.1 687.6L256 696.4H246.2zM252.5 687.3L257.4 696.2H247.6zM253.9 687.1L258.8 695.9H249zM255.3 686.9L260.2 695.7H250.4zM256.7 686.6L261.6 695.5H251.8zM258.1 686.4L263 695.2H253.2zM259.5 686.2L264.4 695H254.6zM260.9 686L265.8 694.8H256zM262.3 685.8L267.2 694.6H257.4zM263.7 685.5L268.6 694.4H258.8zM265.2 685.3L270.1 694.1H260.3zM266.6 685.1L271.5 693.9H261.7zM268 684.9L272.9 693.7H263.1zM269.4 684.7L274.3 693.5H264.5zM270.8 684.5L275.7 693.3H265.9zM272.2 684.3L277.1 693.1H267.3zM273.6 684.1L278.5 692.9H268.7zM275 683.9L279.9 692.7H270.1zM276.4 683.7L281.3 692.6H271.5zM277.8 683.6L282.7 692.4H272.9zM279.2 683.4L284.1 692.2H274.3zM280.6 683.2L285.5 692H275.7zM282 683L286.9 691.8H277.1zM283.5 682.8L288.4 691.7H278.6zM284.9 682.7L289.8 691.5H280zM286.3 682.5L291.2 691.3H281.4zM287.7 682.3L292.6 691.2H282.8zM289.1 682.2L294 691H284.2zM290.5 682L295.4 690.8H285.6zM291.9 681.8L296.8 690.6H287zM293.3 681.6L298.2 690.5H288.4zM294.7 681.5L299.6 690.3H289.8zM296.1 681.3L301 690.1H291.2zM297.5 681.1L302.4 689.9H292.6zM298.9 681L303.8 689.8H294zM300.4 680.8L305.3 689.6H295.5zM301.8 680.6L306.7 689.4H296.9zM303.2 680.4L308.1 689.2H298.3zM304.6 680.2L309.5 689.1H299.7zM306 680.1L310.9 688.9H301.1zM307.4 679.9L312.3 688.7H302.5zM308.8 679.7L313.7 688.5H303.9zM310.2 679.5L315.1 688.3H305.3zM311.6 679.3L316.5 688.1H306.7zM313 679.1L317.9 688H308.1zM314.4 679L319.3 687.8H309.5zM315.8 678.8L320.7 687.6H310.9zM317.2 678.6L322.1 687.4H312.3zM318.7 678.4L323.6 687.2H313.8zM320.1 678.2L325 687H315.2zM321.5 678L326.4 686.9H316.6zM322.9 677.9L327.8 686.7H318zM324.3 677.7L329.2 686.5H319.4zM325.7 677.5L330.6 686.3H320.8zM327.1 677.3L332 686.1H322.2zM328.5 677.1L333.4 686H323.6zM329.9 677L334.8 685.8H325zM331.3 676.8L336.2 685.6H326.4zM332.7 676.6L337.6 685.4H327.8zM334.1 676.4L339 685.3H329.2zM335.6 676.3L340.5 685.1H330.7zM337 676.1L341.9 684.9H332.1zM338.4 675.9L343.3 684.8H333.5zM339.8 675.8L344.7 684.6H334.9zM341.2 675.6L346.1 684.4H336.3zM342.6 675.4L347.5 684.3H337.7zM344 675.3L348.9 684.1H339.1zM345.4 675.1L350.3 683.9H340.5zM346.8 675L351.7 683.8H341.9zM348.2 674.8L353.1 683.6H343.3zM349.6 674.7L354.5 683.5H344.7zM351 674.5L355.9 683.4H346.1zM352.4 674.4L357.3 683.2H347.5zM353.9 674.3L358.8 683.1H349zM355.3 674.1L360.2 682.9H350.4zM356.7 674L361.6 682.8H351.8zM358.1 673.9L363 682.7H353.2zM359.5 673.7L364.4 682.6H354.6zM360.9 673.6L365.8 682.4H356zM362.3 673.5L367.2 682.3H357.4zM363.7 673.4L368.6 682.2H358.8zM365.1 673.3L370 682.1H360.2zM366.5 673.1L371.4 682H361.6zM367.9 673L372.8 681.9H363zM369.3 672.9L374.2 681.8H364.4zM370.8 672.8L375.7 681.6H365.9zM372.2 672.7L377.1 681.5H367.3zM373.6 672.6L378.5 681.4H368.7zM375 672.5L379.9 681.3H370.1zM376.4 672.4L381.3 681.2H371.5zM377.8 672.3L382.7 681.1H372.9zM379.2 672.2L384.1 681H374.3zM380.6 672.1L385.5 680.9H375.7zM382 672L386.9 680.8H377.1zM383.4 671.9L388.3 680.7H378.5zM384.8 671.8L389.7 680.6H379.9zM386.2 671.7L391.1 680.5H381.3zM387.6 671.6L392.5 680.4H382.7zM389.1 671.5L394 680.3H384.2zM390.5 671.4L395.4 680.2H385.6zM391.9 671.2L396.8 680.1H387zM393.3 671.1L398.2 680H388.4zM394.7 671L399.6 679.8H389.8zM396.1 670.9L401 679.7H391.2zM397.5 670.8L402.4 679.6H392.6zM398.9 670.7L403.8 679.5H394zM400.3 670.6L405.2 679.4H395.4zM401.7 670.5L406.6 679.3H396.8zM403.1 670.4L408 679.2H398.2zM404.5 670.2L409.4 679.1H399.6zM406 670.1L410.9 679H401.1zM407.4 670L412.3 678.8H402.5zM408.8 669.9L413.7 678.7H403.9zM410.2 669.8L415.1 678.6H405.3zM411.6 669.7L416.5 678.5H406.7zM413 669.6L417.9 678.4H408.1zM414.4 669.5L419.3 678.3H409.5zM415.8 669.3L420.7 678.2H410.9zM417.2 669.2L422.1 678.1H412.3zM418.6 669.1L423.5 677.9H413.7zM420 669L424.9 677.8H415.1zM421.4 668.9L426.3 677.7H416.5zM422.8 668.8L427.7 677.6H417.9zM424.3 668.7L429.2 677.5H419.4zM425.7 668.6L430.6 677.4H420.8zM427.1 668.4L432 677.3H422.2zM428.5 668.3L433.4 677.1H423.6zM429.9 668.2L434.8 677H425zM431.3 668.1L436.2 676.9H426.4zM432.7 668L437.6 676.8H427.8zM434.1 667.9L439 676.7H429.2zM435.5 667.8L440.4 676.6H430.6zM436.9 667.6L441.8 676.5H432zM438.3 667.5L443.2 676.3H433.4zM439.7 667.4L444.6 676.2H434.8zM441.2 667.3L446.1 676.1H436.3zM442.6 667.2L447.5 676H437.7zM444 667.1L448.9 675.9H439.1zM445.4 666.9L450.3 675.8H440.5zM446.8 666.8L451.7 675.7H441.9zM448.2 666.7L453.1 675.6H443.3zM449.6 666.7L454.5 675.5H444.7z" fill="#FF00FF"/>
<polyline points="97.6,940.8 99,936.9 100.4,931.8 101.8,926.1 103.2,920.5 104.6,914.9 106,909.3 107.5,903.8 108.9,898.2 110.3,892.5 111.7,886.7 113.1,880.9 114.5,875.2 115.9,869.6 117.3,864.4 118.7,859.3 120.1,854.5 121.5,849.7 122.9,845.1 124.4,840.5 125.8,835.9 127.2,831.3 128.6,826.7 130,822 131.4,817.5 132.8,813 134.2,808.6 135.6,804.4 137,800.4 138.4,796.6 139.8,792.9 141.2,789.3 142.7,785.9 144.1,782.5 145.5,779.2 146.9,775.9 148.3,772.6 149.7,769.4 151.1,766.1 152.5,762.9 153.9,759.5 155.3,756.1 156.7,752.7 158.1,749.3 159.6,745.9 161,742.6 162.4,739.4 163.8,736.5 165.2,733.7 166.6,731.2 168,728.8 169.4,726.5 170.8,724.2 172.2,721.9 173.6,719.5 175,717.1 176.4,714.7 177.9,712.3 179.3,709.8 180.7,707.4 182.1,705 183.5,702.7 184.9,700.4 186.3,698.1 187.7,695.8 189.1,693.6 190.5,691.4 191.9,689.3 193.3,687.3 194.8,685.4 196.2,683.7 197.6,682.1 199,680.6 200.4,679.1 201.8,677.7 203.2,676.4 204.6,675.1 206,673.8 207.4,672.6 208.8,671.4 210.2,670.3 211.6,669.2 213.1,668.1 214.5,667.1 215.9,666.1 217.3,665.1 218.7,664.2 220.1,663.3 221.5,662.4 222.9,661.6 224.3,660.7 225.7,659.9 227.1,659.1 228.5,658.3 230,657.6 231.4,656.8 232.8,656.1 234.2,655.5 235.6,654.9 237,654.3 238.4,653.7 239.8,653.1 241.2,652.6 242.6,652.1 244,651.6 245.4,651.1 246.8,650.6 248.3,650.2 249.7,649.7 251.1,649.3 252.5,648.9 253.9,648.4 255.3,648 256.7,647.6 258.1,647.2 259.5,646.8 260.9,646.4 262.3,646 263.7,645.6 265.2,645.3 266.6,644.9 268,644.5 269.4,644.2 270.8,643.8 272.2,643.5 273.6,643.2 275,642.8 276.4,642.5 277.8,642.2 279.2,641.9 280.6,641.5 282,641.2 283.5,640.9 284.9,640.6 286.3,640.3 287.7,640 289.1,639.7 290.5,639.4 291.9,639.1 293.3,638.8 294.7,638.5 296.1,638.2 297.5,637.9 298.9,637.6 300.4,637.3 301.8,637.1 303.2,636.8 304.6,636.5 306,636.3 307.4,636.1 308.8,635.8 310.2,635.6 311.6,635.4 313,635.2 314.4,635 315.8,634.8 317.2,634.6 318.7,634.4 320.1,634.2 321.5,634 322.9,633.9 324.3,633.7 325.7,633.5 327.1,633.3 328.5,633.2 329.9,633 331.3,632.8 332.7,632.7 334.1,632.5 335.6,632.4 337,632.2 338.4,632.1 339.8,631.9 341.2,631.8 342.6,631.7 344,631.5 345.4,631.4 346.8,631.2 348.2,631.1 349.6,631 351,630.9 352.4,630.7 353.9,630.6 355.3,630.5 356.7,630.4 358.1,630.3 359.5,630.2 360.9,630.1 362.3,630 363.7,629.9 365.1,629.8 366.5,629.7 367.9,629.6 369.3,629.5 370.8,629.4 372.2,629.3 373.6,629.2 375,629.1 376.4,629 377.8,628.9 379.2,628.8 380.6,628.8 382,628.7 383.4,628.6 384.8,628.5 386.2,628.4 387.6,628.3 389.1,628.2 390.5,628.1 391.9,628.1 393.3,628 394.7,627.9 396.1,627.8 397.5,627.7 398.9,627.6 400.3,627.5 401.7,627.4 403.1,627.3 404.5,627.2 406,627.2 407.4,627.1 408.8,627 410.2,626.9 411.6,626.8 413,626.7 414.4,626.6 415.8,626.5 417.2,626.5 418.6,626.4 420,626.3 421.4,626.2 422.8,626.1 424.3,626 425.7,625.9 427.1,625.8 428.5,625.8 429.9,625.7 431.3,625.6 432.7,625.5 434.1,625.4 435.5,625.3 436.9,625.2 438.3,625.2 439.7,625.1 441.2,625 442.6,624.9 444,624.8 445.4,624.7 446.8,624.7 448.2,624.6 449.6,624.5" fill="none" stroke="#FF00FF" stroke-width="1.2"/>
<path d="M93.3 940.8a4.3 4.3 0 1 0 8.6 0a4.3 4.3 0 1 0 -8.6 0M94.7 936.9a4.3 4.3 0 1 0 8.6 0a4.3 4.3 0 1 0 -8.6 0M96.1 931.8a4.3 4.3 0 1 0 8.6 0a4.3 4.3 0 1 0 -8.6 0M97.5 926.1a4.3 4.3 0 1 0 8.6 0a4.3 4.3 0 1 0 -8.6 0M98.9 920.5a4.3 4.3 0 1 0 8.6 0a4.3 4.3 0 1 0 -8.6 0M100.3 914.9a4.3 4.3 0 1 0 8.6 0a4.3 4.3 0 1 0 -8.6 0M101.7 909.3a4.3 4.3 0 1 0 8.6 0a4.3 4.3 0 1 0 -8.6 0M103.2 903.8a4.3 4.3 0 1 0 8.6 0a4.3 4.3 0 1 0 -8.6 0M104.6 898.2a4.3 4.3 0 1 0 8.6 0a4.3 4.3 0 1 0 -8.6 0M106 892.5a4.3 4.3 0 1 0 8.6 0a4.3 4.3 0 1 0 -8.6 0M107.4 886.7a4.3 4.3 0 1 0 8.6 0a4.3 4.3 0 1 0 -8.6 0M108.8 880.9a4.3 4.3 0 1 0 8.6 0a4.3 4.3 0 1 0 -8.6 0M110.2 875.2a4.3 4.3 0 1 0 8.6 0a4.3 4.3 0 1 0 -8.6 0M111.6 869.6a4.3 4.3 0 1 0 8.6 0a4.3 4.3 0 1 0 -8.6 0M113 864.4a4.3 4.3 0 1 0 8.6 0a4.3 4.3 0 1 0 -8.6 0M114.4 859.3a4.3 4.3 0 1 0 8.6 0a4.3 4.3 0 1 0 -8.6 0M115.8 854.5a4.3 4.3 0 1 0 8.6 0a4.3 4.3 0 1 0 -8.6 0M117.2 849.7a4.3 4.3 0 1 0 8.6 0a4.3 4.3 0 1 0 -8.6 0M118.6 845.1a4.3 4.3 0 1 0 8.6 0a4.3 4.3 0 1 0 -8.6 0M120.1 840.5a4.3 4.3 0 1 0 8.6 0a4.3 4.3 0 1 0 -8.6 0M121.5 835.9a4.3 4.3 0 1 0 8.6 0a4.3 4.3 0 1 0 -8.6 0M122.9 831.3a4.3 4.3 0 1 0 8.6 0a4.3 4.3 0 1 0 -8.6 0M124.3 826.7a4.3 4.3 0 1 0 8.6 0a4.3 4.3 0 1 0 -8.6 0M125.7 822a4.3 4.3 0 1 0 8.6 0a4.3 4.3 0 1 0 -8.6 0M127.1 817.5a4.3 4.3 0 1 0 8.6 0a4.3 4.3 0 1 0 -8.6 0M128.5 813a4.3 4.3 0 1 0 8.6 0a4.3 4.3 0 1 0 -8.6 0M129.9 808.6a4.3 4.3 0 1 0 8.6 0a4.3 4.3 0 1 0 -8.6 0M131.3 804.4a4.3 4.3 0 1 0 8.6 0a4.3 4.3 0 1 0 -8.6 0M132.7 800.4a4.3 4.3 0 1 0 8.6 0a4.3 4.3 0 1 0 -8.6 0M134.1 796.6a4.3 4.3 0 1 0 8.6 0a4.3 4.3 0 1 0 -8.6 0M135.5 792.9a4.3 4.3 0 1 0 8.6 0a4.3 4.3 0 1 0 -8.6 0M136.9 789.3a4.3 4.3 0 1 0 8.6 0a4.3 4.3 0 1 0 -8.6 0M138.4 785.9a4.3 4.3 0 1 0 8.6 0a4.3 4.3 0 1 0 -8.6 0M139.8 782.5a4.3 4.3 0 1 0 8.6 0a4.3 4.3 0 1 0 -8.6 0M141.2 779.2a4.3 4.3 0 1 0 8.6 0a4.3 4.3 0 1 0 -8.6 0M142.6 775.9a4.3 4.3 0 1 0 8.6 0a4.3 4.3 0 1 0 -8.6 0M144 772.6a4.3 4.3 0 1 0 8.6 0a4.3 4.3 0 1 0 -8.6 0M145.4 769.4a4.3 4.3 0 1 0 8.6 0a4.3 4.3 0 1 0 -8.6 0M146.8 766.1a4.3 4.3 0 1 0 8.6 0a4.3 4.3 0 1 0 -8.6 0M148.2 762.9a4.3 4.3 0 1 0 8.6 0a4.3 4.3 0 1 0 -8.6 0M149.6 759.5a4.3 4.3 0 1 0 8.6 0a4.3 4.3 0 1 0 -8.6 0M151 756.1a4.3 4.3 0 1 0 8.6 0a4.3 4.3 0 1 0 -8.6 0M152.4 752.7a4.3 4.3 0 1 0 8.6 0a4.3 4.3 0 1 0 -8.6 0M153.8 749.3a4.3 4.3 0 1 0 8.6 0a4.3 4.3 0 1 0 -8.6 0M155.3 745.9a4.3 4.3 0 1 0 8.6 0a4.3 4.3 0 1 0 -8.6 0M156.7 742.6a4.3 4.3 0 1 0 8.6 0a4.3 4.3 0 1 0 -8.6 0M158.1 739.4a4.3 4.3 0 1 0 8.6 0a4.3 4.3 0 1 0 -8.6 0M159.5 736.5a4.3 4.3 0 1 0 8.6 0a4.3 4.3 0 1 0 -8.6 0M160.9 733.7a4.3 4.3 0 1 0 8.6 0a4.3 4.3 0 1 0 -8.6 0M162.3 731.2a4.3 4.3 0 1 0 8.6 0a4.3 4.3 0 1 0 -8.6 0M163.7 728.8a4.3 4.3 0 1 0 8.6 0a4.3 4.3 0 1 0 -8.6 0M165.1 726.5a4.3 4.3 0 1 0 8.6 0a4.3 4.3 0 1 0 -8.6 0M166.5 724.2a4.3 4.3 0 1 0 8.6 0a4.3 4.3 0 1 0 -8.6 0M167.9 721.9a4.3 4.3 0 1 0 8.6 0a4.3 4.3 0 1 0 -8.6 0M169.3 719.5a4.3 4.3 0 1 0 8.6 0a4.3 4.3 0 1 0 -8.6 0M170.7 717.1a4.3 4.3 0 1 0 8.6 0a4.3 4.3 0 1 0 -8.6 0M172.1 714.7a4.3 4.3 0 1 0 8.6 0a4.3 4.3 0 1 0 -8.6 0M173.6 712.3a4.3 4.3 0 1 0 8.6 0a4.3 4.3 0 1 0 -8.6 0M175 709.8a4.3 4.3 0 1 0 8.6 0a4.3 4.3 0 1 0 -8.6 0M176.4 707.4a4.3 4.3 0 1 0 8.6 0a4.3 4.3 0 1 0 -8.6 0M177.8 705a4.3 4.3 0 1 0 8.6 0a4.3 4.3 0 1 0 -8.6 0M179.2 702.7a4.3 4.3 0 1 0 8.6 0a4.3 4.3 0 1 0 -8.6 0M180.6 700.4a4.3 4.3 0 1 0 8.6 0a4.3 4.3 0 1 0 -8.6 0M182 698.1a4.3 4.3 0 1 0 8.6 0a4.3 4.3 0 1 0 -8.6 0M183.4 695.8a4.3 4.3 0 1 0 8.6 0a4.3 4.3 0 1 0 -8.6 0M184.8 693.6a4.3 4.3 0 1 0 8.6 0a4.3 4.3 0 1 0 -8.6 0M186.2 691.4a4.3 4.3 0 1 0 8.6 0a4.3 4.3 0 1 0 -8.6 0M187.6 689.3a4.3 4.3 0 1 0 8.6 0a4.3 4.3 0 1 0 -8.6 0M189 687.3a4.3 4.3 0 1 0 8.6 0a4.3 4.3 0 1 0 -8.6 0M190.5 685.4a4.3 4.3 0 1 0 8.6 0a4.3 4.3 0 1 0 -8.6 0M191.9 683.7a4.3 4.3 0 1 0 8.6 0a4.3 4.3 0 1 0 -8.6 0M193.3 682.1a4.3 4.3 0 1 0 8.6 0a4.3 4.3 0 1 0 -8.6 0M194.7 680.6a4.3 4.3 0 1 0 8.6 0a4.3 4.3 0 1 0 -8.6 0M196.1 679.1a4.3 4.3 0 1 0 8.6 0a4.3 4.3 0 1 0 -8.6 0M197.5 677.7a4.3 4.3 0 1 0 8.6 0a4.3 4.3 0 1 0 -8.6 0M198.9 676.4a4.3 4.3 0 1 0 8.6 0a4.3 4.3 0 1 0 -8.6 0M200.3 675.1a4.3 4.3 0 1 0 8.6 0a4.3 4.3 0 1 0 -8.6 0M201.7 673.8a4.3 4.3 0 1 0 8.6 0a4.3 4.3 0 1 0 -8.6 0M203.1 672.6a4.3 4.3 0 1 0 8.6 0a4.3 4.3 0 1 0 -8.6 0M204.5 671.4a4.3 4.3 0 1 0 8.6 0a4.3 4.3 0 1 0 -8.6 0M205.9 670.3a4.3 4.3 0 1 0 8.6 0a4.3 4.3 0 1 0 -8.6 0M207.3 669.2a4.3 4.3 0 1 0 8.6 0a4.3 4.3 0 1 0 -8.6 0M208.8 668.1a4.3 4.3 0 1 0 8.6 0a4.3 4.3 0 1 0 -8.6 0M210.2 667.1a4.3 4.3 0 1 0 8.6 0a4.3 4.3 0 1 0 -8.6 0M211.6 666.1a4.3 4.3 0 1 0 8.6 0a4.3 4.3 0 1 0 -8.6 0M213 665.1a4.3 4.3 0 1 0 8.6 0a4.3 4.3 0 1 0 -8.6 0M214.4 664.2a4.3 4.3 0 1 0 8.6 0a4.3 4.3 0 1 0 -8.6 0M215.8 663.3a4.3 4.3 0 1 0 8.6 0a4.3 4.3 0 1 0 -8.6 0M217.2 662.4a4.3 4.3 0 1 0 8.6 0a4.3 4.3 0 1 0 -8.6 0M218.6 661.6a4.3 4.3 0 1 0 8.6 0a4.3 4.3 0 1 0 -8.6 0M220 660.7a4.3 4.3 0 1 0 8.6 0a4.3 4.3 0 1 0 -8.6 0M221.4 659.9a4.3 4.3 0 1 0 8.6 0a4.3 4.3 0 1 0 -8.6 0M222.8 659.1a4.3 4.3 0 1 0 8.6 0a4.3 4.3 0 1 0 -8.6 0M224.2 658.3a4.3 4.3 0 1 0 8.6 0a4.3 4.3 0 1 0 -8.6 0M225.7 657.6a4.3 4.3 0 1 0 8.6 0a4.3 4.3 0 1 0 -8.6 0M227.1 656.8a4.3 4.3 0 1 0 8.6 0a4.3 4.3 0 1 0 -8.6 0M228.5 656.1a4.3 4.3 0 1 0 8.6 0a4.3 4.3 0 1 0 -8.6 0M229.9 655.5a4.3 4.3 0 1 0 8.6 0a4.3 4.3 0 1 0 -8.6 0M231.3 654.9a4.3 4.3 0 1 0 8.6 0a4.3 4.3 0 1 0 -8.6 0M232.7 654.3a4.3 4.3 0 1 0 8.6 0a4.3 4.3 0 1 0 -8.6 0M234.1 653.7a4.3 4.3 0 1 0 8.6 0a4.3 4.3 0 1 0 -8.6 0M235.5 653.1a4.3 4.3 0 1 0 8.6 0a4.3 4.3 0 1 0 -8.6 0M236.9 652.6a4.3 4.3 0 1 0 8.6 0a4.3 4.3 0 1 0 -8.6 0M238.3 652.1a4.3 4.3 0 1 0 8.6 0a4.3 4.3 0 1 0 -8.6 0M239.7 651.6a4.3 4.3 0 1 0 8.6 0a4.3 4.3 0 1 0 -8.6 0M241.1 651.1a4.3 4.3 0 1 0 8.6 0a4.3 4.3 0 1 0 -8.6 0M242.5 650.6a4.3 4.3 0 1 0 8.6 0a4.3 4.3 0 1 0 -8.6 0M244 650.2a4.3 4.3 0 1 0 8.6 0a4.3 4.3 0 1 0 -8.6 0M245.4 649.7a4.3 4.3 0 1 0 8.6 0a4.3 4.3 0 1 0 -8.6 0M246.8 649.3a4.3 4.3 0 1 0 8.6 0a4.3 4.3 0 1 0 -8.6 0M248.2 648.9a4.3 4.3 0 1 0 8.6 0a4.3 4.3 0 1 0 -8.6 0M249.6 648.4a4.3 4.3 0 1 0 8.6 0a4.3 4.3 0 1 0 -8.6 0M251 648a4.3 4.3 0 1 0 8.6 0a4.3 4.3 0 1 0 -8.6 0M252.4 647.6a4.3 4.3 0 1 0 8.6 0a4.3 4.3 0 1 0 -8.6 0M253.8 647.2a4.3 4.3 0 1 0 8.6 0a4.3 4.3 0 1 0 -8.6 0M255.2 646.8a4.3 4.3 0 1 0 8.6 0a4.3 4.3 0 1 0 -8.6 0M256.6 646.4a4.3 4.3 0 1 0 8.6 0a4.3 4.3 0 1 0 -8.6 0M258 646a4.3 4.3 0 1 0 8.6 0a4.3 4.3 0 1 0 -8.6 0M259.4 645.6a4.3 4.3 0 1 0 8.6 0a4.3 4.3 0 1 0 -8.6 0M260.9 645.3a4.3 4.3 0 1 0 8.6 0a4.3 4.3 0 1 0 -8.6 0M262.3 644.9a4.3 4.3 0 1 0 8.6 0a4.3 4.3 0 1 0 -8.6 0M263.7 644.5a4.3 4.3 0 1 0 8.6 0a4.3 4.3 0 1 0 -8.6 0M265.1 644.2a4.3 4.3 0 1 0 8.6 0a4.3 4.3 0 1 0 -8.6 0M266.5 643.8a4.3 4.3 0 1 0 8.6 0a4.3 4.3 0 1 0 -8.6 0M267.9 643.5a4.3 4.3 0 1 0 8.6 0a4.3 4.3 0 1 0 -8.6 0M269.3 643.2a4.3 4.3 0 1 0 8.6 0a4.3 4.3 0 1 0 -8.6 0M270.7 642.8a4.3 4.3 0 1 0 8.6 0a4.3 4.3 0 1 0 -8.6 0M272.1 642.5a4.3 4.3 0 1 0 8.6 0a4.3 4.3 0 1 0 -8.6 0M273.5 642.2a4.3 4.3 0 1 0 8.6 0a4.3 4.3 0 1 0 -8.6 0M274.9 641.9a4.3 4.3 0 1 0 8.6 0a4.3 4.3 0 1 0 -8.6 0M276.3 641.5a4.3 4.3 0 1 0 8.6 0a4.3 4.3 0 1 0 -8.6 0M277.7 641.2a4.3 4.3 0 1 0 8.6 0a4.3 4.3 0 1 0 -8.6 0M279.2 640.9a4.3 4.3 0 1 0 8.6 0a4.3 4.3 0 1 0 -8.6 0M280.6 640.6a4.3 4.3 0 1 0 8.6 0a4.3 4.3 0 1 0 -8.6 0M282 640.3a4.3 4.3 0 1 0 8.6 0a4.3 4.3 0 1 0 -8.6 0M283.4 640a4.3 4.3 0 1 0 8.6 0a4.3 4.3 0 1 0 -8.6 0M284.8 639.7a4.3 4.3 0 1 0 8.6 0a4.3 4.3 0 1 0 -8.6 0M286.2 639.4a4.3 4.3 0 1 0 8.6 0a4.3 4.3 0 1 0 -8.6 0M287.6 639.1a4.3 4.3 0 1 0 8.6 0a4.3 4.3 0 1 0 -8.6 0M289 638.8a4.3 4.3 0 1 0 8.6 0a4.3 4.3 0 1 0 -8.6 0M290.4 638.5a4.3 4.3 0 1 0 8.6 0a4.3 4.3 0 1 0 -8.6 0M291.8 638.2a4.3 4.3 0 1 0 8.6 0a4.3 4.3 0 1 0 -8.6 0M293.2 637.9a4.3 4.3 0 1 0 8.6 0a4.3 4.3 0 1 0 -8.6 0M294.6 637.6a4.3 4.3 0 1 0 8.6 0a4.3 4.3 0 1 0 -8.6 0M296.1 637.3a4.3 4.3 0 1 0 8.6 0a4.3 4.3 0 1 0 -8.6 0M297.5 637.1a4.3 4.3 0 1 0 8.6 0a4.3 4.3 0 1 0 -8.6 0M298.9 636.8a4.3 4.3 0 1 0 8.6 0a4.3 4.3 0 1 0 -8.6 0M300.3 636.5a4.3 4.3 0 1 0 8.6 0a4.3 4.3 0 1 0 -8.6 0M301.7 636.3a4.3 4.3 0 1 0 8.6 0a4.3 4.3 0 1 0 -8.6 0M303.1 636.1a4.3 4.3 0 1 0 8.6 0a4.3 4.3 0 1 0 -8.6 0M304.5 635.8a4.3 4.3 0 1 0 8.6 0a4.3 4.3 0 1 0 -8.6 0M305.9 635.6a4.3 4.3 0 1 0 8.6 0a4.3 4.3 0 1 0 -8.6 0M307.3 635.4a4.3 4.3 0 1 0 8.6 0a4.3 4.3 0 1 0 -8.6 0M308.7 635.2a4.3 4.3 0 1 0 8.6 0a4.3 4.3 0 1 0 -8.6 0M310.1 635a4.3 4.3 0 1 0 8.6 0a4.3 4.3 0 1 0 -8.6 0M311.5 634.8a4.3 4.3 0 1 0 8.6 0a4.3 4.3 0 1 0 -8.6 0M312.9 634.6a4.3 4.3 0 1 0 8.6 0a4.3 4.3 0 1 0 -8.6 0M314.4 634.4a4.3 4.3 0 1 0 8.6 0a4.3 4.3 0 1 0 -8.6 0M315.8 634.2a4.3 4.3 0 1 0 8.6 0a4.3 4.3 0 1 0 -8.6 0M317.2 634a4.3 4.3 0 1 0 8.6 0a4.3 4.3 0 1 0 -8.6 0M318.6 633.9a4.3 4.3 0 1 0 8.6 0a4.3 4.3 0 1 0 -8.6 0M320 633.7a4.3 4.3 0 1 0 8.6 0a4.3 4.3 0 1 0 -8.6 0M321.4 633.5a4.3 4.3 0 1 0 8.6 0a4.3 4.3 0 1 0 -8.6 0M322.8 633.3a4.3 4.3 0 1 0 8.6 0a4.3 4.3 0 1 0 -8.6 0M324.2 633.2a4.3 4.3 0 1 0 8.6 0a4.3 4.3 0 1 0 -8.6 0M325.6 633a4.3 4.3 0 1 0 8.6 0a4.3 4.3 0 1 0 -8.6 0M327 632.8a4.3 4.3 0 1 0 8.6 0a4.3 4.3 0 1 0 -8.6 0M328.4 632.7a4.3 4.3 0 1 0 8.6 0a4.3 4.3 0 1 0 -8.6 0M329.8 632.5a4.3 4.3 0 1 0 8.6 0a4.3 4.3 0 1 0 -8.6 0M331.3 632.4a4.3 4.3 0 1 0 8.6 0a4.3 4.3 0 1 0 -8.6 0M332.7 632.2a4.3 4.3 0 1 0 8.6 0a4.3 4.3 0 1 0 -8.6 0M334.1 632.1a4.3 4.3 0 1 0 8.6 0a4.3 4.3 0 1 0 -8.6 0M335.5 631.9a4.3 4.3 0 1 0 8.6 0a4.3 4.3 0 1 0 -8.6 0M336.9 631.8a4.3 4.3 0 1 0 8.6 0a4.3 4.3 0 1 0 -8.6 0M338.3 631.7a4.3 4.3 0 1 0 8.6 0a4.3 4.3 0 1 0 -8.6 0M339.7 631.5a4.3 4.3 0 1 0 8.6 0a4.3 4.3 0 1 0 -8.6 0M341.1 631.4a4.3 4.3 0 1 0 8.6 0a4.3 4.3 0 1 0 -8.6 0M342.5 631.2a4.3 4.3 0 1 0 8.6 0a4.3 4.3 0 1 0 -8.6 0M343.9 631.1a4.3 4.3 0 1 0 8.6 0a4.3 4.3 0 1 0 -8.6 0M345.3 631a4.3 4.3 0 1 0 8.6 0a4.3 4.3 0 1 0 -8.6 0M346.7 630.9a4.3 4.3 0 1 0 8.6 0a4.3 4.3 0 1 0 -8.6 0M348.1 630.7a4.3 4.3 0 1 0 8.6 0a4.3 4.3 0 1 0 -8.6 0M349.6 630.6a4.3 4.3 0 1 0 8.6 0a4.3 4.3 0 1 0 -8.6 0M351 630.5a4.3 4.3 0 1 0 8.6 0a4.3 4.3 0 1 0 -8.6 0M352.4 630.4a4.3 4.3 0 1 0 8.6 0a4.3 4.3 0 1 0 -8.6 0M353.8 630.3a4.3 4.3 0 1 0 8.6 0a4.3 4.3 0 1 0 -8.6 0M355.2 630.2a4.3 4.3 0 1 0 8.6 0a4.3 4.3 0 1 0 -8.6 0M356.6 630.1a4.3 4.3 0 1 0 8.6 0a4.3 4.3 0 1 0 -8.6 0M358 630a4.3 4.3 0 1 0 8.6 0a4.3 4.3 0 1 0 -8.6 0M359.4 629.9a4.3 4.3 0 1 0 8.6 0a4.3 4.3 0 1 0 -8.6 0M360.8 629.8a4.3 4.3 0 1 0 8.6 0a4.3 4.3 0 1 0 -8.6 0M362.2 629.7a4.3 4.3 0 1 0 8.6 0a4.3 4.3 0 1 0 -8.6 0M363.6 629.6a4.3 4.3 0 1 0 8.6 0a4.3 4.3 0 1 0 -8.6 0M365 629.5a4.3 4.3 0 1 0 8.6 0a4.3 4.3 0 1 0 -8.6 0M366.5 629.4a4.3 4.3 0 1 0 8.6 0a4.3 4.3 0 1 0 -8.6 0M367.9 629.3a4.3 4.3 0 1 0 8.6 0a4.3 4.3 0 1 0 -8.6 0M369.3 629.2a4.3 4.3 0 1 0 8.6 0a4.3 4.3 0 1 0 -8.6 0M370.7 629.1a4.3 4.3 0 1 0 8.6 0a4.3 4.3 0 1 0 -8.6 0M372.1 629a4.3 4.3 0 1 0 8.6 0a4.3 4.3 0 1 0 -8.6 0M373.5 628.9a4.3 4.3 0 1 0 8.6 0a4.3 4.3 0 1 0 -8.6 0M374.9 628.8a4.3 4.3 0 1 0 8.6 0a4.3 4.3 0 1 0 -8.6 0M376.3 628.8a4.3 4.3 0 1 0 8.6 0a4.3 4.3 0 1 0 -8.6 0M377.7 628.7a4.3 4.3 0 1 0 8.6 0a4.3 4.3 0 1 0 -8.6 0M379.1 628.6a4.3 4.3 0 1 0 8.6 0a4.3 4.3 0 1 0 -8.6 0M380.5 628.5a4.3 4.3 0 1 0 8.6 0a4.3 4.3 0 1 0 -8.6 0M381.9 628.4a4.3 4.3 0 1 0 8.6 0a4.3 4.3 0 1 0 -8.6 0M383.3 628.3a4.3 4.3 0 1 0 8.6 0a4.3 4.3 0 1 0 -8.6 0M384.8 628.2a4.3 4.3 0 1 0 8.6 0a4.3 4.3 0 1 0 -8.6 0M386.2 628.1a4.3 4.3 0 1 0 8.6 0a4.3 4.3 0 1 0 -8.6 0M387.6 628.1a4.3 4.3 0 1 0 8.6 0a4.3 4.3 0 1 0 -8.6 0M389 628a4.3 4.3 0 1 0 8.6 0a4.3 4.3 0 1 0 -8.6 0M390.4 627.9a4.3 4.3 0 1 0 8.6 0a4.3 4.3 0 1 0 -8.6 0M391.8 627.8a4.3 4.3 0 1 0 8.6 0a4.3 4.3 0 1 0 -8.6 0M393.2 627.7a4.3 4.3 0 1 0 8.6 0a4.3 4.3 0 1 0 -8.6 0M394.6 627.6a4.3 4.3 0 1 0 8.6 0a4.3 4.3 0 1 0 -8.6 0M396 627.5a4.3 4.3 0 1 0 8.6 0a4.3 4.3 0 1 0 -8.6 0M397.4 627.4a4.3 4.3 0 1 0 8.6 0a4.3 4.3 0 1 0 -8.6 0M398.8 627.3a4.3 4.3 0 1 0 8.6 0a4.3 4.3 0 1 0 -8.6 0M400.2 627.2a4.3 4.3 0 1 0 8.6 0a4.3 4.3 0 1 0 -8.6 0M401.7 627.2a4.3 4.3 0 1 0 8.6 0a4.3 4.3 0 1 0 -8.6 0M403.1 627.1a4.3 4.3 0 1 0 8.6 0a4.3 4.3 0 1 0 -8.6 0M404.5 627a4.3 4.3 0 1 0 8.6 0a4.3 4.3 0 1 0 -8.6 0M405.9 626.9a4.3 4.3 0 1 0 8.6 0a4.3 4.3 0 1 0 -8.6 0M407.3 626.8a4.3 4.3 0 1 0 8.6 0a4.3 4.3 0 1 0 -8.6 0M408.7 626.7a4.3 4.3 0 1 0 8.6 0a4.3 4.3 0 1 0 -8.6 0M410.1 626.6a4.3 4.3 0 1 0 8.6 0a4.3 4.3 0 1 0 -8.6 0M411.5 626.5a4.3 4.3 0 1 0 8.6 0a4.3 4.3 0 1 0 -8.6 0M412.9 626.5a4.3 4.3 0 1 0 8.6 0a4.3 4.3 0 1 0 -8.6 0M414.3 626.4a4.3 4.3 0 1 0 8.6 0a4.3 4.3 0 1 0 -8.6 0M415.7 626.3a4.3 4.3 0 1 0 8.6 0a4.3 4.3 0 1 0 -8.6 0M417.1 626.2a4.3 4.3 0 1 0 8.6 0a4.3 4.3 0 1 0 -8.6 0M418.5 626.1a4.3 4.3 0 1 0 8.6 0a4.3 4.3 0 1 0 -8.6 0M420 626a4.3 4.3 0 1 0 8.6 0a4.3 4.3 0 1 0 -8.6 0M421.4 625.9a4.3 4.3 0 1 0 8.6 0a4.3 4.3 0 1 0 -8.6 0M422.8 625.8a4.3 4.3 0 1 0 8.6 0a4.3 4.3 0 1 0 -8.6 0M424.2 625.8a4.3 4.3 0 1 0 8.6 0a4.3 4.3 0 1 0 -8.6 0M425.6 625.7a4.3 4.3 0 1 0 8.6 0a4.3 4.3 0 1 0 -8.6 0M427 625.6a4.3 4.3 0 1 0 8.6 0a4.3 4.3 0 1 0 -8.6 0M428.4 625.5a4.3 4.3 0 1 0 8.6 0a4.3 4.3 0 1 0 -8.6 0M429.8 625.4a4.3 4.3 0 1 0 8.6 0a4.3 4.3 0 1 0 -8.6 0M431.2 625.3a4.3 4.3 0 1 0 8.6 0a4.3 4.3 0 1 0 -8.6 0M432.6 625.2a4.3 4.3 0 1 0 8.6 0a4.3 4.3 0 1 0 -8.6 0M434 625.2a4.3 4.3 0 1 0 8.6 0a4.3 4.3 0 1 0 -8.6 0M435.4 625.1a4.3 4.3 0 1 0 8.6 0a4.3 4.3 0 1 0 -8.6 0M436.9 625a4.3 4.3 0 1 0 8.6 0a4.3 4.3 0 1 0 -8.6 0M438.3 624.9a4.3 4.3 0 1 0 8.6 0a4.3 4.3 0 1 0 -8.6 0M439.7 624.8a4.3 4.3 0 1 0 8.6 0a4.3 4.3 0 1 0 -8.6 0M441.1 624.7a4.3 4.3 0 1 0 8.6 0a4.3 4.3 0 1 0 -8.6 0M442.5 624.7a4.3 4.3 0 1 0 8.6 0a4.3 4.3 0 1 0 -8.6 0M443.9 624.6a4.3 4.3 0 1 0 8.6 0a4.3 4.3 0 1 0 -8.6 0M445.3 624.5a4.3 4.3 0 1 0 8.6 0a4.3 4.3 0 1 0 -8.6 0" fill="#FF00FF"/>
<path d="M95.3 940h4.6v1.6h-4.6zM98.1 931h4.6v1.6h-4.6zM100.9 919.7h4.6v1.6h-4.6zM103.7 908.5h4.6v1.6h-4.6zM106.6 897.4h4.6v1.6h-4.6zM109.4 885.9h4.6v1.6h-4.6zM112.2 874.4h4.6v1.6h-4.6zM115 863.6h4.6v1.6h-4.6zM117.8 853.7h4.6v1.6h-4.6zM120.6 844.3h4.6v1.6h-4.6zM123.5 835.1h4.6v1.6h-4.6zM126.3 825.9h4.6v1.6h-4.6zM129.1 816.7h4.6v1.6h-4.6zM131.9 807.8h4.6v1.6h-4.6zM134.7 799.6h4.6v1.6h-4.6zM137.5 792.1h4.6v1.6h-4.6zM140.4 785.1h4.6v1.6h-4.6zM143.2 778.4h4.6v1.6h-4.6zM146 771.8h4.6v1.6h-4.6zM148.8 765.3h4.6v1.6h-4.6zM151.6 758.7h4.6v1.6h-4.6zM154.4 751.9h4.6v1.6h-4.6zM157.3 745.1h4.6v1.6h-4.6zM160.1 738.6h4.6v1.6h-4.6zM162.9 732.9h4.6v1.6h-4.6zM165.7 728h4.6v1.6h-4.6zM168.5 723.4h4.6v1.6h-4.6zM171.3 718.7h4.6v1.6h-4.6zM174.1 713.9h4.6v1.6h-4.6zM177 709h4.6v1.6h-4.6zM179.8 704.2h4.6v1.6h-4.6zM182.6 699.6h4.6v1.6h-4.6zM185.4 695h4.6v1.6h-4.6zM188.2 690.6h4.6v1.6h-4.6zM191 686.5h4.6v1.6h-4.6zM193.9 682.9h4.6v1.6h-4.6zM196.7 679.8h4.6v1.6h-4.6zM199.5 676.9h4.6v1.6h-4.6zM202.3 674.3h4.6v1.6h-4.6zM205.1 671.8h4.6v1.6h-4.6zM207.9 669.5h4.6v1.6h-4.6zM210.8 667.3h4.6v1.6h-4.6zM213.6 665.3h4.6v1.6h-4.6zM216.4 663.4h4.6v1.6h-4.6zM219.2 661.6h4.6v1.6h-4.6zM222 659.9h4.6v1.6h-4.6zM224.8 658.3h4.6v1.6h-4.6zM227.7 656.8h4.6v1.6h-4.6zM230.5 655.3h4.6v1.6h-4.6zM233.3 654.1h4.6v1.6h-4.6zM236.1 652.9h4.6v1.6h-4.6zM238.9 651.8h4.6v1.6h-4.6zM241.7 650.8h4.6v1.6h-4.6zM244.5 649.8h4.6v1.6h-4.6zM247.4 648.9h4.6v1.6h-4.6zM250.2 648.1h4.6v1.6h-4.6zM253 647.2h4.6v1.6h-4.6zM255.8 646.4h4.6v1.6h-4.6zM258.6 645.6h4.6v1.6h-4.6zM261.4 644.8h4.6v1.6h-4.6zM264.3 644.1h4.6v1.6h-4.6zM267.1 643.4h4.6v1.6h-4.6zM269.9 642.7h4.6v1.6h-4.6zM272.7 642h4.6v1.6h-4.6zM275.5 641.4h4.6v1.6h-4.6zM278.3 640.7h4.6v1.6h-4.6zM281.2 640.1h4.6v1.6h-4.6zM284 639.5h4.6v1.6h-4.6zM286.8 638.9h4.6v1.6h-4.6zM289.6 638.3h4.6v1.6h-4.6zM292.4 637.7h4.6v1.6h-4.6zM295.2 637.1h4.6v1.6h-4.6zM298.1 636.5h4.6v1.6h-4.6zM300.9 636h4.6v1.6h-4.6zM303.7 635.5h4.6v1.6h-4.6zM306.5 635h4.6v1.6h-4.6zM309.3 634.6h4.6v1.6h-4.6zM312.1 634.2h4.6v1.6h-4.6zM314.9 633.8h4.6v1.6h-4.6zM317.8 633.4h4.6v1.6h-4.6zM320.6 633.1h4.6v1.6h-4.6zM323.4 632.7h4.6v1.6h-4.6zM326.2 632.4h4.6v1.6h-4.6zM329 632h4.6v1.6h-4.6zM331.8 631.7h4.6v1.6h-4.6zM334.7 631.4h4.6v1.6h-4.6zM337.5 631.1h4.6v1.6h-4.6zM340.3 630.9h4.6v1.6h-4.6zM343.1 630.6h4.6v1.6h-4.6zM345.9 630.3h4.6v1.6h-4.6zM348.7 630.1h4.6v1.6h-4.6zM351.6 629.8h4.6v1.6h-4.6zM354.4 629.6h4.6v1.6h-4.6zM357.2 629.4h4.6v1.6h-4.6zM360 629.2h4.6v1.6h-4.6zM362.8 629h4.6v1.6h-4.6zM365.6 628.8h4.6v1.6h-4.6zM368.5 628.6h4.6v1.6h-4.6zM371.3 628.4h4.6v1.6h-4.6zM374.1 628.2h4.6v1.6h-4.6zM376.9 628h4.6v1.6h-4.6zM379.7 627.9h4.6v1.6h-4.6zM382.5 627.7h4.6v1.6h-4.6zM385.3 627.5h4.6v1.6h-4.6zM388.2 627.3h4.6v1.6h-4.6zM391 627.2h4.6v1.6h-4.6zM393.8 627h4.6v1.6h-4.6zM396.6 626.8h4.6v1.6h-4.6zM399.4 626.6h4.6v1.6h-4.6zM402.2 626.4h4.6v1.6h-4.6zM405.1 626.3h4.6v1.6h-4.6zM407.9 626.1h4.6v1.6h-4.6zM410.7 625.9h4.6v1.6h-4.6zM413.5 625.7h4.6v1.6h-4.6zM416.3 625.6h4.6v1.6h-4.6zM419.1 625.4h4.6v1.6h-4.6zM422 625.2h4.6v1.6h-4.6zM424.8 625h4.6v1.6h-4.6zM427.6 624.9h4.6v1.6h-4.6zM430.4 624.7h4.6v1.6h-4.6zM433.2 624.5h4.6v1.6h-4.6zM436 624.4h4.6v1.6h-4.6zM438.9 624.2h4.6v1.6h-4.6zM441.7 624h4.6v1.6h-4.6zM444.5 623.9h4.6v1.6h-4.6zM447.3 623.7h4.6v1.6h-4.6z" fill="#000"/>
<path d="M95.3 940.4h4.6v1.6h-4.6zM98.1 932.7h4.6v1.6h-4.6zM100.9 923.1h4.6v1.6h-4.6zM103.7 913.7h4.6v1.6h-4.6zM106.6 904.6h4.6v1.6h-4.6zM109.4 895.8h4.6v1.6h-4.6zM112.2 887.3h4.6v1.6h-4.6zM115 879.2h4.6v1.6h-4.6zM117.8 871.3h4.6v1.6h-4.6zM120.6 863.5h4.6v1.6h-4.6zM123.5 855.7h4.6v1.6h-4.6zM126.3 848h4.6v1.6h-4.6zM129.1 840.2h4.6v1.6h-4.6zM131.9 832.4h4.6v1.6h-4.6zM134.7 824.6h4.6v1.6h-4.6zM137.5 817h4.6v1.6h-4.6zM140.4 809.8h4.6v1.6h-4.6zM143.2 803h4.6v1.6h-4.6zM146 796.3h4.6v1.6h-4.6zM148.8 789.3h4.6v1.6h-4.6zM151.6 782.2h4.6v1.6h-4.6zM154.4 775h4.6v1.6h-4.6zM157.3 767.8h4.6v1.6h-4.6zM160.1 760.7h4.6v1.6h-4.6zM162.9 753.6h4.6v1.6h-4.6zM165.7 746.7h4.6v1.6h-4.6zM168.5 740.7h4.6v1.6h-4.6zM171.3 735.9h4.6v1.6h-4.6zM174.1 731.8h4.6v1.6h-4.6zM177 728.2h4.6v1.6h-4.6zM179.8 724.9h4.6v1.6h-4.6zM182.6 721.9h4.6v1.6h-4.6zM185.4 719.1h4.6v1.6h-4.6zM188.2 716.5h4.6v1.6h-4.6zM191 714.2h4.6v1.6h-4.6zM193.9 711.9h4.6v1.6h-4.6zM196.7 709.8h4.6v1.6h-4.6zM199.5 707.9h4.6v1.6h-4.6zM202.3 706.1h4.6v1.6h-4.6zM205.1 704.6h4.6v1.6h-4.6zM207.9 703.3h4.6v1.6h-4.6zM210.8 702h4.6v1.6h-4.6zM213.6 700.9h4.6v1.6h-4.6zM216.4 699.8h4.6v1.6h-4.6zM219.2 698.8h4.6v1.6h-4.6zM222 697.9h4.6v1.6h-4.6zM224.8 697h4.6v1.6h-4.6zM227.7 696.2h4.6v1.6h-4.6zM230.5 695.5h4.6v1.6h-4.6zM233.3 694.8h4.6v1.6h-4.6zM236.1 694.1h4.6v1.6h-4.6zM238.9 693.5h4.6v1.6h-4.6zM241.7 693h4.6v1.6h-4.6zM244.5 692.4h4.6v1.6h-4.6zM247.4 691.9h4.6v1.6h-4.6zM250.2 691.4h4.6v1.6h-4.6zM253 691h4.6v1.6h-4.6zM255.8 690.5h4.6v1.6h-4.6zM258.6 690.1h4.6v1.6h-4.6zM261.4 689.6h4.6v1.6h-4.6zM264.3 689.2h4.6v1.6h-4.6zM267.1 688.8h4.6v1.6h-4.6zM269.9 688.4h4.6v1.6h-4.6zM272.7 688h4.6v1.6h-4.6zM275.5 687.7h4.6v1.6h-4.6zM278.3 687.3h4.6v1.6h-4.6zM281.2 686.9h4.6v1.6h-4.6zM284 686.6h4.6v1.6h-4.6zM286.8 686.3h4.6v1.6h-4.6zM289.6 685.9h4.6v1.6h-4.6zM292.4 685.6h4.6v1.6h-4.6zM295.2 685.2h4.6v1.6h-4.6zM298.1 684.9h4.6v1.6h-4.6zM300.9 684.5h4.6v1.6h-4.6zM303.7 684.2h4.6v1.6h-4.6zM306.5 683.8h4.6v1.6h-4.6zM309.3 683.4h4.6v1.6h-4.6zM312.1 683.1h4.6v1.6h-4.6zM314.9 682.7h4.6v1.6h-4.6zM317.8 682.3h4.6v1.6h-4.6zM320.6 682h4.6v1.6h-4.6zM323.4 681.6h4.6v1.6h-4.6zM326.2 681.2h4.6v1.6h-4.6zM329 680.9h4.6v1.6h-4.6zM331.8 680.5h4.6v1.6h-4.6zM334.7 680.2h4.6v1.6h-4.6zM337.5 679.9h4.6v1.6h-4.6zM340.3 679.5h4.6v1.6h-4.6zM343.1 679.2h4.6v1.6h-4.6zM345.9 678.9h4.6v1.6h-4.6zM348.7 678.6h4.6v1.6h-4.6zM351.6 678.4h4.6v1.6h-4.6zM354.4 678.1h4.6v1.6h-4.6zM357.2 677.8h4.6v1.6h-4.6zM360 677.6h4.6v1.6h-4.6zM362.8 677.4h4.6v1.6h-4.6zM365.6 677.1h4.6v1.6h-4.6zM368.5 676.9h4.6v1.6h-4.6zM371.3 676.7h4.6v1.6h-4.6zM374.1 676.5h4.6v1.6h-4.6zM376.9 676.3h4.6v1.6h-4.6zM379.7 676.1h4.6v1.6h-4.6zM382.5 675.9h4.6v1.6h-4.6zM385.3 675.7h4.6v1.6h-4.6zM388.2 675.5h4.6v1.6h-4.6zM391 675.2h4.6v1.6h-4.6zM393.8 675h4.6v1.6h-4.6zM396.6 674.8h4.6v1.6h-4.6zM399.4 674.6h4.6v1.6h-4.6zM402.2 674.3h4.6v1.6h-4.6zM405.1 674.1h4.6v1.6h-4.6zM407.9 673.9h4.6v1.6h-4.6zM410.7 673.7h4.6v1.6h-4.6zM413.5 673.4h4.6v1.6h-4.6zM416.3 673.2h4.6v1.6h-4.6zM419.1 673h4.6v1.6h-4.6zM422 672.8h4.6v1.6h-4.6zM424.8 672.5h4.6v1.6h-4.6zM427.6 672.3h4.6v1.6h-4.6zM430.4 672.1h4.6v1.6h-4.6zM433.2 671.9h4.6v1.6h-4.6zM436 671.6h4.6v1.6h-4.6zM438.9 671.4h4.6v1.6h-4.6zM441.7 671.2h4.6v1.6h-4.6zM444.5 670.9h4.6v1.6h-4.6zM447.3 670.8h4.6v1.6h-4.6z" fill="#000"/>
<path d="M95.3 940.4h4.6v1.6h-4.6zM98.1 932.8h4.6v1.6h-4.6zM100.9 923.3h4.6v1.6h-4.6zM103.7 914h4.6v1.6h-4.6zM106.6 905.1h4.6v1.6h-4.6zM109.4 896.4h4.6v1.6h-4.6zM112.2 888.1h4.6v1.6h-4.6zM115 880.2h4.6v1.6h-4.6zM117.8 872.6h4.6v1.6h-4.6zM120.6 865h4.6v1.6h-4.6zM123.5 857.4h4.6v1.6h-4.6zM126.3 849.7h4.6v1.6h-4.6zM129.1 842.1h4.6v1.6h-4.6zM131.9 834.2h4.6v1.6h-4.6zM134.7 826.3h4.6v1.6h-4.6zM137.5 818.8h4.6v1.6h-4.6zM140.4 811.9h4.6v1.6h-4.6zM143.2 805.5h4.6v1.6h-4.6zM146 799.5h4.6v1.6h-4.6zM148.8 793.8h4.6v1.6h-4.6zM151.6 788.4h4.6v1.6h-4.6zM154.4 783.3h4.6v1.6h-4.6zM157.3 778.5h4.6v1.6h-4.6zM160.1 774h4.6v1.6h-4.6zM162.9 769.8h4.6v1.6h-4.6zM165.7 765.8h4.6v1.6h-4.6zM168.5 761.9h4.6v1.6h-4.6zM171.3 758h4.6v1.6h-4.6zM174.1 754.2h4.6v1.6h-4.6zM177 750.7h4.6v1.6h-4.6zM179.8 747.7h4.6v1.6h-4.6zM182.6 744.9h4.6v1.6h-4.6zM185.4 742.5h4.6v1.6h-4.6zM188.2 740.4h4.6v1.6h-4.6zM191 738.5h4.6v1.6h-4.6zM193.9 736.8h4.6v1.6h-4.6zM196.7 735.3h4.6v1.6h-4.6zM199.5 733.9h4.6v1.6h-4.6zM202.3 732.7h4.6v1.6h-4.6zM205.1 731.7h4.6v1.6h-4.6zM207.9 730.7h4.6v1.6h-4.6zM210.8 729.9h4.6v1.6h-4.6zM213.6 729.1h4.6v1.6h-4.6zM216.4 728.3h4.6v1.6h-4.6zM219.2 727.6h4.6v1.6h-4.6zM222 726.9h4.6v1.6h-4.6zM224.8 726.3h4.6v1.6h-4.6zM227.7 725.6h4.6v1.6h-4.6zM230.5 725h4.6v1.6h-4.6zM233.3 724.5h4.6v1.6h-4.6zM236.1 723.9h4.6v1.6h-4.6zM238.9 723.4h4.6v1.6h-4.6zM241.7 722.9h4.6v1.6h-4.6zM244.5 722.5h4.6v1.6h-4.6zM247.4 722h4.6v1.6h-4.6zM250.2 721.6h4.6v1.6h-4.6zM253 721.1h4.6v1.6h-4.6zM255.8 720.7h4.6v1.6h-4.6zM258.6 720.3h4.6v1.6h-4.6zM261.4 719.9h4.6v1.6h-4.6zM264.3 719.5h4.6v1.6h-4.6zM267.1 719.1h4.6v1.6h-4.6zM269.9 718.8h4.6v1.6h-4.6zM272.7 718.4h4.6v1.6h-4.6zM275.5 718h4.6v1.6h-4.6zM278.3 717.7h4.6v1.6h-4.6zM281.2 717.3h4.6v1.6h-4.6zM284 717h4.6v1.6h-4.6zM286.8 716.6h4.6v1.6h-4.6zM289.6 716.3h4.6v1.6h-4.6zM292.4 715.9h4.6v1.6h-4.6zM295.2 715.6h4.6v1.6h-4.6zM298.1 715.2h4.6v1.6h-4.6zM300.9 714.9h4.6v1.6h-4.6zM303.7 714.6h4.6v1.6h-4.6zM306.5 714.2h4.6v1.6h-4.6zM309.3 713.9h4.6v1.6h-4.6zM312.1 713.5h4.6v1.6h-4.6zM314.9 713.2h4.6v1.6h-4.6zM317.8 712.9h4.6v1.6h-4.6zM320.6 712.6h4.6v1.6h-4.6zM323.4 712.2h4.6v1.6h-4.6zM326.2 711.9h4.6v1.6h-4.6zM329 711.6h4.6v1.6h-4.6zM331.8 711.3h4.6v1.6h-4.6zM334.7 711h4.6v1.6h-4.6zM337.5 710.7h4.6v1.6h-4.6zM340.3 710.4h4.6v1.6h-4.6zM343.1 710.2h4.6v1.6h-4.6zM345.9 709.9h4.6v1.6h-4.6zM348.7 709.7h4.6v1.6h-4.6zM351.6 709.4h4.6v1.6h-4.6zM354.4 709.2h4.6v1.6h-4.6zM357.2 709h4.6v1.6h-4.6zM360 708.8h4.6v1.6h-4.6zM362.8 708.6h4.6v1.6h-4.6zM365.6 708.4h4.6v1.6h-4.6zM368.5 708.2h4.6v1.6h-4.6zM371.3 708h4.6v1.6h-4.6zM374.1 707.8h4.6v1.6h-4.6zM376.9 707.7h4.6v1.6h-4.6zM379.7 707.5h4.6v1.6h-4.6zM382.5 707.3h4.6v1.6h-4.6zM385.3 707.1h4.6v1.6h-4.6zM388.2 706.9h4.6v1.6h-4.6zM391 706.7h4.6v1.6h-4.6zM393.8 706.6h4.6v1.6h-4.6zM396.6 706.4h4.6v1.6h-4.6zM399.4 706.2h4.6v1.6h-4.6zM402.2 706h4.6v1.6h-4.6zM405.1 705.8h4.6v1.6h-4.6zM407.9 705.6h4.6v1.6h-4.6zM410.7 705.4h4.6v1.6h-4.6zM413.5 705.2h4.6v1.6h-4.6zM416.3 705h4.6v1.6h-4.6zM419.1 704.8h4.6v1.6h-4.6zM422 704.6h4.6v1.6h-4.6zM424.8 704.5h4.6v1.6h-4.6zM427.6 704.3h4.6v1.6h-4.6zM430.4 704.1h4.6v1.6h-4.6zM433.2 703.9h4.6v1.6h-4.6zM436 703.7h4.6v1.6h-4.6zM438.9 703.5h4.6v1.6h-4.6zM441.7 703.3h4.6v1.6h-4.6zM444.5 703.1h4.6v1.6h-4.6zM447.3 703h4.6v1.6h-4.6z" fill="#000"/>
<path d="M95.3 941.2h4.6v1.6h-4.6zM98.1 935.8h4.6v1.6h-4.6zM100.9 929h4.6v1.6h-4.6zM103.7 921.9h4.6v1.6h-4.6zM106.6 914.8h4.6v1.6h-4.6zM109.4 907.7h4.6v1.6h-4.6zM112.2 900.5h4.6v1.6h-4.6zM115 893.2h4.6v1.6h-4.6zM117.8 885.9h4.6v1.6h-4.6zM120.6 878.2h4.6v1.6h-4.6zM123.5 870h4.6v1.6h-4.6zM126.3 862h4.6v1.6h-4.6zM129.1 854.4h4.6v1.6h-4.6zM131.9 847.1h4.6v1.6h-4.6zM134.7 840.2h4.6v1.6h-4.6zM137.5 833.7h4.6v1.6h-4.6zM140.4 827.4h4.6v1.6h-4.6zM143.2 821.1h4.6v1.6h-4.6zM146 814.8h4.6v1.6h-4.6zM148.8 809.2h4.6v1.6h-4.6zM151.6 804.2h4.6v1.6h-4.6zM154.4 799.8h4.6v1.6h-4.6zM157.3 796h4.6v1.6h-4.6zM160.1 792.6h4.6v1.6h-4.6zM162.9 789.5h4.6v1.6h-4.6zM165.7 786.5h4.6v1.6h-4.6zM168.5 783.7h4.6v1.6h-4.6zM171.3 781.1h4.6v1.6h-4.6zM174.1 778.6h4.6v1.6h-4.6zM177 776.1h4.6v1.6h-4.6zM179.8 773.9h4.6v1.6h-4.6zM182.6 771.8h4.6v1.6h-4.6zM185.4 770.1h4.6v1.6h-4.6zM188.2 768.6h4.6v1.6h-4.6zM191 767.3h4.6v1.6h-4.6zM193.9 766.1h4.6v1.6h-4.6zM196.7 765h4.6v1.6h-4.6zM199.5 764h4.6v1.6h-4.6zM202.3 763h4.6v1.6h-4.6zM205.1 762.2h4.6v1.6h-4.6zM207.9 761.4h4.6v1.6h-4.6zM210.8 760.7h4.6v1.6h-4.6zM213.6 760.1h4.6v1.6h-4.6zM216.4 759.5h4.6v1.6h-4.6zM219.2 759h4.6v1.6h-4.6zM222 758.5h4.6v1.6h-4.6zM224.8 758h4.6v1.6h-4.6zM227.7 757.6h4.6v1.6h-4.6zM230.5 757.2h4.6v1.6h-4.6zM233.3 756.8h4.6v1.6h-4.6zM236.1 756.4h4.6v1.6h-4.6zM238.9 756h4.6v1.6h-4.6zM241.7 755.7h4.6v1.6h-4.6zM244.5 755.3h4.6v1.6h-4.6zM247.4 754.9h4.6v1.6h-4.6zM250.2 754.5h4.6v1.6h-4.6zM253 754.2h4.6v1.6h-4.6zM255.8 753.8h4.6v1.6h-4.6zM258.6 753.5h4.6v1.6h-4.6zM261.4 753.1h4.6v1.6h-4.6zM264.3 752.8h4.6v1.6h-4.6zM267.1 752.4h4.6v1.6h-4.6zM269.9 752.1h4.6v1.6h-4.6zM272.7 751.7h4.6v1.6h-4.6zM275.5 751.4h4.6v1.6h-4.6zM278.3 751.1h4.6v1.6h-4.6zM281.2 750.8h4.6v1.6h-4.6zM284 750.5h4.6v1.6h-4.6zM286.8 750.2h4.6v1.6h-4.6zM289.6 749.8h4.6v1.6h-4.6zM292.4 749.6h4.6v1.6h-4.6zM295.2 749.3h4.6v1.6h-4.6zM298.1 749h4.6v1.6h-4.6zM300.9 748.7h4.6v1.6h-4.6zM303.7 748.4h4.6v1.6h-4.6zM306.5 748.2h4.6v1.6h-4.6zM309.3 747.9h4.6v1.6h-4.6zM312.1 747.6h4.6v1.6h-4.6zM314.9 747.4h4.6v1.6h-4.6zM317.8 747.1h4.6v1.6h-4.6zM320.6 746.9h4.6v1.6h-4.6zM323.4 746.6h4.6v1.6h-4.6zM326.2 746.4h4.6v1.6h-4.6zM329 746.2h4.6v1.6h-4.6zM331.8 745.9h4.6v1.6h-4.6zM334.7 745.7h4.6v1.6h-4.6zM337.5 745.4h4.6v1.6h-4.6zM340.3 745.2h4.6v1.6h-4.6zM343.1 745h4.6v1.6h-4.6zM345.9 744.7h4.6v1.6h-4.6zM348.7 744.5h4.6v1.6h-4.6zM351.6 744.2h4.6v1.6h-4.6zM354.4 744h4.6v1.6h-4.6zM357.2 743.7h4.6v1.6h-4.6zM360 743.5h4.6v1.6h-4.6zM362.8 743.2h4.6v1.6h-4.6zM365.6 742.9h4.6v1.6h-4.6zM368.5 742.7h4.6v1.6h-4.6zM371.3 742.4h4.6v1.6h-4.6zM374.1 742.2h4.6v1.6h-4.6zM376.9 741.9h4.6v1.6h-4.6zM379.7 741.7h4.6v1.6h-4.6zM382.5 741.4h4.6v1.6h-4.6zM385.3 741.2h4.6v1.6h-4.6zM388.2 741h4.6v1.6h-4.6zM391 740.8h4.6v1.6h-4.6zM393.8 740.6h4.6v1.6h-4.6zM396.6 740.4h4.6v1.6h-4.6zM399.4 740.2h4.6v1.6h-4.6zM402.2 740h4.6v1.6h-4.6zM405.1 739.8h4.6v1.6h-4.6zM407.9 739.6h4.6v1.6h-4.6zM410.7 739.4h4.6v1.6h-4.6zM413.5 739.2h4.6v1.6h-4.6zM416.3 739h4.6v1.6h-4.6zM419.1 738.9h4.6v1.6h-4.6zM422 738.7h4.6v1.6h-4.6zM424.8 738.5h4.6v1.6h-4.6zM427.6 738.4h4.6v1.6h-4.6zM430.4 738.2h4.6v1.6h-4.6zM433.2 738h4.6v1.6h-4.6zM436 737.9h4.6v1.6h-4.6zM438.9 737.7h4.6v1.6h-4.6zM441.7 737.6h4.6v1.6h-4.6zM444.5 737.5h4.6v1.6h-4.6zM447.3 737.4h4.6v1.6h-4.6z" fill="#000"/>
<path d="M95.3 941h4.6v1.6h-4.6zM98.1 935.3h4.6v1.6h-4.6zM100.9 928h4.6v1.6h-4.6zM103.7 920.6h4.6v1.6h-4.6zM106.6 913.2h4.6v1.6h-4.6zM109.4 905.8h4.6v1.6h-4.6zM112.2 898.4h4.6v1.6h-4.6zM115 891.1h4.6v1.6h-4.6zM117.8 884.2h4.6v1.6h-4.6zM120.6 877.7h4.6v1.6h-4.6zM123.5 871.6h4.6v1.6h-4.6zM126.3 865.8h4.6v1.6h-4.6zM129.1 860.4h4.6v1.6h-4.6zM131.9 855.5h4.6v1.6h-4.6zM134.7 851.1h4.6v1.6h-4.6zM137.5 847.1h4.6v1.6h-4.6zM140.4 842.8h4.6v1.6h-4.6zM143.2 838.1h4.6v1.6h-4.6zM146 834.1h4.6v1.6h-4.6zM148.8 830.5h4.6v1.6h-4.6zM151.6 827.3h4.6v1.6h-4.6zM154.4 824.4h4.6v1.6h-4.6zM157.3 821.8h4.6v1.6h-4.6zM160.1 819.6h4.6v1.6h-4.6zM162.9 817.8h4.6v1.6h-4.6zM165.7 816.2h4.6v1.6h-4.6zM168.5 814.8h4.6v1.6h-4.6zM171.3 813.6h4.6v1.6h-4.6zM174.1 812.6h4.6v1.6h-4.6zM177 811.6h4.6v1.6h-4.6zM179.8 810.7h4.6v1.6h-4.6zM182.6 809.9h4.6v1.6h-4.6zM185.4 809.2h4.6v1.6h-4.6zM188.2 808.6h4.6v1.6h-4.6zM191 808h4.6v1.6h-4.6zM193.9 807.5h4.6v1.6h-4.6zM196.7 807h4.6v1.6h-4.6zM199.5 806.6h4.6v1.6h-4.6zM202.3 806.1h4.6v1.6h-4.6zM205.1 805.7h4.6v1.6h-4.6zM207.9 805.3h4.6v1.6h-4.6zM210.8 804.8h4.6v1.6h-4.6zM213.6 804.5h4.6v1.6h-4.6zM216.4 804.1h4.6v1.6h-4.6zM219.2 803.8h4.6v1.6h-4.6zM222 803.5h4.6v1.6h-4.6zM224.8 803.3h4.6v1.6h-4.6zM227.7 803h4.6v1.6h-4.6zM230.5 802.8h4.6v1.6h-4.6zM233.3 802.5h4.6v1.6h-4.6zM236.1 802.3h4.6v1.6h-4.6zM238.9 802h4.6v1.6h-4.6zM241.7 801.7h4.6v1.6h-4.6zM244.5 801.5h4.6v1.6h-4.6zM247.4 801.2h4.6v1.6h-4.6zM250.2 801h4.6v1.6h-4.6zM253 800.7h4.6v1.6h-4.6zM255.8 800.4h4.6v1.6h-4.6zM258.6 800.2h4.6v1.6h-4.6zM261.4 799.9h4.6v1.6h-4.6zM264.3 799.6h4.6v1.6h-4.6zM267.1 799.4h4.6v1.6h-4.6zM269.9 799.1h4.6v1.6h-4.6zM272.7 798.8h4.6v1.6h-4.6zM275.5 798.6h4.6v1.6h-4.6zM278.3 798.3h4.6v1.6h-4.6zM281.2 798.1h4.6v1.6h-4.6zM284 797.9h4.6v1.6h-4.6zM286.8 797.6h4.6v1.6h-4.6zM289.6 797.4h4.6v1.6h-4.6zM292.4 797.2h4.6v1.6h-4.6zM295.2 797h4.6v1.6h-4.6zM298.1 796.8h4.6v1.6h-4.6zM300.9 796.6h4.6v1.6h-4.6zM303.7 796.4h4.6v1.6h-4.6zM306.5 796.2h4.6v1.6h-4.6zM309.3 796h4.6v1.6h-4.6zM312.1 795.9h4.6v1.6h-4.6zM314.9 795.7h4.6v1.6h-4.6zM317.8 795.5h4.6v1.6h-4.6zM320.6 795.3h4.6v1.6h-4.6zM323.4 795.2h4.6v1.6h-4.6zM326.2 795h4.6v1.6h-4.6zM329 794.9h4.6v1.6h-4.6zM331.8 794.7h4.6v1.6h-4.6zM334.7 794.5h4.6v1.6h-4.6zM337.5 794.4h4.6v1.6h-4.6zM340.3 794.2h4.6v1.6h-4.6zM343.1 794.1h4.6v1.6h-4.6zM345.9 793.9h4.6v1.6h-4.6zM348.7 793.8h4.6v1.6h-4.6zM351.6 793.6h4.6v1.6h-4.6zM354.4 793.5h4.6v1.6h-4.6zM357.2 793.3h4.6v1.6h-4.6zM360 793.2h4.6v1.6h-4.6zM362.8 793h4.6v1.6h-4.6zM365.6 792.9h4.6v1.6h-4.6zM368.5 792.7h4.6v1.6h-4.6zM371.3 792.6h4.6v1.6h-4.6zM374.1 792.5h4.6v1.6h-4.6zM376.9 792.3h4.6v1.6h-4.6zM379.7 792.2h4.6v1.6h-4.6zM382.5 792h4.6v1.6h-4.6zM385.3 791.9h4.6v1.6h-4.6zM388.2 791.7h4.6v1.6h-4.6zM391 791.6h4.6v1.6h-4.6zM393.8 791.4h4.6v1.6h-4.6zM396.6 791.3h4.6v1.6h-4.6zM399.4 791.1h4.6v1.6h-4.6zM402.2 791h4.6v1.6h-4.6zM405.1 790.9h4.6v1.6h-4.6zM407.9 790.7h4.6v1.6h-4.6zM410.7 790.6h4.6v1.6h-4.6zM413.5 790.4h4.6v1.6h-4.6zM416.3 790.3h4.6v1.6h-4.6zM419.1 790.1h4.6v1.6h-4.6zM422 790h4.6v1.6h-4.6zM424.8 789.9h4.6v1.6h-4.6zM427.6 789.7h4.6v1.6h-4.6zM430.4 789.6h4.6v1.6h-4.6zM433.2 789.5h4.6v1.6h-4.6zM436 789.3h4.6v1.6h-4.6zM438.9 789.2h4.6v1.6h-4.6zM441.7 789.1h4.6v1.6h-4.6zM444.5 788.9h4.6v1.6h-4.6zM447.3 788.8h4.6v1.6h-4.6z" fill="#000"/>
<path d="M95.3 941.6h4.6v1.6h-4.6zM98.1 937.6h4.6v1.6h-4.6zM100.9 932.5h4.6v1.6h-4.6zM103.7 927.1h4.6v1.6h-4.6zM106.6 921.6h4.6v1.6h-4.6zM109.4 916.2h4.6v1.6h-4.6zM112.2 911.3h4.6v1.6h-4.6zM115 906.5h4.6v1.6h-4.6zM117.8 901.8h4.6v1.6h-4.6zM120.6 897.1h4.6v1.6h-4.6zM123.5 892.4h4.6v1.6h-4.6zM126.3 888h4.6v1.6h-4.6zM129.1 883.9h4.6v1.6h-4.6zM131.9 880h4.6v1.6h-4.6zM134.7 876.2h4.6v1.6h-4.6zM137.5 873.1h4.6v1.6h-4.6zM140.4 870.6h4.6v1.6h-4.6zM143.2 868.6h4.6v1.6h-4.6zM146 866.9h4.6v1.6h-4.6zM148.8 865.4h4.6v1.6h-4.6zM151.6 864.2h4.6v1.6h-4.6zM154.4 863.1h4.6v1.6h-4.6zM157.3 862.2h4.6v1.6h-4.6zM160.1 861.3h4.6v1.6h-4.6zM162.9 860.6h4.6v1.6h-4.6zM165.7 859.9h4.6v1.6h-4.6zM168.5 859.3h4.6v1.6h-4.6zM171.3 858.7h4.6v1.6h-4.6zM174.1 858.2h4.6v1.6h-4.6zM177 857.7h4.6v1.6h-4.6zM179.8 857.2h4.6v1.6h-4.6zM182.6 856.8h4.6v1.6h-4.6zM185.4 856.3h4.6v1.6h-4.6zM188.2 855.9h4.6v1.6h-4.6zM191 855.5h4.6v1.6h-4.6zM193.9 855.1h4.6v1.6h-4.6zM196.7 854.8h4.6v1.6h-4.6zM199.5 854.5h4.6v1.6h-4.6zM202.3 854.2h4.6v1.6h-4.6zM205.1 853.9h4.6v1.6h-4.6zM207.9 853.7h4.6v1.6h-4.6zM210.8 853.4h4.6v1.6h-4.6zM213.6 853.2h4.6v1.6h-4.6zM216.4 853h4.6v1.6h-4.6zM219.2 852.8h4.6v1.6h-4.6zM222 852.5h4.6v1.6h-4.6zM224.8 852.3h4.6v1.6h-4.6zM227.7 852.1h4.6v1.6h-4.6zM230.5 851.9h4.6v1.6h-4.6zM233.3 851.7h4.6v1.6h-4.6zM236.1 851.5h4.6v1.6h-4.6zM238.9 851.3h4.6v1.6h-4.6zM241.7 851h4.6v1.6h-4.6zM244.5 850.8h4.6v1.6h-4.6zM247.4 850.6h4.6v1.6h-4.6zM250.2 850.3h4.6v1.6h-4.6zM253 850.1h4.6v1.6h-4.6zM255.8 849.9h4.6v1.6h-4.6zM258.6 849.7h4.6v1.6h-4.6zM261.4 849.4h4.6v1.6h-4.6zM264.3 849.2h4.6v1.6h-4.6zM267.1 849h4.6v1.6h-4.6zM269.9 848.8h4.6v1.6h-4.6zM272.7 848.6h4.6v1.6h-4.6zM275.5 848.3h4.6v1.6h-4.6zM278.3 848.1h4.6v1.6h-4.6zM281.2 847.9h4.6v1.6h-4.6zM284 847.7h4.6v1.6h-4.6zM286.8 847.5h4.6v1.6h-4.6zM289.6 847.3h4.6v1.6h-4.6zM292.4 847.1h4.6v1.6h-4.6zM295.2 847h4.6v1.6h-4.6zM298.1 846.8h4.6v1.6h-4.6zM300.9 846.6h4.6v1.6h-4.6zM303.7 846.4h4.6v1.6h-4.6zM306.5 846.3h4.6v1.6h-4.6zM309.3 846.1h4.6v1.6h-4.6zM312.1 845.9h4.6v1.6h-4.6zM314.9 845.8h4.6v1.6h-4.6zM317.8 845.6h4.6v1.6h-4.6zM320.6 845.5h4.6v1.6h-4.6zM323.4 845.3h4.6v1.6h-4.6zM326.2 845.2h4.6v1.6h-4.6zM329 845h4.6v1.6h-4.6zM331.8 844.9h4.6v1.6h-4.6zM334.7 844.7h4.6v1.6h-4.6zM337.5 844.6h4.6v1.6h-4.6zM340.3 844.4h4.6v1.6h-4.6zM343.1 844.3h4.6v1.6h-4.6zM345.9 844.2h4.6v1.6h-4.6zM348.7 844h4.6v1.6h-4.6zM351.6 843.9h4.6v1.6h-4.6zM354.4 843.7h4.6v1.6h-4.6zM357.2 843.6h4.6v1.6h-4.6zM360 843.5h4.6v1.6h-4.6zM362.8 843.3h4.6v1.6h-4.6zM365.6 843.2h4.6v1.6h-4.6zM368.5 843.1h4.6v1.6h-4.6zM371.3 842.9h4.6v1.6h-4.6zM374.1 842.8h4.6v1.6h-4.6zM376.9 842.6h4.6v1.6h-4.6zM379.7 842.5h4.6v1.6h-4.6zM382.5 842.4h4.6v1.6h-4.6zM385.3 842.2h4.6v1.6h-4.6zM388.2 842.1h4.6v1.6h-4.6zM391 841.9h4.6v1.6h-4.6zM393.8 841.8h4.6v1.6h-4.6zM396.6 841.6h4.6v1.6h-4.6zM399.4 841.5h4.6v1.6h-4.6zM402.2 841.4h4.6v1.6h-4.6zM405.1 841.2h4.6v1.6h-4.6zM407.9 841.1h4.6v1.6h-4.6zM410.7 840.9h4.6v1.6h-4.6zM413.5 840.8h4.6v1.6h-4.6zM416.3 840.7h4.6v1.6h-4.6zM419.1 840.5h4.6v1.6h-4.6zM422 840.4h4.6v1.6h-4.6zM424.8 840.2h4.6v1.6h-4.6zM427.6 840.1h4.6v1.6h-4.6zM430.4 840h4.6v1.6h-4.6zM433.2 839.8h4.6v1.6h-4.6zM436 839.7h4.6v1.6h-4.6zM438.9 839.6h4.6v1.6h-4.6zM441.7 839.4h4.6v1.6h-4.6zM444.5 839.3h4.6v1.6h-4.6zM447.3 839.2h4.6v1.6h-4.6z" fill="#000"/>
<path d="M95.3 941.8h4.6v1.6h-4.6zM98.1 938.4h4.6v1.6h-4.6zM100.9 933.9h4.6v1.6h-4.6zM103.7 929.4h4.6v1.6h-4.6zM106.6 924.7h4.6v1.6h-4.6zM109.4 920h4.6v1.6h-4.6zM112.2 915.4h4.6v1.6h-4.6zM115 911.6h4.6v1.6h-4.6zM117.8 908.6h4.6v1.6h-4.6zM120.6 906.1h4.6v1.6h-4.6zM123.5 904h4.6v1.6h-4.6zM126.3 902.3h4.6v1.6h-4.6zM129.1 900.8h4.6v1.6h-4.6zM131.9 899.5h4.6v1.6h-4.6zM134.7 898.1h4.6v1.6h-4.6zM137.5 896.8h4.6v1.6h-4.6zM140.4 895.6h4.6v1.6h-4.6zM143.2 894.6h4.6v1.6h-4.6zM146 893.8h4.6v1.6h-4.6zM148.8 893.1h4.6v1.6h-4.6zM151.6 892.4h4.6v1.6h-4.6zM154.4 891.9h4.6v1.6h-4.6zM157.3 891.4h4.6v1.6h-4.6zM160.1 890.9h4.6v1.6h-4.6zM162.9 890.5h4.6v1.6h-4.6zM165.7 890.1h4.6v1.6h-4.6zM168.5 889.7h4.6v1.6h-4.6zM171.3 889.4h4.6v1.6h-4.6zM174.1 889h4.6v1.6h-4.6zM177 888.7h4.6v1.6h-4.6zM179.8 888.4h4.6v1.6h-4.6zM182.6 888.1h4.6v1.6h-4.6zM185.4 887.7h4.6v1.6h-4.6zM188.2 887.4h4.6v1.6h-4.6zM191 887.2h4.6v1.6h-4.6zM193.9 886.9h4.6v1.6h-4.6zM196.7 886.6h4.6v1.6h-4.6zM199.5 886.4h4.6v1.6h-4.6zM202.3 886.1h4.6v1.6h-4.6zM205.1 885.9h4.6v1.6h-4.6zM207.9 885.7h4.6v1.6h-4.6zM210.8 885.5h4.6v1.6h-4.6zM213.6 885.2h4.6v1.6h-4.6zM216.4 885h4.6v1.6h-4.6zM219.2 884.8h4.6v1.6h-4.6zM222 884.6h4.6v1.6h-4.6zM224.8 884.4h4.6v1.6h-4.6zM227.7 884.2h4.6v1.6h-4.6zM230.5 884h4.6v1.6h-4.6zM233.3 883.9h4.6v1.6h-4.6zM236.1 883.7h4.6v1.6h-4.6zM238.9 883.5h4.6v1.6h-4.6zM241.7 883.3h4.6v1.6h-4.6zM244.5 883.1h4.6v1.6h-4.6zM247.4 883h4.6v1.6h-4.6zM250.2 882.8h4.6v1.6h-4.6zM253 882.6h4.6v1.6h-4.6zM255.8 882.5h4.6v1.6h-4.6zM258.6 882.3h4.6v1.6h-4.6zM261.4 882.1h4.6v1.6h-4.6zM264.3 882h4.6v1.6h-4.6zM267.1 881.8h4.6v1.6h-4.6zM269.9 881.7h4.6v1.6h-4.6zM272.7 881.5h4.6v1.6h-4.6zM275.5 881.3h4.6v1.6h-4.6zM278.3 881.2h4.6v1.6h-4.6zM281.2 881h4.6v1.6h-4.6zM284 880.9h4.6v1.6h-4.6zM286.8 880.7h4.6v1.6h-4.6zM289.6 880.6h4.6v1.6h-4.6zM292.4 880.4h4.6v1.6h-4.6zM295.2 880.3h4.6v1.6h-4.6zM298.1 880.1h4.6v1.6h-4.6zM300.9 880h4.6v1.6h-4.6zM303.7 879.8h4.6v1.6h-4.6zM306.5 879.7h4.6v1.6h-4.6zM309.3 879.5h4.6v1.6h-4.6zM312.1 879.4h4.6v1.6h-4.6zM314.9 879.2h4.6v1.6h-4.6zM317.8 879.1h4.6v1.6h-4.6zM320.6 878.9h4.6v1.6h-4.6zM323.4 878.8h4.6v1.6h-4.6zM326.2 878.6h4.6v1.6h-4.6zM329 878.5h4.6v1.6h-4.6zM331.8 878.3h4.6v1.6h-4.6zM334.7 878.2h4.6v1.6h-4.6zM337.5 878h4.6v1.6h-4.6zM340.3 877.9h4.6v1.6h-4.6zM343.1 877.7h4.6v1.6h-4.6zM345.9 877.6h4.6v1.6h-4.6zM348.7 877.4h4.6v1.6h-4.6zM351.6 877.3h4.6v1.6h-4.6zM354.4 877.1h4.6v1.6h-4.6zM357.2 877h4.6v1.6h-4.6zM360 876.8h4.6v1.6h-4.6zM362.8 876.7h4.6v1.6h-4.6zM365.6 876.5h4.6v1.6h-4.6zM368.5 876.4h4.6v1.6h-4.6zM371.3 876.3h4.6v1.6h-4.6zM374.1 876.1h4.6v1.6h-4.6zM376.9 876h4.6v1.6h-4.6zM379.7 875.8h4.6v1.6h-4.6zM382.5 875.7h4.6v1.6h-4.6zM385.3 875.5h4.6v1.6h-4.6zM388.2 875.4h4.6v1.6h-4.6zM391 875.2h4.6v1.6h-4.6zM393.8 875.1h4.6v1.6h-4.6zM396.6 875h4.6v1.6h-4.6zM399.4 874.8h4.6v1.6h-4.6zM402.2 874.7h4.6v1.6h-4.6zM405.1 874.5h4.6v1.6h-4.6zM407.9 874.4h4.6v1.6h-4.6zM410.7 874.3h4.6v1.6h-4.6zM413.5 874.1h4.6v1.6h-4.6zM416.3 874h4.6v1.6h-4.6zM419.1 873.8h4.6v1.6h-4.6zM422 873.7h4.6v1.6h-4.6zM424.8 873.6h4.6v1.6h-4.6zM427.6 873.4h4.6v1.6h-4.6zM430.4 873.3h4.6v1.6h-4.6zM433.2 873.1h4.6v1.6h-4.6zM436 873h4.6v1.6h-4.6zM438.9 872.9h4.6v1.6h-4.6zM441.7 872.7h4.6v1.6h-4.6zM444.5 872.6h4.6v1.6h-4.6zM447.3 872.5h4.6v1.6h-4.6z" fill="#000"/>
<path d="M95.3 941.6h4.6v1.6h-4.6zM98.1 937.9h4.6v1.6h-4.6zM100.9 933.6h4.6v1.6h-4.6zM103.7 930.6h4.6v1.6h-4.6zM106.6 928.7h4.6v1.6h-4.6zM109.4 927.2h4.6v1.6h-4.6zM112.2 925.7h4.6v1.6h-4.6zM115 924.2h4.6v1.6h-4.6zM117.8 922.9h4.6v1.6h-4.6zM120.6 922h4.6v1.6h-4.6zM123.5 921.3h4.6v1.6h-4.6zM126.3 920.7h4.6v1.6h-4.6zM129.1 920.2h4.6v1.6h-4.6zM131.9 919.8h4.6v1.6h-4.6zM134.7 919.4h4.6v1.6h-4.6zM137.5 919h4.6v1.6h-4.6zM140.4 918.7h4.6v1.6h-4.6zM143.2 918.4h4.6v1.6h-4.6zM146 918.1h4.6v1.6h-4.6zM148.8 917.7h4.6v1.6h-4.6zM151.6 917.5h4.6v1.6h-4.6zM154.4 917.2h4.6v1.6h-4.6zM157.3 916.9h4.6v1.6h-4.6zM160.1 916.6h4.6v1.6h-4.6zM162.9 916.4h4.6v1.6h-4.6zM165.7 916.2h4.6v1.6h-4.6zM168.5 915.9h4.6v1.6h-4.6zM171.3 915.7h4.6v1.6h-4.6zM174.1 915.5h4.6v1.6h-4.6zM177 915.3h4.6v1.6h-4.6zM179.8 915.1h4.6v1.6h-4.6zM182.6 914.8h4.6v1.6h-4.6zM185.4 914.7h4.6v1.6h-4.6zM188.2 914.5h4.6v1.6h-4.6zM191 914.3h4.6v1.6h-4.6zM193.9 914.1h4.6v1.6h-4.6zM196.7 914h4.6v1.6h-4.6zM199.5 913.8h4.6v1.6h-4.6zM202.3 913.7h4.6v1.6h-4.6zM205.1 913.6h4.6v1.6h-4.6zM207.9 913.5h4.6v1.6h-4.6zM210.8 913.3h4.6v1.6h-4.6zM213.6 913.2h4.6v1.6h-4.6zM216.4 913.1h4.6v1.6h-4.6zM219.2 913h4.6v1.6h-4.6zM222 912.9h4.6v1.6h-4.6zM224.8 912.8h4.6v1.6h-4.6zM227.7 912.7h4.6v1.6h-4.6zM230.5 912.6h4.6v1.6h-4.6zM233.3 912.5h4.6v1.6h-4.6zM236.1 912.4h4.6v1.6h-4.6zM238.9 912.4h4.6v1.6h-4.6zM241.7 912.3h4.6v1.6h-4.6zM244.5 912.2h4.6v1.6h-4.6zM247.4 912.1h4.6v1.6h-4.6zM250.2 912h4.6v1.6h-4.6zM253 911.9h4.6v1.6h-4.6zM255.8 911.9h4.6v1.6h-4.6zM258.6 911.8h4.6v1.6h-4.6zM261.4 911.7h4.6v1.6h-4.6zM264.3 911.7h4.6v1.6h-4.6zM267.1 911.6h4.6v1.6h-4.6zM269.9 911.5h4.6v1.6h-4.6zM272.7 911.4h4.6v1.6h-4.6zM275.5 911.4h4.6v1.6h-4.6zM278.3 911.3h4.6v1.6h-4.6zM281.2 911.2h4.6v1.6h-4.6zM284 911.2h4.6v1.6h-4.6zM286.8 911.1h4.6v1.6h-4.6zM289.6 911h4.6v1.6h-4.6zM292.4 911h4.6v1.6h-4.6zM295.2 910.9h4.6v1.6h-4.6zM298.1 910.8h4.6v1.6h-4.6zM300.9 910.7h4.6v1.6h-4.6zM303.7 910.7h4.6v1.6h-4.6zM306.5 910.6h4.6v1.6h-4.6zM309.3 910.5h4.6v1.6h-4.6zM312.1 910.4h4.6v1.6h-4.6zM314.9 910.4h4.6v1.6h-4.6zM317.8 910.3h4.6v1.6h-4.6zM320.6 910.2h4.6v1.6h-4.6zM323.4 910.1h4.6v1.6h-4.6zM326.2 910.1h4.6v1.6h-4.6zM329 910h4.6v1.6h-4.6zM331.8 909.9h4.6v1.6h-4.6zM334.7 909.8h4.6v1.6h-4.6zM337.5 909.8h4.6v1.6h-4.6zM340.3 909.7h4.6v1.6h-4.6zM343.1 909.6h4.6v1.6h-4.6zM345.9 909.5h4.6v1.6h-4.6zM348.7 909.5h4.6v1.6h-4.6zM351.6 909.4h4.6v1.6h-4.6zM354.4 909.3h4.6v1.6h-4.6zM357.2 909.2h4.6v1.6h-4.6zM360 909.1h4.6v1.6h-4.6zM362.8 909.1h4.6v1.6h-4.6zM365.6 909h4.6v1.6h-4.6zM368.5 908.9h4.6v1.6h-4.6zM371.3 908.8h4.6v1.6h-4.6zM374.1 908.8h4.6v1.6h-4.6zM376.9 908.7h4.6v1.6h-4.6zM379.7 908.6h4.6v1.6h-4.6zM382.5 908.5h4.6v1.6h-4.6zM385.3 908.4h4.6v1.6h-4.6zM388.2 908.4h4.6v1.6h-4.6zM391 908.3h4.6v1.6h-4.6zM393.8 908.2h4.6v1.6h-4.6zM396.6 908.1h4.6v1.6h-4.6zM399.4 908h4.6v1.6h-4.6zM402.2 907.9h4.6v1.6h-4.6zM405.1 907.8h4.6v1.6h-4.6zM407.9 907.8h4.6v1.6h-4.6zM410.7 907.7h4.6v1.6h-4.6zM413.5 907.6h4.6v1.6h-4.6zM416.3 907.5h4.6v1.6h-4.6zM419.1 907.4h4.6v1.6h-4.6zM422 907.3h4.6v1.6h-4.6zM424.8 907.2h4.6v1.6h-4.6zM427.6 907.2h4.6v1.6h-4.6zM430.4 907.1h4.6v1.6h-4.6zM433.2 907h4.6v1.6h-4.6zM436 906.9h4.6v1.6h-4.6zM438.9 906.8h4.6v1.6h-4.6zM441.7 906.7h4.6v1.6h-4.6zM444.5 906.6h4.6v1.6h-4.6zM447.3 906.5h4.6v1.6h-4.6z" fill="#000"/>
<rect x="391.6" y="573.4" width="144.2" height="374.6" fill="#fff" stroke="#444" stroke-width="1"/>
<line x1="396.7" x2="433.8" y1="586.2" y2="586.2" stroke="#FF00FF" stroke-width="1.4"/>
<path d="M414.9 581.6l4.6 4.6l-4.6 4.6l-4.6 -4.6z" fill="#FF00FF"/>
<text x="438.2" y="592.3" font-size="17" textLength="56.9" lengthAdjust="spacingAndGlyphs" fill="#000">IDS<tspan fill="#999" stroke="none">_</tspan>0.5V</text>
<line x1="396.7" x2="433.8" y1="607.8" y2="607.8" stroke="#FF00FF" stroke-width="1.4"/>
<path d="M410.7 603.5h8.4v8.4h-8.4z" fill="#FF00FF"/>
<text x="438.2" y="613.9" font-size="17" textLength="56.9" lengthAdjust="spacingAndGlyphs" fill="#000">IDS<tspan fill="#999" stroke="none">_</tspan>0.8V</text>
<line x1="396.7" x2="433.8" y1="629.3" y2="629.3" stroke="#FF00FF" stroke-width="1.4"/>
<path d="M414.9 624.7L419.5 633H410.3z" fill="#FF00FF"/>
<text x="438.2" y="635.4" font-size="17" textLength="56.9" lengthAdjust="spacingAndGlyphs" fill="#000">IDS<tspan fill="#999" stroke="none">_</tspan>1.0V</text>
<line x1="396.7" x2="433.8" y1="650.9" y2="650.9" stroke="#FF00FF" stroke-width="1.4"/>
<path d="M410.7 650.9a4.2 4.2 0 1 0 8.4 0a4.2 4.2 0 1 0 -8.4 0" fill="#FF00FF"/>
<text x="438.2" y="657" font-size="17" textLength="56.9" lengthAdjust="spacingAndGlyphs" fill="#000">IDS<tspan fill="#999" stroke="none">_</tspan>1.2V</text>
<line x1="396.7" x2="433.8" y1="672.4" y2="672.4" stroke="#FF00FF" stroke-width="1.4"/>
<path d="M410.7 668.2h8.4v8.4h-8.4z" fill="#FF00FF"/>
<text x="438.2" y="678.5" font-size="17" textLength="56.9" lengthAdjust="spacingAndGlyphs" fill="#000">IDS<tspan fill="#999" stroke="none">_</tspan>1.5V</text>
<line x1="396.7" x2="433.8" y1="694" y2="694" stroke="#FF00FF" stroke-width="1.4"/>
<path d="M414.9 689.4l4.6 4.6l-4.6 4.6l-4.6 -4.6z" fill="#FF00FF"/>
<text x="438.2" y="700.1" font-size="17" textLength="56.9" lengthAdjust="spacingAndGlyphs" fill="#000">IDS<tspan fill="#999" stroke="none">_</tspan>1.8V</text>
<line x1="396.7" x2="433.8" y1="715.5" y2="715.5" stroke="#FF00FF" stroke-width="1.4"/>
<path d="M410.7 711.3h8.4v8.4h-8.4z" fill="#FF00FF"/>
<text x="438.2" y="721.6" font-size="17" textLength="56.9" lengthAdjust="spacingAndGlyphs" fill="#000">IDS<tspan fill="#999" stroke="none">_</tspan>2.0V</text>
<line x1="396.7" x2="433.8" y1="737.1" y2="737.1" stroke="#FF00FF" stroke-width="1.4"/>
<path d="M414.9 732.5L419.5 740.7H410.3z" fill="#FF00FF"/>
<text x="438.2" y="743.2" font-size="17" textLength="56.9" lengthAdjust="spacingAndGlyphs" fill="#000">IDS<tspan fill="#999" stroke="none">_</tspan>2.2V</text>
<line x1="396.7" x2="433.8" y1="758.6" y2="758.6" stroke="#FF00FF" stroke-width="1.4"/>
<path d="M410.7 758.6a4.2 4.2 0 1 0 8.4 0a4.2 4.2 0 1 0 -8.4 0" fill="#FF00FF"/>
<text x="438.2" y="764.7" font-size="17" textLength="56.9" lengthAdjust="spacingAndGlyphs" fill="#000">IDS<tspan fill="#999" stroke="none">_</tspan>2.5V</text>
<line x1="396.7" x2="433.8" y1="780.2" y2="780.2" stroke="#000" stroke-width="1.5"/>
<path d="M412.9 778.8h6v2h-6z" fill="#000"/>
<text x="438.2" y="786.3" font-size="17" textLength="56.9" lengthAdjust="spacingAndGlyphs" fill="#000">IDS<tspan fill="#999" stroke="none">_</tspan>2.5V</text>
<line x1="396.7" x2="433.8" y1="801.7" y2="801.7" stroke="#000" stroke-width="1.5"/>
<path d="M412.9 800.3h6v2h-6z" fill="#000"/>
<text x="438.2" y="807.8" font-size="17" textLength="79.4" lengthAdjust="spacingAndGlyphs" fill="#000">IDS<tspan fill="#999" stroke="none">_</tspan>2.2V<tspan fill="#999" stroke="none">_</tspan>fit</text>
<line x1="396.7" x2="433.8" y1="823.2" y2="823.2" stroke="#000" stroke-width="1.5"/>
<path d="M412.9 821.9h6v2h-6z" fill="#000"/>
<text x="438.2" y="829.4" font-size="17" textLength="79.4" lengthAdjust="spacingAndGlyphs" fill="#000">IDS<tspan fill="#999" stroke="none">_</tspan>2.0V<tspan fill="#999" stroke="none">_</tspan>fit</text>
<line x1="396.7" x2="433.8" y1="844.8" y2="844.8" stroke="#000" stroke-width="1.5"/>
<path d="M412.9 843.4h6v2h-6z" fill="#000"/>
<text x="438.2" y="850.9" font-size="17" textLength="79.4" lengthAdjust="spacingAndGlyphs" fill="#000">IDS<tspan fill="#999" stroke="none">_</tspan>1.8V<tspan fill="#999" stroke="none">_</tspan>fit</text>
<line x1="396.7" x2="433.8" y1="866.4" y2="866.4" stroke="#000" stroke-width="1.5"/>
<path d="M412.9 865h6v2h-6z" fill="#000"/>
<text x="438.2" y="872.5" font-size="17" textLength="79.4" lengthAdjust="spacingAndGlyphs" fill="#000">IDS<tspan fill="#999" stroke="none">_</tspan>1.5V<tspan fill="#999" stroke="none">_</tspan>fit</text>
<line x1="396.7" x2="433.8" y1="887.9" y2="887.9" stroke="#000" stroke-width="1.5"/>
<path d="M412.9 886.5h6v2h-6z" fill="#000"/>
<text x="438.2" y="894" font-size="17" textLength="79.4" lengthAdjust="spacingAndGlyphs" fill="#000">IDS<tspan fill="#999" stroke="none">_</tspan>1.2V<tspan fill="#999" stroke="none">_</tspan>fit</text>
<line x1="396.7" x2="433.8" y1="909.5" y2="909.5" stroke="#000" stroke-width="1.5"/>
<path d="M412.9 908.1h6v2h-6z" fill="#000"/>
<text x="438.2" y="915.6" font-size="17" textLength="79.4" lengthAdjust="spacingAndGlyphs" fill="#000">IDS<tspan fill="#999" stroke="none">_</tspan>1.0V<tspan fill="#999" stroke="none">_</tspan>fit</text>
<line x1="396.7" x2="433.8" y1="931" y2="931" stroke="#000" stroke-width="1.5"/>
<path d="M412.9 929.6h6v2h-6z" fill="#000"/>
<text x="438.2" y="937.1" font-size="17" textLength="79.4" lengthAdjust="spacingAndGlyphs" fill="#000">IDS<tspan fill="#999" stroke="none">_</tspan>0.8V<tspan fill="#999" stroke="none">_</tspan>fit</text>
<text x="136.4" y="29.6" font-size="17" textLength="319.6" lengthAdjust="spacingAndGlyphs" fill="#000">MOSFET L180 without kink effect adjustment</text>
<text x="226.8" y="54.5" font-size="17" textLength="137.7" lengthAdjust="spacingAndGlyphs" fill="#000">ΔI<tspan font-size="12" dy="4">DS</tspan><tspan dy="-4">(A) v.s. V</tspan><tspan font-size="12" dy="4">DS</tspan><tspan dy="-4">(V)</tspan></text>
<text x="39" y="51.8" font-size="17" textLength="52.8" lengthAdjust="spacingAndGlyphs" fill="#000">ΔI<tspan font-size="12" dy="3">DS</tspan><tspan dy="-3">(A)</tspan></text>
<text x="24" y="89.8" font-size="15" textLength="64.6" lengthAdjust="spacingAndGlyphs" fill="#000">4.50 × 10<tspan font-size="9" dy="-4.5">-3</tspan></text>
<text x="24" y="124" font-size="15" textLength="64.6" lengthAdjust="spacingAndGlyphs" fill="#000">4.00 × 10<tspan font-size="9" dy="-4.5">-3</tspan></text>
<text x="24" y="158.1" font-size="15" textLength="64.6" lengthAdjust="spacingAndGlyphs" fill="#000">3.50 × 10<tspan font-size="9" dy="-4.5">-3</tspan></text>
<text x="24" y="192.3" font-size="15" textLength="64.6" lengthAdjust="spacingAndGlyphs" fill="#000">3.00 × 10<tspan font-size="9" dy="-4.5">-3</tspan></text>
<text x="24" y="226.5" font-size="15" textLength="64.6" lengthAdjust="spacingAndGlyphs" fill="#000">2.50 × 10<tspan font-size="9" dy="-4.5">-3</tspan></text>
<text x="24" y="260.7" font-size="15" textLength="64.6" lengthAdjust="spacingAndGlyphs" fill="#000">2.00 × 10<tspan font-size="9" dy="-4.5">-3</tspan></text>
<text x="24" y="294.8" font-size="15" textLength="64.6" lengthAdjust="spacingAndGlyphs" fill="#000">1.50 × 10<tspan font-size="9" dy="-4.5">-3</tspan></text>
<text x="24" y="329" font-size="15" textLength="64.6" lengthAdjust="spacingAndGlyphs" fill="#000">1.00 × 10<tspan font-size="9" dy="-4.5">-3</tspan></text>
<text x="24" y="363.2" font-size="15" textLength="64.6" lengthAdjust="spacingAndGlyphs" fill="#000">5.00 × 10<tspan font-size="9" dy="-4.5">-4</tspan></text>
<text x="55.9" y="397.3" font-size="15" text-anchor="middle">0</text>
<text x="21.9" y="431.5" font-size="15" textLength="69.2" lengthAdjust="spacingAndGlyphs" fill="#000">-5.00 × 10<tspan font-size="9" dy="-4.5">-4</tspan></text>
<text x="109.4" y="457.3" font-size="15" text-anchor="middle">0</text>
<text x="183.2" y="457.3" font-size="15" text-anchor="middle">0.5</text>
<text x="257" y="457.3" font-size="15" text-anchor="middle">1</text>
<text x="330.8" y="457.3" font-size="15" text-anchor="middle">1.5</text>
<text x="404.6" y="457.3" font-size="15" text-anchor="middle">2</text>
<text x="468.7" y="457.3" font-size="15" textLength="18.9" lengthAdjust="spacingAndGlyphs" fill="#000">2.5</text>
<text x="490" y="457.6" font-size="16" textLength="48.5" lengthAdjust="spacingAndGlyphs" fill="#000">V<tspan font-size="11" dy="3">DS</tspan><tspan dy="-3">(V)</tspan></text>
<text x="135.9" y="103" font-size="18" textLength="167.5" lengthAdjust="spacing" fill="#000" style="stroke-width:0.65px">(χ,α)=(0.78,4.02x10<tspan font-size="11" dy="-7">−3</tspan><tspan dy="7">)</tspan></text>
<text x="263.4" y="491.5" font-size="18" textLength="22.4" lengthAdjust="spacingAndGlyphs" fill="#000">(<tspan font-weight="bold">b</tspan>)</text>
<text x="134.8" y="529.6" font-size="17" textLength="296.2" lengthAdjust="spacingAndGlyphs" fill="#000">MOSFET L180 with kink effect adjustment</text>
<text x="219.3" y="552.5" font-size="17" textLength="127.6" lengthAdjust="spacingAndGlyphs" fill="#000">I<tspan font-size="12" dy="4">DS</tspan><tspan dy="-4">(A) v.s. V</tspan><tspan font-size="12" dy="4">DS</tspan><tspan dy="-4">(V)</tspan></text>
<text x="30.9" y="551.8" font-size="17" textLength="42.2" lengthAdjust="spacingAndGlyphs" fill="#000">I<tspan font-size="12" dy="3">DS</tspan><tspan dy="-3">(A)</tspan></text>
<text x="17.8" y="580.2" font-size="15" textLength="65.2" lengthAdjust="spacingAndGlyphs" fill="#000">1.00 × 10<tspan font-size="9" dy="-4.5">-1</tspan></text>
<text x="17.8" y="617.1" font-size="15" textLength="65.2" lengthAdjust="spacingAndGlyphs" fill="#000">9.00 × 10<tspan font-size="9" dy="-4.5">-2</tspan></text>
<text x="17.8" y="653.9" font-size="15" textLength="65.2" lengthAdjust="spacingAndGlyphs" fill="#000">8.00 × 10<tspan font-size="9" dy="-4.5">-2</tspan></text>
<text x="17.8" y="690.8" font-size="15" textLength="65.2" lengthAdjust="spacingAndGlyphs" fill="#000">7.00 × 10<tspan font-size="9" dy="-4.5">-2</tspan></text>
<text x="17.8" y="727.7" font-size="15" textLength="65.2" lengthAdjust="spacingAndGlyphs" fill="#000">6.00 × 10<tspan font-size="9" dy="-4.5">-2</tspan></text>
<text x="17.8" y="764.6" font-size="15" textLength="65.2" lengthAdjust="spacingAndGlyphs" fill="#000">5.00 × 10<tspan font-size="9" dy="-4.5">-2</tspan></text>
<text x="17.8" y="801.4" font-size="15" textLength="65.2" lengthAdjust="spacingAndGlyphs" fill="#000">4.00 × 10<tspan font-size="9" dy="-4.5">-2</tspan></text>
<text x="17.8" y="838.3" font-size="15" textLength="65.2" lengthAdjust="spacingAndGlyphs" fill="#000">3.00 × 10<tspan font-size="9" dy="-4.5">-2</tspan></text>
<text x="17.8" y="875.2" font-size="15" textLength="65.2" lengthAdjust="spacingAndGlyphs" fill="#000">2.00 × 10<tspan font-size="9" dy="-4.5">-2</tspan></text>
<text x="17.8" y="912" font-size="15" textLength="65.2" lengthAdjust="spacingAndGlyphs" fill="#000">1.00 × 10<tspan font-size="9" dy="-4.5">-2</tspan></text>
<text x="51.3" y="948.9" font-size="15" text-anchor="middle">0</text>
<text x="97.6" y="972.9" font-size="15" text-anchor="middle">0</text>
<text x="168" y="972.9" font-size="15" text-anchor="middle">0.5</text>
<text x="238.4" y="972.9" font-size="15" text-anchor="middle">1</text>
<text x="308.8" y="972.9" font-size="15" text-anchor="middle">1.5</text>
<text x="379.2" y="972.9" font-size="15" text-anchor="middle">2</text>
<text x="449.6" y="972.9" font-size="15" text-anchor="middle">2.5</text>
<text x="477.3" y="971.8" font-size="16" textLength="48.2" lengthAdjust="spacingAndGlyphs" fill="#000">V<tspan font-size="11" dy="3">DS</tspan><tspan dy="-3">(V)</tspan></text>
<text x="265.3" y="1015.7" font-size="18" textLength="19.4" lengthAdjust="spacingAndGlyphs" fill="#000">(<tspan font-weight="bold">c</tspan>)</text>
</svg>
</body></html>
